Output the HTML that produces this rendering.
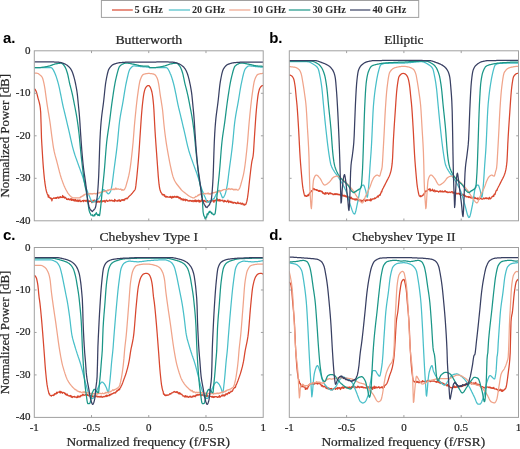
<!DOCTYPE html><html><head><meta charset="utf-8"><style>
*{margin:0;padding:0}
html,body{width:520px;height:449px;overflow:hidden;background:#fff}
svg{display:block}
text{font-family:"Liberation Serif","DejaVu Serif",serif;fill:#262626}
.t,.tk,.al{stroke:#262626;stroke-width:0.22px}
.t{font-size:12.6px}
.tk{font-size:11px}
.al{font-size:12.2px}
.lg{font-size:10.3px;font-weight:bold;fill:#2a2a2a}
.lab{font-family:"Liberation Sans",Arial,sans-serif;font-weight:bold;font-size:15px;fill:#000}
</style></head><body><svg width="520" height="449" viewBox="0 0 520 449">
<rect width="520" height="449" fill="#fff"/>
<filter id="sb" x="-5%" y="-5%" width="110%" height="110%"><feGaussianBlur stdDeviation="0.35"/></filter>
<clipPath id="cla"><rect x="34.3" y="50.3" width="228.9" height="171.0"/></clipPath>
<g clip-path="url(#cla)"><g filter="url(#sb)" fill="none" stroke-width="1.25" stroke-linejoin="round">
<path d="M34.3,88.7 34.7,89.0 35.1,89.4 35.5,90.1 35.9,90.8 36.3,91.7 36.7,92.9 37.1,94.4 37.5,96.0 37.9,97.6 38.3,99.1 38.7,100.4 39.1,101.9 39.5,103.5 39.9,105.4 40.3,108.0 40.7,112.5 41.1,124.2 41.5,138.3 41.9,145.3 42.3,151.7 42.7,158.2 43.1,164.1 43.5,169.1 43.9,173.6 44.3,177.6 44.7,181.2 45.1,184.1 45.5,186.6 45.9,188.9 46.3,190.8 46.7,192.3 47.1,193.4 47.5,194.4 47.9,195.2 48.3,197.0 48.7,195.1 49.1,197.3 49.5,197.3 49.9,197.9 50.3,198.5 50.7,197.8 51.1,198.9 51.5,198.5 51.9,200.8 52.3,199.0 52.7,198.6 53.1,198.5 53.5,198.1 53.9,197.8 54.3,198.0 54.7,198.3 55.1,197.8 55.5,198.3 55.9,197.6 56.3,197.6 56.7,198.4 57.1,197.7 57.5,197.1 57.9,197.2 58.3,197.6 58.7,198.3 59.1,197.0 59.5,197.0 59.9,197.7 60.3,196.6 60.7,196.9 61.1,197.5 61.5,197.3 61.9,197.1 62.3,197.4 62.7,195.5 63.1,197.6 63.5,196.7 63.9,196.4 64.3,197.6 64.7,198.0 65.1,197.6 65.5,197.4 65.9,198.2 66.3,198.4 66.7,199.4 67.1,199.2 67.5,199.0 67.9,199.6 68.3,199.0 68.7,198.7 69.1,199.7 69.5,199.8 69.9,199.4 70.3,199.2 70.7,199.9 71.1,198.5 71.5,200.3 71.9,200.3 72.3,199.2 72.7,200.2 73.1,199.7 73.5,200.7 73.9,199.3 74.3,199.9 74.7,200.9 75.1,201.1 75.5,199.4 75.9,200.3 76.3,200.8 76.7,200.3 77.1,201.5 77.5,200.0 77.9,200.9 78.3,200.1 78.7,201.5 79.1,200.8 79.5,200.6 79.9,199.9 80.3,201.7 80.7,201.3 81.1,201.3 81.5,201.5 81.9,201.1 82.3,200.5 82.7,200.5 83.1,200.5 83.5,201.7 83.9,200.2 84.3,200.6 84.7,200.8 85.1,201.1 85.5,201.3 85.9,200.3 86.3,200.1 86.7,201.1 87.1,201.8 87.5,201.5 87.9,201.2 88.3,201.0 88.7,201.3 89.1,201.0 89.5,201.6 89.9,200.8 90.3,201.3 90.7,201.2 91.1,201.5 91.5,201.4 91.9,202.7 92.3,202.1 92.7,202.1 93.1,200.2 93.5,201.1 93.9,201.0 94.3,201.6 94.7,200.0 95.1,201.9 95.5,201.9 95.9,200.6 96.3,200.8 96.7,200.8 97.1,201.3 97.5,201.6 97.9,202.4 98.3,201.1 98.7,201.7 99.1,201.3 99.5,202.2 99.9,201.6 100.3,201.9 100.7,200.6 101.1,201.0 101.5,200.7 101.9,202.0 102.3,201.5 102.7,200.9 103.1,200.8 103.5,201.3 103.9,200.7 104.3,200.5 104.7,201.3 105.1,202.4 105.5,200.8 105.9,200.7 106.3,200.3 106.7,200.2 107.1,201.2 107.5,201.4 107.9,200.9 108.3,201.0 108.7,200.9 109.1,200.9 109.5,200.0 109.9,200.5 110.3,200.8 110.7,200.3 111.1,200.5 111.5,200.2 111.9,200.5 112.3,201.1 112.7,200.4 113.1,200.5 113.5,201.0 113.9,200.9 114.3,201.5 114.7,199.4 115.1,201.0 115.5,200.2 115.9,200.5 116.3,200.9 116.7,201.0 117.1,201.0 117.5,200.4 117.9,201.2 118.3,200.2 118.7,200.2 119.1,200.7 119.5,199.9 119.9,201.4 120.3,200.7 120.7,201.3 121.1,200.1 121.5,199.8 121.9,200.1 122.3,200.4 122.7,199.6 123.1,200.0 123.5,199.7 123.9,200.6 124.3,199.2 124.7,200.0 125.1,199.0 125.5,198.7 125.9,198.6 126.3,198.2 126.7,198.7 127.1,198.9 127.5,198.1 127.9,197.9 128.3,197.2 128.7,196.8 129.1,196.4 129.5,196.0 129.9,195.6 130.3,195.2 130.7,194.9 131.1,194.5 131.5,194.0 131.9,193.6 132.3,193.2 132.7,192.7 133.1,192.2 133.5,191.7 133.9,191.1 134.3,190.6 134.7,190.1 135.1,189.5 135.5,188.2 135.9,185.4 136.3,181.8 136.7,178.2 137.1,174.2 137.5,170.0 137.9,165.7 138.3,161.2 138.7,156.3 139.1,150.8 139.5,144.6 139.9,138.5 140.3,132.5 140.7,126.5 141.1,120.5 141.5,115.0 141.9,110.2 142.3,105.9 142.7,102.2 143.1,98.9 143.5,95.9 143.9,93.5 144.3,91.7 144.7,90.1 145.1,88.9 145.5,88.0 145.9,87.4 146.3,86.9 146.7,86.4 147.1,86.1 147.5,85.8 147.9,85.6 148.3,85.5 148.7,85.5 149.1,85.6 149.5,86.1 149.9,86.7 150.3,87.3 150.7,88.2 151.1,89.2 151.5,90.5 151.9,92.0 152.3,94.0 152.7,96.6 153.1,100.1 153.5,104.2 153.9,109.5 154.3,117.0 154.7,125.0 155.1,131.8 155.5,138.0 155.9,143.8 156.3,149.3 156.7,154.8 157.1,160.3 157.5,165.7 157.9,171.1 158.3,176.6 158.7,181.0 159.1,184.7 159.5,187.5 159.9,189.3 160.3,190.8 160.7,191.9 161.1,192.7 161.5,193.2 161.9,193.7 162.3,194.9 162.7,194.5 163.1,194.8 163.5,194.8 163.9,194.4 164.3,196.1 164.7,195.0 165.1,196.6 165.5,196.4 165.9,197.2 166.3,196.6 166.7,196.3 167.1,197.1 167.5,196.7 167.9,197.0 168.3,197.2 168.7,197.2 169.1,197.2 169.5,196.9 169.9,197.3 170.3,196.3 170.7,197.4 171.1,196.8 171.5,198.1 171.9,198.2 172.3,196.4 172.7,197.5 173.1,197.3 173.5,196.7 173.9,197.5 174.3,196.9 174.7,196.2 175.1,197.0 175.5,197.0 175.9,197.1 176.3,196.3 176.7,197.3 177.1,197.4 177.5,196.4 177.9,196.8 178.3,197.3 178.7,197.1 179.1,198.6 179.5,197.9 179.9,197.5 180.3,197.8 180.7,198.4 181.1,199.8 181.5,198.7 181.9,199.0 182.3,199.3 182.7,199.1 183.1,200.5 183.5,199.0 183.9,199.8 184.3,199.6 184.7,200.0 185.1,199.1 185.5,200.8 185.9,199.9 186.3,200.0 186.7,199.6 187.1,199.8 187.5,200.6 187.9,200.9 188.3,200.8 188.7,201.1 189.1,200.9 189.5,200.5 189.9,201.0 190.3,200.9 190.7,200.5 191.1,201.0 191.5,201.4 191.9,200.8 192.3,200.5 192.7,201.1 193.1,201.8 193.5,200.6 193.9,200.7 194.3,200.7 194.7,201.5 195.1,199.8 195.5,201.1 195.9,201.5 196.3,200.4 196.7,201.7 197.1,201.2 197.5,200.6 197.9,201.1 198.3,200.1 198.7,200.7 199.1,202.0 199.5,200.5 199.9,202.0 200.3,201.0 200.7,201.6 201.1,201.1 201.5,199.8 201.9,200.8 202.3,201.2 202.7,200.5 203.1,200.4 203.5,201.4 203.9,200.8 204.3,200.3 204.7,200.8 205.1,201.7 205.5,201.0 205.9,201.8 206.3,202.1 206.7,201.3 207.1,200.7 207.5,200.6 207.9,201.3 208.3,201.8 208.7,201.4 209.1,201.6 209.5,201.1 209.9,201.5 210.3,201.0 210.7,201.1 211.1,200.5 211.5,200.3 211.9,200.8 212.3,200.4 212.7,200.4 213.1,201.2 213.5,200.7 213.9,202.3 214.3,201.1 214.7,200.2 215.1,200.9 215.5,200.6 215.9,199.9 216.3,200.9 216.7,199.8 217.1,198.5 217.5,200.6 217.9,199.8 218.3,200.9 218.7,199.7 219.1,199.5 219.5,201.0 219.9,199.6 220.3,200.3 220.7,201.0 221.1,200.4 221.5,200.3 221.9,200.5 222.3,200.9 222.7,200.1 223.1,200.9 223.5,201.0 223.9,202.0 224.3,200.7 224.7,200.4 225.1,201.4 225.5,200.9 225.9,201.3 226.3,201.3 226.7,202.0 227.1,201.1 227.5,201.4 227.9,200.2 228.3,201.2 228.7,202.6 229.1,201.4 229.5,201.5 229.9,201.2 230.3,202.3 230.7,202.1 231.1,201.4 231.5,202.5 231.9,202.4 232.3,202.7 232.7,202.0 233.1,203.3 233.5,202.7 233.9,202.4 234.3,202.3 234.7,202.5 235.1,203.1 235.5,202.6 235.9,203.4 236.3,203.2 236.7,203.6 237.1,203.4 237.5,203.0 237.9,202.0 238.3,203.3 238.7,203.6 239.1,203.3 239.5,203.6 239.9,203.1 240.3,203.2 240.7,203.0 241.1,204.3 241.5,203.7 241.9,203.5 242.3,203.1 242.7,203.8 243.1,204.8 243.5,204.4 243.9,203.8 244.3,205.1 244.7,205.1 245.1,204.8 245.5,204.4 245.9,204.2 246.3,203.0 246.7,201.9 247.1,200.0 247.5,197.9 247.9,195.1 248.3,192.0 248.7,188.4 249.1,184.5 249.5,180.7 249.9,177.1 250.3,173.7 250.7,170.3 251.1,167.0 251.5,164.0 251.9,161.4 252.3,159.7 252.7,158.1 253.1,156.0 253.5,152.3 253.9,145.8 254.3,139.2 254.7,133.2 255.1,127.3 255.5,121.3 255.9,115.6 256.3,110.8 256.7,106.4 257.1,102.7 257.5,99.3 257.9,96.2 258.3,93.7 258.7,91.9 259.1,90.3 259.5,89.0 259.9,88.1 260.3,87.5 260.7,86.9 261.1,86.5 261.5,86.1 261.9,85.8 262.3,85.6 262.7,85.6 263.1,85.5" stroke="#d8462e"/>
<path d="M34.3,67.5 34.7,67.5 35.1,67.5 35.5,67.5 35.9,67.5 36.3,67.5 36.7,67.5 37.1,67.5 37.5,67.5 37.9,67.5 38.3,67.5 38.7,67.5 39.1,67.5 39.5,67.5 39.9,67.5 40.3,67.5 40.7,67.5 41.1,67.5 41.5,67.5 41.9,67.5 42.3,67.5 42.7,67.5 43.1,67.5 43.5,67.5 43.9,67.5 44.3,67.5 44.7,67.5 45.1,67.5 45.5,67.5 45.9,67.5 46.3,67.5 46.7,67.5 47.1,67.5 47.5,67.5 47.9,67.5 48.3,67.5 48.7,67.5 49.1,67.5 49.5,67.5 49.9,67.6 50.3,67.6 50.7,67.6 51.1,67.6 51.5,67.8 51.9,68.1 52.3,68.5 52.7,69.0 53.1,69.6 53.5,70.3 53.9,71.1 54.3,71.9 54.7,72.8 55.1,73.8 55.5,74.8 55.9,75.8 56.3,76.9 56.7,78.1 57.1,79.4 57.5,80.7 57.9,82.1 58.3,83.6 58.7,85.2 59.1,86.9 59.5,88.7 59.9,90.6 60.3,92.6 60.7,94.5 61.1,96.5 61.5,98.5 61.9,100.6 62.3,102.6 62.7,104.5 63.1,106.3 63.5,108.1 63.9,109.7 64.3,111.4 64.7,113.0 65.1,114.6 65.5,116.3 65.9,118.0 66.3,119.7 66.7,121.4 67.1,123.1 67.5,124.8 67.9,126.5 68.3,128.2 68.7,129.9 69.1,131.6 69.5,133.4 69.9,135.2 70.3,137.0 70.7,138.8 71.1,140.6 71.5,142.3 71.9,144.1 72.3,145.8 72.7,147.4 73.1,148.9 73.5,150.3 73.9,151.7 74.3,153.0 74.7,154.3 75.1,155.5 75.5,156.6 75.9,157.8 76.3,158.9 76.7,160.0 77.1,161.1 77.5,162.3 77.9,163.4 78.3,164.5 78.7,165.6 79.1,166.7 79.5,167.8 79.9,168.9 80.3,170.0 80.7,171.1 81.1,172.2 81.5,173.3 81.9,174.4 82.3,175.6 82.7,176.8 83.1,178.1 83.5,179.4 83.9,180.7 84.3,182.1 84.7,183.4 85.1,184.7 85.5,186.0 85.9,187.2 86.3,188.4 86.7,189.6 87.1,190.6 87.5,191.7 87.9,192.8 88.3,193.8 88.7,194.7 89.1,195.6 89.5,196.5 89.9,197.4 90.3,198.4 90.7,199.3 91.1,200.2 91.5,201.1 91.9,201.7 92.3,202.1 92.7,202.3 93.1,202.2 93.5,202.0 93.9,201.8 94.3,201.7 94.7,201.4 95.1,200.7 95.5,201.1 95.9,200.5 96.3,200.8 96.7,199.3 97.1,199.8 97.5,199.6 97.9,198.9 98.3,198.8 98.7,198.6 99.1,198.0 99.5,197.1 99.9,196.3 100.3,195.8 100.7,195.0 101.1,193.8 101.5,193.0 101.9,192.2 102.3,191.6 102.7,190.2 103.1,189.7 103.5,190.0 103.9,189.7 104.3,190.1 104.7,190.5 105.1,190.8 105.5,190.6 105.9,191.5 106.3,191.2 106.7,192.4 107.1,192.8 107.5,193.3 107.9,193.7 108.3,193.8 108.7,193.7 109.1,193.4 109.5,193.0 109.9,192.5 110.3,191.8 110.7,191.0 111.1,189.6 111.5,187.7 111.9,185.6 112.3,183.1 112.7,180.2 113.1,176.9 113.5,173.6 113.9,170.5 114.3,167.5 114.7,164.6 115.1,161.6 115.5,158.7 115.9,155.7 116.3,152.6 116.7,149.4 117.1,146.0 117.5,142.4 117.9,138.3 118.3,133.9 118.7,129.5 119.1,125.4 119.5,122.0 119.9,119.1 120.3,116.5 120.7,114.1 121.1,111.9 121.5,109.8 121.9,107.7 122.3,105.6 122.7,103.4 123.1,101.1 123.5,98.7 123.9,96.2 124.3,93.7 124.7,91.2 125.1,88.8 125.5,86.5 125.9,84.4 126.3,82.5 126.7,80.7 127.1,78.8 127.5,77.0 127.9,75.3 128.3,73.7 128.7,72.2 129.1,70.9 129.5,69.9 129.9,69.1 130.3,68.6 130.7,68.1 131.1,67.7 131.5,67.3 131.9,66.9 132.3,66.6 132.7,66.3 133.1,66.1 133.5,66.0 133.9,65.9 134.3,65.9 134.7,65.9 135.1,65.9 135.5,66.0 135.9,66.0 136.3,66.0 136.7,66.1 137.1,66.1 137.5,66.2 137.9,66.2 138.3,66.3 138.7,66.3 139.1,66.4 139.5,66.4 139.9,66.5 140.3,66.6 140.7,66.6 141.1,66.6 141.5,66.7 141.9,66.7 142.3,66.7 142.7,66.8 143.1,66.8 143.5,66.8 143.9,66.8 144.3,66.9 144.7,66.9 145.1,66.9 145.5,66.9 145.9,66.9 146.3,67.0 146.7,67.0 147.1,67.0 147.5,67.1 147.9,67.1 148.3,67.1 148.7,67.2 149.1,67.3 149.5,67.5 149.9,67.5 150.3,67.5 150.7,67.5 151.1,67.5 151.5,67.5 151.9,67.5 152.3,67.5 152.7,67.5 153.1,67.5 153.5,67.5 153.9,67.5 154.3,67.5 154.7,67.5 155.1,67.5 155.5,67.5 155.9,67.5 156.3,67.5 156.7,67.5 157.1,67.5 157.5,67.5 157.9,67.5 158.3,67.5 158.7,67.5 159.1,67.5 159.5,67.5 159.9,67.5 160.3,67.5 160.7,67.5 161.1,67.5 161.5,67.5 161.9,67.5 162.3,67.5 162.7,67.5 163.1,67.5 163.5,67.5 163.9,67.5 164.3,67.5 164.7,67.5 165.1,67.6 165.5,67.6 165.9,67.6 166.3,67.6 166.7,67.8 167.1,68.1 167.5,68.4 167.9,68.9 168.3,69.5 168.7,70.2 169.1,71.0 169.5,71.8 169.9,72.7 170.3,73.7 170.7,74.6 171.1,75.6 171.5,76.7 171.9,77.9 172.3,79.2 172.7,80.5 173.1,82.0 173.5,83.4 173.9,85.0 174.3,86.7 174.7,88.5 175.1,90.4 175.5,92.3 175.9,94.2 176.3,96.2 176.7,98.3 177.1,100.3 177.5,102.4 177.9,104.3 178.3,106.1 178.7,107.9 179.1,109.5 179.5,111.2 179.9,112.8 180.3,114.4 180.7,116.1 181.1,117.8 181.5,119.5 181.9,121.2 182.3,122.9 182.7,124.6 183.1,126.3 183.5,128.0 183.9,129.7 184.3,131.4 184.7,133.2 185.1,134.9 185.5,136.7 185.9,138.5 186.3,140.3 186.7,142.1 187.1,143.9 187.5,145.6 187.9,147.2 188.3,148.7 188.7,150.2 189.1,151.5 189.5,152.8 189.9,154.1 190.3,155.3 190.7,156.5 191.1,157.6 191.5,158.8 191.9,159.9 192.3,161.0 192.7,162.1 193.1,163.3 193.5,164.4 193.9,165.5 194.3,166.6 194.7,167.7 195.1,168.8 195.5,169.9 195.9,170.9 196.3,172.0 196.7,173.1 197.1,174.3 197.5,175.5 197.9,176.7 198.3,177.9 198.7,179.2 199.1,180.6 199.5,181.9 199.9,183.2 200.3,184.6 200.7,185.8 201.1,187.1 201.5,188.3 201.9,189.4 202.3,190.5 202.7,191.6 203.1,192.6 203.5,193.6 203.9,194.6 204.3,195.5 204.7,196.4 205.1,197.3 205.5,198.2 205.9,199.2 206.3,200.1 206.7,201.0 207.1,201.6 207.5,202.1 207.9,202.3 208.3,201.8 208.7,201.7 209.1,202.0 209.5,201.4 209.9,201.0 210.3,200.8 210.7,200.9 211.1,200.4 211.5,200.2 211.9,200.2 212.3,199.4 212.7,199.2 213.1,198.9 213.5,199.1 213.9,198.7 214.3,198.3 214.7,197.3 215.1,196.4 215.5,195.8 215.9,194.6 216.3,194.2 216.7,193.3 217.1,192.0 217.5,191.3 217.9,190.6 218.3,190.7 218.7,190.8 219.1,190.3 219.5,190.9 219.9,191.1 220.3,192.7 220.7,193.4 221.1,194.4 221.5,195.5 221.9,196.6 222.3,197.4 222.7,197.8 223.1,197.7 223.5,197.3 223.9,196.8 224.3,196.0 224.7,195.2 225.1,194.3 225.5,193.1 225.9,191.6 226.3,189.9 226.7,187.9 227.1,185.8 227.5,183.5 227.9,180.6 228.3,177.3 228.7,174.0 229.1,170.9 229.5,167.9 229.9,164.9 230.3,162.0 230.7,159.1 231.1,156.1 231.5,153.0 231.9,149.8 232.3,146.5 232.7,142.9 233.1,138.9 233.5,134.5 233.9,130.0 234.3,125.9 234.7,122.4 235.1,119.5 235.5,116.8 235.9,114.4 236.3,112.2 236.7,110.0 237.1,107.9 237.5,105.8 237.9,103.7 238.3,101.4 238.7,99.0 239.1,96.5 239.5,94.0 239.9,91.5 240.3,89.1 240.7,86.8 241.1,84.7 241.5,82.8 241.9,80.9 242.3,79.1 242.7,77.2 243.1,75.5 243.5,73.9 243.9,72.4 244.3,71.1 244.7,70.0 245.1,69.2 245.5,68.7 245.9,68.2 246.3,67.7 246.7,67.3 247.1,66.9 247.5,66.6 247.9,66.3 248.3,66.1 248.7,66.0 249.1,65.9 249.5,65.9 249.9,65.9 250.3,65.9 250.7,66.0 251.1,66.0 251.5,66.0 251.9,66.1 252.3,66.1 252.7,66.2 253.1,66.2 253.5,66.3 253.9,66.3 254.3,66.4 254.7,66.4 255.1,66.5 255.5,66.5 255.9,66.6 256.3,66.6 256.7,66.7 257.1,66.7 257.5,66.7 257.9,66.8 258.3,66.8 258.7,66.8 259.1,66.9 259.5,66.9 259.9,66.9 260.3,67.0 260.7,67.0 261.1,67.0 261.5,67.0 261.9,67.1 262.3,67.1 262.7,67.1 263.1,67.1 263.5,67.2 263.9,67.2" stroke="#48bfc9"/>
<path d="M34.3,73.0 34.7,73.0 35.1,73.0 35.5,73.1 35.9,73.1 36.3,73.2 36.7,73.2 37.1,73.3 37.5,73.4 37.9,73.5 38.3,73.6 38.7,73.9 39.1,74.2 39.5,74.5 39.9,74.9 40.3,75.3 40.7,75.6 41.1,75.9 41.5,76.3 41.9,76.8 42.3,77.5 42.7,78.5 43.1,79.8 43.5,81.4 43.9,83.2 44.3,85.2 44.7,87.3 45.1,89.9 45.5,92.9 45.9,95.9 46.3,98.7 46.7,101.6 47.1,104.3 47.5,106.9 47.9,109.4 48.3,111.8 48.7,114.2 49.1,116.6 49.5,119.0 49.9,121.6 50.3,124.4 50.7,127.5 51.1,130.6 51.5,133.8 51.9,136.8 52.3,139.7 52.7,142.5 53.1,145.3 53.5,147.8 53.9,150.0 54.3,151.9 54.7,153.6 55.1,155.2 55.5,156.6 55.9,158.1 56.3,159.5 56.7,161.0 57.1,162.6 57.5,164.1 57.9,165.7 58.3,167.3 58.7,168.9 59.1,170.4 59.5,172.0 59.9,173.4 60.3,174.9 60.7,176.2 61.1,177.5 61.5,178.7 61.9,179.9 62.3,181.0 62.7,182.1 63.1,183.2 63.5,184.3 63.9,185.3 64.3,186.2 64.7,187.1 65.1,188.0 65.5,188.8 65.9,189.6 66.3,190.3 66.7,191.0 67.1,191.7 67.5,192.4 67.9,193.1 68.3,193.7 68.7,194.2 69.1,194.7 69.5,195.2 69.9,195.6 70.3,196.0 70.7,196.3 71.1,196.7 71.5,197.0 71.9,197.3 72.3,197.6 72.7,197.8 73.1,197.9 73.5,197.9 73.9,197.9 74.3,197.9 74.7,197.9 75.1,197.9 75.5,197.9 75.9,197.9 76.3,197.9 76.7,197.9 77.1,197.9 77.5,197.9 77.9,197.9 78.3,197.9 78.7,197.9 79.1,197.9 79.5,197.8 79.9,197.7 80.3,197.2 80.7,197.6 81.1,196.6 81.5,196.7 81.9,196.5 82.3,195.8 82.7,196.2 83.1,196.0 83.5,195.0 83.9,194.8 84.3,195.1 84.7,194.7 85.1,194.1 85.5,194.1 85.9,194.0 86.3,193.8 86.7,194.0 87.1,193.9 87.5,194.3 87.9,194.1 88.3,193.9 88.7,194.0 89.1,194.1 89.5,193.9 89.9,193.3 90.3,193.9 90.7,193.7 91.1,194.1 91.5,193.6 91.9,193.8 92.3,193.7 92.7,194.1 93.1,193.6 93.5,193.5 93.9,193.7 94.3,193.4 94.7,193.6 95.1,193.5 95.5,193.6 95.9,194.1 96.3,193.4 96.7,193.5 97.1,193.4 97.5,193.6 97.9,192.9 98.3,192.9 98.7,193.0 99.1,193.0 99.5,192.6 99.9,192.4 100.3,192.2 100.7,192.5 101.1,192.6 101.5,192.2 101.9,192.1 102.3,192.0 102.7,191.5 103.1,191.6 103.5,191.5 103.9,191.6 104.3,191.4 104.7,190.9 105.1,191.5 105.5,191.6 105.9,190.9 106.3,190.9 106.7,190.8 107.1,190.8 107.5,190.0 107.9,190.8 108.3,190.0 108.7,190.4 109.1,189.9 109.5,189.7 109.9,189.7 110.3,189.9 110.7,189.3 111.1,189.4 111.5,189.3 111.9,188.9 112.3,189.7 112.7,189.5 113.1,189.2 113.5,189.6 113.9,188.9 114.3,189.1 114.7,189.6 115.1,189.4 115.5,188.4 115.9,188.0 116.3,188.7 116.7,189.3 117.1,188.9 117.5,188.9 117.9,189.2 118.3,188.8 118.7,189.1 119.1,189.3 119.5,189.3 119.9,189.3 120.3,189.0 120.7,189.4 121.1,189.2 121.5,189.8 121.9,190.3 122.3,189.6 122.7,189.9 123.1,190.1 123.5,190.2 123.9,190.0 124.3,189.5 124.7,189.0 125.1,188.3 125.5,187.4 125.9,186.2 126.3,184.8 126.7,183.3 127.1,182.0 127.5,180.6 127.9,179.1 128.3,177.5 128.7,175.9 129.1,174.0 129.5,172.0 129.9,169.7 130.3,167.1 130.7,164.1 131.1,161.0 131.5,157.5 131.9,154.0 132.3,150.2 132.7,146.3 133.1,142.2 133.5,137.3 133.9,132.1 134.3,126.9 134.7,122.4 135.1,118.2 135.5,114.1 135.9,110.2 136.3,106.4 136.7,102.8 137.1,99.4 137.5,96.2 137.9,93.3 138.3,90.4 138.7,87.7 139.1,85.1 139.5,82.8 139.9,81.0 140.3,79.7 140.7,78.7 141.1,77.7 141.5,76.8 141.9,76.1 142.3,75.4 142.7,74.9 143.1,74.6 143.5,74.4 143.9,74.3 144.3,74.1 144.7,74.0 145.1,73.9 145.5,73.8 145.9,73.7 146.3,73.7 146.7,73.6 147.1,73.5 147.5,73.5 147.9,73.4 148.3,73.3 148.7,73.3 149.1,73.3 149.5,73.4 149.9,73.5 150.3,73.5 150.7,73.6 151.1,73.6 151.5,73.7 151.9,73.7 152.3,73.8 152.7,73.8 153.1,73.9 153.5,74.1 153.9,74.2 154.3,74.4 154.7,74.6 155.1,74.9 155.5,75.3 155.9,75.9 156.3,76.5 156.7,77.2 157.1,78.1 157.5,79.1 157.9,80.3 158.3,82.1 158.7,84.2 159.1,86.6 159.5,89.5 159.9,92.6 160.3,95.3 160.7,97.8 161.1,100.2 161.5,102.8 161.9,105.3 162.3,108.0 162.7,111.2 163.1,115.4 163.5,119.8 163.9,124.0 164.3,127.7 164.7,131.2 165.1,134.5 165.5,137.5 165.9,140.4 166.3,143.1 166.7,145.6 167.1,148.0 167.5,150.3 167.9,152.6 168.3,154.8 168.7,157.0 169.1,159.2 169.5,161.3 169.9,163.4 170.3,165.3 170.7,167.2 171.1,169.0 171.5,170.8 171.9,172.5 172.3,174.1 172.7,175.6 173.1,176.9 173.5,178.1 173.9,179.0 174.3,179.9 174.7,180.8 175.1,181.5 175.5,182.2 175.9,182.8 176.3,183.5 176.7,184.0 177.1,184.5 177.5,185.0 177.9,185.5 178.3,186.0 178.7,186.5 179.1,187.0 179.5,187.5 179.9,188.0 180.3,188.5 180.7,189.0 181.1,189.5 181.5,190.0 181.9,190.4 182.3,190.8 182.7,191.1 183.1,191.5 183.5,191.8 183.9,192.1 184.3,192.4 184.7,192.7 185.1,193.0 185.5,193.3 185.9,193.6 186.3,194.0 186.7,194.3 187.1,194.6 187.5,194.9 187.9,195.2 188.3,195.5 188.7,195.8 189.1,196.1 189.5,196.3 189.9,196.5 190.3,196.7 190.7,196.9 191.1,197.1 191.5,197.3 191.9,197.5 192.3,197.6 192.7,197.8 193.1,197.9 193.5,197.9 193.9,197.9 194.3,197.7 194.7,197.6 195.1,197.1 195.5,196.4 195.9,196.7 196.3,196.6 196.7,196.6 197.1,196.3 197.5,195.5 197.9,195.2 198.3,195.6 198.7,194.7 199.1,195.0 199.5,194.4 199.9,194.5 200.3,194.2 200.7,194.1 201.1,194.1 201.5,193.5 201.9,193.8 202.3,193.7 202.7,193.8 203.1,194.1 203.5,193.6 203.9,193.5 204.3,193.4 204.7,193.5 205.1,193.9 205.5,193.4 205.9,194.0 206.3,193.7 206.7,193.5 207.1,193.2 207.5,193.7 207.9,193.8 208.3,193.0 208.7,193.9 209.1,194.0 209.5,193.6 209.9,193.7 210.3,194.3 210.7,193.9 211.1,193.2 211.5,193.5 211.9,193.3 212.3,193.2 212.7,192.4 213.1,193.2 213.5,192.6 213.9,192.7 214.3,192.5 214.7,192.7 215.1,192.2 215.5,192.0 215.9,192.3 216.3,192.4 216.7,191.8 217.1,192.2 217.5,191.8 217.9,191.4 218.3,192.0 218.7,191.2 219.1,191.6 219.5,191.0 219.9,191.2 220.3,190.6 220.7,190.6 221.1,191.0 221.5,190.6 221.9,190.4 222.3,190.2 222.7,190.3 223.1,189.6 223.5,189.6 223.9,189.8 224.3,189.5 224.7,189.4 225.1,189.5 225.5,189.5 225.9,189.4 226.3,189.9 226.7,189.6 227.1,189.7 227.5,189.2 227.9,189.1 228.3,188.7 228.7,189.0 229.1,188.5 229.5,188.9 229.9,189.3 230.3,189.5 230.7,189.3 231.1,188.7 231.5,189.1 231.9,188.8 232.3,189.3 232.7,189.0 233.1,189.3 233.5,189.9 233.9,189.4 234.3,189.9 234.7,189.3 235.1,189.2 235.5,189.7 235.9,189.9 236.3,189.3 236.7,189.6 237.1,189.8 237.5,190.1 237.9,190.2 238.3,190.0 238.7,189.6 239.1,189.0 239.5,188.4 239.9,187.5 240.3,186.3 240.7,185.0 241.1,183.5 241.5,182.1 241.9,180.7 242.3,179.3 242.7,177.7 243.1,176.1 243.5,174.3 243.9,172.3 244.3,170.0 244.7,167.4 245.1,164.5 245.5,161.4 245.9,158.0 246.3,154.4 246.7,150.7 247.1,146.8 247.5,142.7 247.9,137.9 248.3,132.7 248.7,127.6 249.1,123.0 249.5,118.8 249.9,114.6 250.3,110.7 250.7,106.8 251.1,103.2 251.5,99.8 251.9,96.6 252.3,93.6 252.7,90.8 253.1,88.0 253.5,85.4 253.9,83.1 254.3,81.2 254.7,79.9 255.1,78.8 255.5,77.8 255.9,76.9 256.3,76.2 256.7,75.5 257.1,75.0 257.5,74.6 257.9,74.4 258.3,74.3 258.7,74.1 259.1,74.0 259.5,73.9 259.9,73.8 260.3,73.7 260.7,73.7 261.1,73.6 261.5,73.5 261.9,73.5 262.3,73.4 262.7,73.4 263.1,73.3" stroke="#f0a48a"/>
<path d="M34.3,67.7 34.7,67.7 35.1,67.7 35.5,67.7 35.9,67.7 36.3,67.7 36.7,67.7 37.1,67.6 37.5,67.6 37.9,67.6 38.3,67.6 38.7,67.6 39.1,67.5 39.5,67.5 39.9,67.5 40.3,67.5 40.7,67.5 41.1,67.4 41.5,67.4 41.9,67.3 42.3,67.3 42.7,67.2 43.1,67.2 43.5,67.1 43.9,67.1 44.3,67.0 44.7,66.9 45.1,66.9 45.5,66.8 45.9,66.7 46.3,66.6 46.7,66.6 47.1,66.5 47.5,66.4 47.9,66.3 48.3,66.2 48.7,66.1 49.1,66.1 49.5,66.0 49.9,65.8 50.3,65.7 50.7,65.6 51.1,65.4 51.5,65.3 51.9,65.1 52.3,64.9 52.7,64.8 53.1,64.6 53.5,64.5 53.9,64.4 54.3,64.2 54.7,64.1 55.1,64.0 55.5,63.9 55.9,63.8 56.3,63.8 56.7,63.7 57.1,63.6 57.5,63.6 57.9,63.5 58.3,63.4 58.7,63.4 59.1,63.3 59.5,63.3 59.9,63.3 60.3,63.2 60.7,63.2 61.1,63.2 61.5,63.2 61.9,63.4 62.3,63.6 62.7,64.0 63.1,64.4 63.5,64.8 63.9,65.3 64.3,65.8 64.7,66.4 65.1,67.1 65.5,67.9 65.9,68.8 66.3,69.8 66.7,71.0 67.1,72.2 67.5,73.5 67.9,75.1 68.3,77.0 68.7,79.0 69.1,81.0 69.5,82.8 69.9,84.5 70.3,86.0 70.7,87.6 71.1,89.1 71.5,90.7 71.9,92.3 72.3,94.0 72.7,95.8 73.1,97.8 73.5,99.8 73.9,101.9 74.3,104.0 74.7,106.0 75.1,108.0 75.5,110.1 75.9,112.2 76.3,114.3 76.7,116.7 77.1,119.2 77.5,121.9 77.9,124.7 78.3,127.7 78.7,130.9 79.1,134.3 79.5,138.2 79.9,142.6 80.3,146.9 80.7,151.0 81.1,154.9 81.5,158.7 81.9,162.3 82.3,165.8 82.7,169.2 83.1,172.6 83.5,175.9 83.9,178.9 84.3,181.7 84.7,184.2 85.1,186.3 85.5,188.1 85.9,189.9 86.3,191.8 86.7,193.8 87.1,196.3 87.5,199.3 87.9,202.3 88.3,205.2 88.7,208.1 89.1,210.3 89.5,211.7 89.9,212.9 90.3,213.2 90.7,214.4 91.1,215.3 91.5,215.0 91.9,214.9 92.3,214.7 92.7,215.7 93.1,216.0 93.5,215.9 93.9,215.7 94.3,214.6 94.7,215.8 95.1,214.5 95.5,214.0 95.9,214.2 96.3,212.7 96.7,213.9 97.1,214.1 97.5,214.6 97.9,215.5 98.3,215.3 98.7,214.5 99.1,215.4 99.5,215.6 99.9,213.7 100.3,210.3 100.7,206.7 101.1,203.0 101.5,198.7 101.9,194.4 102.3,190.5 102.7,186.7 103.1,182.9 103.5,179.0 103.9,175.1 104.3,170.9 104.7,166.2 105.1,161.0 105.5,155.8 105.9,150.7 106.3,146.0 106.7,142.0 107.1,138.6 107.5,135.6 107.9,132.8 108.3,130.2 108.7,127.5 109.1,124.9 109.5,122.0 109.9,118.9 110.3,115.7 110.7,112.5 111.1,109.2 111.5,106.1 111.9,103.1 112.3,100.3 112.7,97.6 113.1,94.9 113.5,92.2 113.9,89.7 114.3,87.2 114.7,84.8 115.1,82.6 115.5,80.6 115.9,78.8 116.3,77.2 116.7,75.5 117.1,73.9 117.5,72.3 117.9,70.9 118.3,69.5 118.7,68.3 119.1,67.3 119.5,66.5 119.9,66.0 120.3,65.7 120.7,65.3 121.1,65.0 121.5,64.8 121.9,64.5 122.3,64.3 122.7,64.1 123.1,63.9 123.5,63.7 123.9,63.5 124.3,63.4 124.7,63.3 125.1,63.2 125.5,63.1 125.9,63.1 126.3,63.1 126.7,63.1 127.1,63.1 127.5,63.2 127.9,63.2 128.3,63.2 128.7,63.3 129.1,63.4 129.5,63.4 129.9,63.5 130.3,63.6 130.7,63.6 131.1,63.7 131.5,63.8 131.9,63.9 132.3,64.0 132.7,64.1 133.1,64.1 133.5,64.2 133.9,64.3 134.3,64.4 134.7,64.4 135.1,64.5 135.5,64.6 135.9,64.7 136.3,64.8 136.7,64.9 137.1,65.0 137.5,65.1 137.9,65.2 138.3,65.3 138.7,65.4 139.1,65.5 139.5,65.6 139.9,65.6 140.3,65.7 140.7,65.8 141.1,65.8 141.5,65.9 141.9,65.9 142.3,65.9 142.7,66.0 143.1,66.0 143.5,66.0 143.9,66.0 144.3,66.0 144.7,66.0 145.1,66.0 145.5,66.1 145.9,66.1 146.3,66.1 146.7,66.1 147.1,66.1 147.5,66.2 147.9,66.2 148.3,66.2 148.7,66.3 149.1,66.9 149.5,67.7 149.9,67.7 150.3,67.7 150.7,67.7 151.1,67.7 151.5,67.7 151.9,67.7 152.3,67.6 152.7,67.6 153.1,67.6 153.5,67.6 153.9,67.6 154.3,67.6 154.7,67.5 155.1,67.5 155.5,67.5 155.9,67.5 156.3,67.4 156.7,67.4 157.1,67.3 157.5,67.3 157.9,67.2 158.3,67.2 158.7,67.1 159.1,67.1 159.5,67.0 159.9,66.9 160.3,66.9 160.7,66.8 161.1,66.7 161.5,66.7 161.9,66.6 162.3,66.5 162.7,66.4 163.1,66.3 163.5,66.2 163.9,66.2 164.3,66.1 164.7,66.0 165.1,65.8 165.5,65.7 165.9,65.6 166.3,65.4 166.7,65.3 167.1,65.1 167.5,65.0 167.9,64.8 168.3,64.7 168.7,64.5 169.1,64.4 169.5,64.2 169.9,64.1 170.3,64.0 170.7,63.9 171.1,63.9 171.5,63.8 171.9,63.7 172.3,63.6 172.7,63.6 173.1,63.5 173.5,63.4 173.9,63.4 174.3,63.3 174.7,63.3 175.1,63.3 175.5,63.2 175.9,63.2 176.3,63.2 176.7,63.2 177.1,63.4 177.5,63.6 177.9,63.9 178.3,64.3 178.7,64.8 179.1,65.3 179.5,65.8 179.9,66.3 180.3,67.0 180.7,67.8 181.1,68.7 181.5,69.7 181.9,70.8 182.3,72.0 182.7,73.3 183.1,74.9 183.5,76.8 183.9,78.7 184.3,80.7 184.7,82.6 185.1,84.3 185.5,85.8 185.9,87.4 186.3,88.9 186.7,90.5 187.1,92.1 187.5,93.8 187.9,95.6 188.3,97.5 188.7,99.6 189.1,101.6 189.5,103.7 189.9,105.8 190.3,107.8 190.7,109.8 191.1,111.9 191.5,114.1 191.9,116.4 192.3,118.9 192.7,121.5 193.1,124.3 193.5,127.3 193.9,130.5 194.3,133.8 194.7,137.7 195.1,142.0 195.5,146.4 195.9,150.5 196.3,154.4 196.7,158.2 197.1,161.9 197.5,165.4 197.9,168.8 198.3,172.2 198.7,175.5 199.1,178.6 199.5,181.4 199.9,183.9 200.3,185.8 200.7,187.3 201.1,188.9 201.5,190.7 201.9,193.1 202.3,196.9 202.7,205.6 203.1,212.0 203.5,214.1 203.9,215.8 204.3,216.5 204.7,217.2 205.1,218.9 205.5,218.9 205.9,218.2 206.3,216.5 206.7,217.2 207.1,213.8 207.5,214.1 207.9,214.8 208.3,213.1 208.7,212.8 209.1,211.6 209.5,212.5 209.9,211.1 210.3,211.9 210.7,212.2 211.1,212.1 211.5,213.6 211.9,212.9 212.3,213.6 212.7,214.1 213.1,214.0 213.5,214.6 213.9,214.9 214.3,214.3 214.7,214.2 215.1,213.6 215.5,211.1 215.9,207.6 216.3,203.3 216.7,198.9 217.1,194.8 217.5,191.1 217.9,187.3 218.3,183.4 218.7,179.5 219.1,175.6 219.5,171.5 219.9,166.8 220.3,161.7 220.7,156.5 221.1,151.3 221.5,146.6 221.9,142.5 222.3,139.0 222.7,135.9 223.1,133.1 223.5,130.5 223.9,127.9 224.3,125.2 224.7,122.4 225.1,119.3 225.5,116.1 225.9,112.9 226.3,109.6 226.7,106.5 227.1,103.5 227.5,100.7 227.9,97.9 228.3,95.2 228.7,92.6 229.1,90.0 229.5,87.5 229.9,85.1 230.3,82.9 230.7,80.9 231.1,79.0 231.5,77.4 231.9,75.7 232.3,74.1 232.7,72.5 233.1,71.0 233.5,69.7 233.9,68.5 234.3,67.4 234.7,66.6 235.1,66.0 235.5,65.7 235.9,65.4 236.3,65.1 236.7,64.8 237.1,64.5 237.5,64.3 237.9,64.1 238.3,63.9 238.7,63.7 239.1,63.5 239.5,63.4 239.9,63.3 240.3,63.2 240.7,63.1 241.1,63.1 241.5,63.1 241.9,63.1 242.3,63.1 242.7,63.2 243.1,63.2 243.5,63.2 243.9,63.3 244.3,63.3 244.7,63.4 245.1,63.5 245.5,63.6 245.9,63.6 246.3,63.7 246.7,63.8 247.1,63.9 247.5,64.0 247.9,64.0 248.3,64.1 248.7,64.2 249.1,64.3 249.5,64.3 249.9,64.4 250.3,64.5 250.7,64.6 251.1,64.7 251.5,64.8 251.9,64.9 252.3,65.0 252.7,65.1 253.1,65.2 253.5,65.3 253.9,65.4 254.3,65.5 254.7,65.6 255.1,65.6 255.5,65.7 255.9,65.8 256.3,65.8 256.7,65.9 257.1,65.9 257.5,65.9 257.9,66.0 258.3,66.0 258.7,66.0 259.1,66.1 259.5,66.1 259.9,66.1 260.3,66.2 260.7,66.2 261.1,66.2 261.5,66.2 261.9,66.3 262.3,66.3 262.7,66.3 263.1,66.3 263.5,66.3 263.9,66.3" stroke="#1a9687"/>
<path d="M34.3,61.9 34.7,61.9 35.1,61.9 35.5,61.9 35.9,61.9 36.3,61.9 36.7,61.9 37.1,61.9 37.5,61.9 37.9,61.9 38.3,61.9 38.7,61.9 39.1,61.9 39.5,61.9 39.9,61.9 40.3,61.9 40.7,61.9 41.1,61.9 41.5,61.9 41.9,61.9 42.3,61.9 42.7,61.9 43.1,61.9 43.5,61.9 43.9,61.9 44.3,61.9 44.7,61.9 45.1,61.9 45.5,61.9 45.9,61.9 46.3,61.9 46.7,61.9 47.1,61.9 47.5,61.9 47.9,61.9 48.3,61.9 48.7,61.9 49.1,61.9 49.5,61.9 49.9,61.9 50.3,61.9 50.7,61.9 51.1,61.9 51.5,61.9 51.9,61.9 52.3,61.9 52.7,61.9 53.1,61.9 53.5,61.9 53.9,61.9 54.3,62.0 54.7,62.0 55.1,62.0 55.5,62.0 55.9,62.0 56.3,62.0 56.7,62.0 57.1,62.1 57.5,62.1 57.9,62.1 58.3,62.2 58.7,62.2 59.1,62.3 59.5,62.3 59.9,62.4 60.3,62.4 60.7,62.5 61.1,62.6 61.5,62.7 61.9,62.8 62.3,63.0 62.7,63.1 63.1,63.2 63.5,63.4 63.9,63.5 64.3,63.7 64.7,63.9 65.1,64.1 65.5,64.3 65.9,64.5 66.3,64.8 66.7,65.0 67.1,65.3 67.5,65.6 67.9,65.9 68.3,66.2 68.7,66.6 69.1,67.0 69.5,67.4 69.9,67.9 70.3,68.4 70.7,68.9 71.1,69.6 71.5,70.3 71.9,71.1 72.3,72.0 72.7,73.0 73.1,74.2 73.5,75.5 73.9,76.9 74.3,78.4 74.7,79.9 75.1,81.7 75.5,83.5 75.9,85.5 76.3,87.6 76.7,89.9 77.1,92.5 77.5,95.7 77.9,99.7 78.3,104.0 78.7,108.0 79.1,112.1 79.5,116.7 79.9,122.4 80.3,128.8 80.7,134.9 81.1,140.6 81.5,146.2 81.9,151.2 82.3,155.9 82.7,160.3 83.1,164.3 83.5,167.8 83.9,171.0 84.3,173.8 84.7,176.4 85.1,179.1 85.5,181.9 85.9,185.0 86.3,188.6 86.7,192.2 87.1,195.6 87.5,198.3 87.9,200.9 88.3,203.1 88.7,205.1 89.1,206.9 89.5,207.8 89.9,208.8 90.3,209.4 90.7,209.7 91.1,210.7 91.5,210.6 91.9,211.1 92.3,211.6 92.7,210.8 93.1,210.8 93.5,210.1 93.9,210.0 94.3,209.3 94.7,209.0 95.1,208.2 95.5,207.3 95.9,205.6 96.3,202.6 96.7,200.4 97.1,197.8 97.5,194.1 97.9,189.2 98.3,183.3 98.7,175.8 99.1,164.5 99.5,151.8 99.9,140.8 100.3,133.2 100.7,127.0 101.1,122.0 101.5,118.0 101.9,114.5 102.3,111.4 102.7,108.5 103.1,105.6 103.5,102.5 103.9,99.0 104.3,95.2 104.7,91.3 105.1,87.5 105.5,84.2 105.9,81.5 106.3,79.3 106.7,77.2 107.1,75.3 107.5,73.5 107.9,72.0 108.3,70.6 108.7,69.6 109.1,68.8 109.5,68.2 109.9,67.6 110.3,67.1 110.7,66.6 111.1,66.2 111.5,65.8 111.9,65.4 112.3,65.1 112.7,64.8 113.1,64.6 113.5,64.4 113.9,64.2 114.3,64.1 114.7,63.9 115.1,63.8 115.5,63.7 115.9,63.5 116.3,63.4 116.7,63.3 117.1,63.2 117.5,63.1 117.9,63.0 118.3,62.9 118.7,62.9 119.1,62.8 119.5,62.7 119.9,62.7 120.3,62.6 120.7,62.6 121.1,62.5 121.5,62.5 121.9,62.5 122.3,62.4 122.7,62.4 123.1,62.4 123.5,62.4 123.9,62.3 124.3,62.3 124.7,62.3 125.1,62.3 125.5,62.2 125.9,62.2 126.3,62.2 126.7,62.2 127.1,62.2 127.5,62.1 127.9,62.1 128.3,62.1 128.7,62.1 129.1,62.1 129.5,62.1 129.9,62.1 130.3,62.0 130.7,62.0 131.1,62.0 131.5,62.0 131.9,62.0 132.3,62.0 132.7,62.0 133.1,62.0 133.5,62.0 133.9,62.0 134.3,62.0 134.7,62.0 135.1,62.0 135.5,62.0 135.9,62.0 136.3,62.0 136.7,62.0 137.1,62.0 137.5,62.0 137.9,62.0 138.3,62.0 138.7,62.0 139.1,62.0 139.5,62.0 139.9,62.0 140.3,62.0 140.7,62.0 141.1,62.0 141.5,62.0 141.9,62.0 142.3,62.0 142.7,62.0 143.1,62.0 143.5,62.0 143.9,62.0 144.3,62.0 144.7,62.0 145.1,62.0 145.5,62.0 145.9,62.0 146.3,62.0 146.7,62.0 147.1,62.0 147.5,62.0 147.9,62.0 148.3,62.0 148.7,62.0 149.1,62.0 149.5,62.0 149.9,62.0 150.3,62.0 150.7,62.0 151.1,62.0 151.5,62.0 151.9,62.0 152.3,62.0 152.7,62.0 153.1,62.0 153.5,62.0 153.9,62.0 154.3,62.0 154.7,62.0 155.1,62.0 155.5,62.0 155.9,62.0 156.3,62.0 156.7,61.9 157.1,61.9 157.5,61.9 157.9,61.9 158.3,61.9 158.7,61.9 159.1,61.9 159.5,61.9 159.9,61.9 160.3,61.9 160.7,61.9 161.1,61.9 161.5,61.9 161.9,61.9 162.3,61.9 162.7,61.9 163.1,61.9 163.5,61.9 163.9,61.9 164.3,61.9 164.7,61.9 165.1,61.9 165.5,61.9 165.9,61.9 166.3,61.9 166.7,61.9 167.1,61.9 167.5,61.9 167.9,61.9 168.3,61.9 168.7,62.0 169.1,62.0 169.5,62.0 169.9,62.0 170.3,62.0 170.7,62.0 171.1,62.0 171.5,62.1 171.9,62.1 172.3,62.1 172.7,62.2 173.1,62.2 173.5,62.3 173.9,62.3 174.3,62.4 174.7,62.4 175.1,62.5 175.5,62.6 175.9,62.7 176.3,62.8 176.7,63.0 177.1,63.1 177.5,63.2 177.9,63.4 178.3,63.5 178.7,63.7 179.1,63.9 179.5,64.1 179.9,64.3 180.3,64.5 180.7,64.7 181.1,65.0 181.5,65.3 181.9,65.5 182.3,65.9 182.7,66.2 183.1,66.5 183.5,66.9 183.9,67.3 184.3,67.8 184.7,68.3 185.1,68.9 185.5,69.5 185.9,70.2 186.3,71.0 186.7,71.9 187.1,72.9 187.5,74.0 187.9,75.3 188.3,76.7 188.7,78.2 189.1,79.7 189.5,81.4 189.9,83.3 190.3,85.2 190.7,87.3 191.1,89.6 191.5,92.2 191.9,95.2 192.3,99.1 192.7,103.4 193.1,107.5 193.5,111.6 193.9,116.1 194.3,121.6 194.7,128.0 195.1,134.1 195.5,139.9 195.9,145.5 196.3,150.6 196.7,155.3 197.1,159.7 197.5,163.8 197.9,167.4 198.3,170.6 198.7,173.4 199.1,176.1 199.5,178.7 199.9,181.5 200.3,184.6 200.7,188.4 201.1,192.2 201.5,195.5 201.9,197.7 202.3,199.2 202.7,200.5 203.1,201.6 203.5,202.7 203.9,203.6 204.3,204.5 204.7,205.1 205.1,205.4 205.5,206.4 205.9,207.2 206.3,207.2 206.7,207.1 207.1,207.5 207.5,206.7 207.9,206.4 208.3,205.8 208.7,205.5 209.1,205.0 209.5,204.7 209.9,203.5 210.3,202.7 210.7,202.2 211.1,201.0 211.5,198.2 211.9,194.6 212.3,189.9 212.7,184.1 213.1,177.0 213.5,166.1 213.9,153.3 214.3,142.0 214.7,134.1 215.1,127.7 215.5,122.6 215.9,118.4 216.3,114.9 216.7,111.8 217.1,108.9 217.5,106.0 217.9,102.9 218.3,99.5 218.7,95.7 219.1,91.8 219.5,88.0 219.9,84.6 220.3,81.8 220.7,79.6 221.1,77.5 221.5,75.5 221.9,73.7 222.3,72.1 222.7,70.8 223.1,69.7 223.5,68.9 223.9,68.3 224.3,67.7 224.7,67.2 225.1,66.7 225.5,66.2 225.9,65.8 226.3,65.4 226.7,65.1 227.1,64.8 227.5,64.6 227.9,64.4 228.3,64.2 228.7,64.1 229.1,63.9 229.5,63.8 229.9,63.7 230.3,63.5 230.7,63.4 231.1,63.3 231.5,63.2 231.9,63.1 232.3,63.0 232.7,62.9 233.1,62.9 233.5,62.8 233.9,62.7 234.3,62.7 234.7,62.6 235.1,62.6 235.5,62.5 235.9,62.5 236.3,62.5 236.7,62.4 237.1,62.4 237.5,62.4 237.9,62.4 238.3,62.3 238.7,62.3 239.1,62.3 239.5,62.3 239.9,62.2 240.3,62.2 240.7,62.2 241.1,62.2 241.5,62.2 241.9,62.2 242.3,62.1 242.7,62.1 243.1,62.1 243.5,62.1 243.9,62.1 244.3,62.1 244.7,62.1 245.1,62.0 245.5,62.0 245.9,62.0 246.3,62.0 246.7,62.0 247.1,62.0 247.5,62.0 247.9,62.0 248.3,62.0 248.7,62.0 249.1,62.0 249.5,62.0 249.9,62.0 250.3,62.0 250.7,62.0 251.1,62.0 251.5,62.0 251.9,62.0 252.3,62.0 252.7,62.0 253.1,62.0 253.5,62.0 253.9,62.0 254.3,62.0 254.7,62.0 255.1,62.0 255.5,62.0 255.9,62.0 256.3,62.0 256.7,62.0 257.1,62.0 257.5,62.0 257.9,62.0 258.3,62.0 258.7,62.0 259.1,62.0 259.5,62.0 259.9,62.0 260.3,62.0 260.7,62.0 261.1,62.0 261.5,62.0 261.9,62.0 262.3,62.0 262.7,62.0 263.1,62.0" stroke="#383f62"/>
</g></g>
<rect x="34.3" y="50.8" width="228.9" height="170.0" fill="none" stroke="#a0a0a0" stroke-width="1"/>
<path d="M91.52,220.8 v-2.3 M91.52,50.8 v2.3" stroke="#a0a0a0" stroke-width="1"/>
<path d="M148.75,220.8 v-2.3 M148.75,50.8 v2.3" stroke="#a0a0a0" stroke-width="1"/>
<path d="M205.97,220.8 v-2.3 M205.97,50.8 v2.3" stroke="#a0a0a0" stroke-width="1"/>
<path d="M34.3,93.30 h2.3 M263.2,93.30 h-2.3" stroke="#a0a0a0" stroke-width="1"/>
<path d="M34.3,135.80 h2.3 M263.2,135.80 h-2.3" stroke="#a0a0a0" stroke-width="1"/>
<path d="M34.3,178.30 h2.3 M263.2,178.30 h-2.3" stroke="#a0a0a0" stroke-width="1"/>
<text x="148.8" y="44.2" text-anchor="middle" class="t" textLength="66.8" lengthAdjust="spacingAndGlyphs">Butterworth</text>
<text x="3" y="43.30" class="lab">a.</text>
<text x="30.5" y="53.8" text-anchor="end" class="tk">0</text>
<text x="30.5" y="96.3" text-anchor="end" class="tk">-10</text>
<text x="30.5" y="138.8" text-anchor="end" class="tk">-20</text>
<text x="30.5" y="181.3" text-anchor="end" class="tk">-30</text>
<text x="30.5" y="223.8" text-anchor="end" class="tk">-40</text>
<text transform="translate(9.0,135.8) rotate(-90)" text-anchor="middle" class="al" textLength="123.5" lengthAdjust="spacingAndGlyphs">Normalized Power [dB]</text>
<clipPath id="clb"><rect x="289.3" y="50.3" width="229.2" height="171.0"/></clipPath>
<g clip-path="url(#clb)"><g filter="url(#sb)" fill="none" stroke-width="1.25" stroke-linejoin="round">
<path d="M289.0,75.0 289.4,75.0 289.8,75.1 290.2,75.2 290.6,75.3 291.0,75.5 291.4,75.7 291.8,76.0 292.2,76.4 292.6,76.9 293.0,77.5 293.4,78.2 293.8,79.2 294.2,80.9 294.6,83.0 295.0,85.5 295.4,88.7 295.8,93.0 296.2,97.3 296.6,101.0 297.0,105.0 297.4,110.1 297.8,116.0 298.2,122.4 298.6,129.0 299.0,136.5 299.4,144.4 299.8,152.0 300.2,158.5 300.6,163.9 301.0,168.8 301.4,173.4 301.8,177.9 302.2,182.2 302.6,185.8 303.0,188.4 303.4,190.6 303.8,192.6 304.2,194.4 304.6,195.6 305.0,196.2 305.4,196.1 305.8,195.3 306.2,196.2 306.6,196.4 307.0,196.1 307.4,196.1 307.8,195.0 308.2,194.6 308.6,195.7 309.0,195.1 309.4,193.1 309.8,193.3 310.2,192.6 310.6,192.2 311.0,191.6 311.4,190.9 311.8,190.9 312.2,190.6 312.6,190.2 313.0,189.1 313.4,188.3 313.8,189.2 314.2,188.7 314.6,189.6 315.0,189.9 315.4,189.7 315.8,189.4 316.2,189.8 316.6,190.4 317.0,189.6 317.4,190.6 317.8,190.6 318.2,190.5 318.6,191.3 319.0,190.4 319.4,191.4 319.8,190.6 320.2,190.8 320.6,190.8 321.0,191.7 321.4,191.2 321.8,191.9 322.2,191.5 322.6,192.8 323.0,193.4 323.4,192.8 323.8,193.7 324.2,193.3 324.6,194.2 325.0,193.3 325.4,192.6 325.8,194.2 326.2,193.4 326.6,193.0 327.0,193.2 327.4,192.8 327.8,193.5 328.2,193.1 328.6,194.4 329.0,194.0 329.4,192.9 329.8,193.0 330.2,193.5 330.6,192.8 331.0,193.8 331.4,193.8 331.8,193.5 332.2,193.6 332.6,194.2 333.0,194.7 333.4,194.7 333.8,194.0 334.2,194.5 334.6,193.7 335.0,194.4 335.4,193.7 335.8,194.6 336.2,193.7 336.6,193.9 337.0,194.4 337.4,194.7 337.8,193.8 338.2,194.3 338.6,194.7 339.0,194.8 339.4,194.3 339.8,194.8 340.2,194.7 340.6,195.6 341.0,195.3 341.4,194.4 341.8,194.0 342.2,195.3 342.6,195.9 343.0,195.5 343.4,196.0 343.8,195.4 344.2,195.1 344.6,196.3 345.0,196.1 345.4,196.5 345.8,195.6 346.2,196.5 346.6,196.3 347.0,197.1 347.4,196.6 347.8,196.7 348.2,196.8 348.6,197.9 349.0,197.4 349.4,197.2 349.8,197.2 350.2,197.3 350.6,198.7 351.0,197.1 351.4,197.7 351.8,198.6 352.2,199.0 352.6,198.4 353.0,199.0 353.4,199.1 353.8,199.3 354.2,198.9 354.6,199.8 355.0,199.2 355.4,200.0 355.8,198.8 356.2,199.9 356.6,198.9 357.0,198.9 357.4,200.0 357.8,199.4 358.2,200.2 358.6,199.5 359.0,200.9 359.4,200.2 359.8,199.7 360.2,200.4 360.6,200.8 361.0,200.1 361.4,200.8 361.8,201.6 362.2,201.0 362.6,200.6 363.0,200.3 363.4,200.9 363.8,199.9 364.2,199.1 364.6,200.3 365.0,200.0 365.4,201.4 365.8,200.6 366.2,200.0 366.6,199.8 367.0,200.6 367.4,199.9 367.8,199.9 368.2,200.1 368.6,200.1 369.0,200.0 369.4,199.9 369.8,200.4 370.2,200.6 370.6,198.8 371.0,200.8 371.4,199.5 371.8,199.9 372.2,198.8 372.6,199.2 373.0,199.0 373.4,198.8 373.8,199.1 374.2,198.9 374.6,197.9 375.0,198.2 375.4,198.5 375.8,198.2 376.2,197.5 376.6,197.3 377.0,197.1 377.4,196.4 377.8,196.0 378.2,197.1 378.6,195.8 379.0,195.6 379.4,194.8 379.8,195.4 380.2,195.2 380.6,193.5 381.0,193.0 381.4,191.5 381.8,191.8 382.2,190.0 382.6,189.2 383.0,188.4 383.4,187.7 383.8,186.9 384.2,186.1 384.6,185.4 385.0,184.6 385.4,183.8 385.8,183.0 386.2,182.2 386.6,181.4 387.0,180.6 387.4,179.8 387.8,179.1 388.2,178.3 388.6,177.5 389.0,176.7 389.4,175.8 389.8,174.8 390.2,173.6 390.6,172.3 391.0,170.8 391.4,168.8 391.8,166.4 392.2,163.2 392.6,157.8 393.0,148.7 393.4,140.0 393.8,133.2 394.2,126.8 394.6,120.8 395.0,115.0 395.4,109.1 395.8,103.0 396.2,97.3 396.6,92.3 397.0,88.4 397.4,85.2 397.8,82.3 398.2,79.8 398.6,77.8 399.0,76.6 399.4,76.0 399.8,75.5 400.2,75.0 400.6,74.6 401.0,74.3 401.4,74.0 401.8,73.7 402.2,73.6 402.6,73.5 403.0,73.4 403.4,73.4 403.8,73.5 404.2,73.6 404.6,73.7 405.0,73.9 405.4,74.1 405.8,74.5 406.2,74.9 406.6,75.3 407.0,75.9 407.4,76.6 407.8,77.5 408.2,78.6 408.6,80.1 409.0,82.1 409.4,84.4 409.8,87.3 410.2,91.1 410.6,95.3 411.0,99.1 411.4,102.9 411.8,107.4 412.2,112.9 412.6,119.1 413.0,125.7 413.4,132.6 413.8,140.4 414.2,148.3 414.6,155.4 415.0,161.3 415.4,166.4 415.8,171.1 416.2,175.7 416.6,180.1 417.0,184.1 417.4,187.2 417.8,189.5 418.2,191.6 418.6,193.5 419.0,195.0 419.4,196.0 419.8,196.2 420.2,196.7 420.6,195.7 421.0,196.7 421.4,196.2 421.8,196.1 422.2,195.9 422.6,195.3 423.0,195.0 423.4,195.1 423.8,194.2 424.2,193.1 424.6,193.9 425.0,192.2 425.4,191.5 425.8,191.0 426.2,191.4 426.6,191.2 427.0,190.6 427.4,190.6 427.8,189.2 428.2,189.6 428.6,189.4 429.0,189.5 429.4,189.8 429.8,188.6 430.2,191.2 430.6,189.3 431.0,190.1 431.4,190.5 431.8,190.7 432.2,190.5 432.6,189.1 433.0,190.2 433.4,191.3 433.8,190.6 434.2,190.6 434.6,190.0 435.0,191.8 435.4,191.5 435.8,190.8 436.2,191.2 436.6,191.3 437.0,190.8 437.4,191.2 437.8,191.5 438.2,191.6 438.6,192.0 439.0,191.4 439.4,191.1 439.8,191.6 440.2,191.1 440.6,190.8 441.0,192.0 441.4,191.3 441.8,191.6 442.2,191.8 442.6,191.0 443.0,191.9 443.4,191.8 443.8,191.6 444.2,191.9 444.6,191.3 445.0,190.6 445.4,191.6 445.8,191.3 446.2,192.3 446.6,192.0 447.0,191.6 447.4,192.0 447.8,192.7 448.2,192.6 448.6,192.2 449.0,192.3 449.4,192.0 449.8,192.1 450.2,192.5 450.6,192.2 451.0,192.5 451.4,191.8 451.8,191.6 452.2,191.6 452.6,192.3 453.0,193.2 453.4,193.2 453.8,192.2 454.2,192.0 454.6,193.2 455.0,193.1 455.4,192.3 455.8,193.6 456.2,193.2 456.6,193.9 457.0,193.5 457.4,193.8 457.8,193.7 458.2,193.1 458.6,193.6 459.0,193.5 459.4,194.4 459.8,193.6 460.2,193.5 460.6,194.7 461.0,195.1 461.4,195.4 461.8,195.3 462.2,194.2 462.6,194.7 463.0,194.9 463.4,195.3 463.8,194.4 464.2,195.6 464.6,195.9 465.0,195.4 465.4,196.1 465.8,196.7 466.2,196.3 466.6,196.9 467.0,196.9 467.4,196.7 467.8,196.8 468.2,196.5 468.6,197.5 469.0,196.7 469.4,196.7 469.8,197.5 470.2,196.9 470.6,197.6 471.0,198.0 471.4,197.6 471.8,197.7 472.2,198.2 472.6,198.3 473.0,197.2 473.4,197.4 473.8,198.8 474.2,198.4 474.6,197.2 475.0,197.7 475.4,198.4 475.8,198.0 476.2,198.7 476.6,198.6 477.0,198.8 477.4,198.0 477.8,198.9 478.2,199.6 478.6,198.2 479.0,199.3 479.4,199.1 479.8,198.9 480.2,198.6 480.6,198.0 481.0,198.2 481.4,199.0 481.8,199.1 482.2,199.2 482.6,199.1 483.0,199.0 483.4,198.4 483.8,198.0 484.2,198.7 484.6,198.8 485.0,198.6 485.4,197.8 485.8,198.3 486.2,197.8 486.6,198.6 487.0,198.0 487.4,198.4 487.8,198.6 488.2,198.5 488.6,199.1 489.0,197.9 489.4,197.3 489.8,198.8 490.2,198.9 490.6,198.7 491.0,197.9 491.4,197.8 491.8,197.3 492.2,196.3 492.6,196.3 493.0,196.5 493.4,195.5 493.8,196.3 494.2,194.2 494.6,194.3 495.0,194.5 495.4,192.9 495.8,191.7 496.2,190.7 496.6,190.1 497.0,190.4 497.4,188.8 497.8,188.0 498.2,187.3 498.6,186.5 499.0,185.8 499.4,185.0 499.8,184.2 500.2,183.4 500.6,182.6 501.0,181.8 501.4,181.0 501.8,180.2 502.2,179.4 502.6,178.7 503.0,177.9 503.4,177.1 503.8,176.2 504.2,175.3 504.6,174.2 505.0,173.0 505.4,171.6 505.8,169.9 506.2,167.7 506.6,164.9 507.0,161.1 507.4,153.5 507.8,144.0 508.2,136.5 508.6,129.9 509.0,123.8 509.4,117.9 509.8,112.1 510.2,106.0 510.6,100.1 511.0,94.7 511.4,90.2 511.8,86.8 512.2,83.7 512.6,81.0 513.0,78.7 513.4,77.1 513.8,76.3 514.2,75.7 514.6,75.2 515.0,74.8 515.4,74.4 515.8,74.1 516.2,73.8 516.6,73.6 517.0,73.5 517.4,73.4 517.8,73.4 518.2,73.4" stroke="#d8462e"/>
<path d="M289.0,61.7 289.4,61.7 289.8,61.7 290.2,61.7 290.6,61.7 291.0,61.7 291.4,61.7 291.8,61.7 292.2,61.7 292.6,61.7 293.0,61.7 293.4,61.7 293.8,61.7 294.2,61.7 294.6,61.7 295.0,61.7 295.4,61.7 295.8,61.7 296.2,61.7 296.6,61.7 297.0,61.7 297.4,61.7 297.8,61.7 298.2,61.7 298.6,61.7 299.0,61.7 299.4,61.7 299.8,61.7 300.2,61.7 300.6,61.7 301.0,61.7 301.4,61.7 301.8,61.7 302.2,61.7 302.6,61.7 303.0,61.7 303.4,61.7 303.8,61.7 304.2,61.7 304.6,61.7 305.0,61.7 305.4,61.7 305.8,61.7 306.2,61.7 306.6,61.7 307.0,61.7 307.4,61.7 307.8,61.8 308.2,61.8 308.6,61.9 309.0,62.0 309.4,62.1 309.8,62.3 310.2,62.5 310.6,62.6 311.0,62.8 311.4,63.1 311.8,63.3 312.2,63.5 312.6,63.7 313.0,64.0 313.4,64.2 313.8,64.5 314.2,64.7 314.6,65.0 315.0,65.3 315.4,65.5 315.8,65.8 316.2,66.2 316.6,66.5 317.0,67.0 317.4,67.5 317.8,68.1 318.2,68.8 318.6,70.0 319.0,71.5 319.4,73.3 319.8,75.3 320.2,77.3 320.6,79.5 321.0,81.9 321.4,84.6 321.8,87.6 322.2,91.1 322.6,95.2 323.0,99.6 323.4,104.0 323.8,108.1 324.2,112.3 324.6,116.5 325.0,120.6 325.4,124.5 325.8,128.2 326.2,131.8 326.6,135.4 327.0,138.9 327.4,142.4 327.8,145.6 328.2,148.7 328.6,151.7 329.0,154.4 329.4,156.9 329.8,159.3 330.2,161.6 330.6,163.5 331.0,165.0 331.4,166.1 331.8,167.1 332.2,167.9 332.6,168.7 333.0,169.4 333.4,170.0 333.8,170.7 334.2,171.3 334.6,172.0 335.0,172.6 335.4,173.1 335.8,173.7 336.2,174.2 336.6,174.7 337.0,175.3 337.4,175.8 337.8,176.4 338.2,177.0 338.6,177.6 339.0,178.2 339.4,178.8 339.8,179.4 340.2,180.0 340.6,180.6 341.0,181.3 341.4,182.0 341.8,182.6 342.2,183.4 342.6,184.1 343.0,184.8 343.4,185.6 343.8,186.3 344.2,187.1 344.6,187.9 345.0,188.8 345.4,189.6 345.8,190.6 346.2,191.5 346.6,192.5 347.0,193.6 347.4,194.9 347.8,196.3 348.2,197.8 348.6,199.3 349.0,200.8 349.4,202.2 349.8,203.4 350.2,204.6 350.6,205.7 351.0,206.9 351.4,208.1 351.8,209.3 352.2,210.4 352.6,211.4 353.0,212.3 353.4,213.1 353.8,213.6 354.2,213.9 354.6,214.0 355.0,213.5 355.4,212.5 355.8,211.0 356.2,209.3 356.6,207.4 357.0,205.4 357.4,203.5 357.8,201.7 358.2,199.9 358.6,197.7 359.0,195.5 359.4,193.2 359.8,191.0 360.2,189.0 360.6,187.5 361.0,186.5 361.4,186.0 361.8,185.7 362.2,185.4 362.6,185.2 363.0,185.0 363.4,185.0 363.8,185.3 364.2,186.1 364.6,187.1 365.0,188.4 365.4,189.7 365.8,191.2 366.2,193.2 366.6,195.3 367.0,196.9 367.4,197.2 367.8,194.8 368.2,190.9 368.6,186.8 369.0,181.7 369.4,175.9 369.8,169.6 370.2,163.6 370.6,158.3 371.0,153.0 371.4,146.8 371.8,139.1 372.2,130.2 372.6,121.1 373.0,112.8 373.4,106.3 373.8,101.6 374.2,97.6 374.6,94.0 375.0,90.9 375.4,88.0 375.8,85.3 376.2,82.8 376.6,80.4 377.0,78.1 377.4,76.1 377.8,74.2 378.2,72.5 378.6,71.0 379.0,69.4 379.4,68.0 379.8,66.7 380.2,65.7 380.6,65.1 381.0,64.8 381.4,64.5 381.8,64.3 382.2,64.1 382.6,63.9 383.0,63.8 383.4,63.7 383.8,63.6 384.2,63.5 384.6,63.4 385.0,63.4 385.4,63.4 385.8,63.4 386.2,63.3 386.6,63.3 387.0,63.3 387.4,63.3 387.8,63.3 388.2,63.3 388.6,63.3 389.0,63.3 389.4,63.2 389.8,63.2 390.2,63.2 390.6,63.2 391.0,63.2 391.4,63.2 391.8,63.2 392.2,63.2 392.6,63.2 393.0,63.2 393.4,63.2 393.8,63.2 394.2,63.2 394.6,63.2 395.0,63.2 395.4,63.2 395.8,63.1 396.2,63.1 396.6,63.1 397.0,63.1 397.4,63.1 397.8,63.1 398.2,63.1 398.6,63.1 399.0,63.1 399.4,63.1 399.8,63.1 400.2,63.1 400.6,63.1 401.0,63.1 401.4,63.1 401.8,63.1 402.2,63.0 402.6,63.0 403.0,63.0 403.4,63.0 403.8,63.0 404.2,63.0 404.6,63.0 405.0,63.0 405.4,62.9 405.8,62.9 406.2,62.9 406.6,62.9 407.0,62.8 407.4,62.8 407.8,62.8 408.2,62.7 408.6,62.7 409.0,62.7 409.4,62.6 409.8,62.6 410.2,62.5 410.6,62.5 411.0,62.5 411.4,62.4 411.8,62.4 412.2,62.3 412.6,62.3 413.0,62.3 413.4,62.2 413.8,62.2 414.2,62.1 414.6,62.1 415.0,62.1 415.4,62.0 415.8,62.0 416.2,62.0 416.6,61.9 417.0,61.9 417.4,61.9 417.8,61.8 418.2,61.8 418.6,61.8 419.0,61.8 419.4,61.7 419.8,61.7 420.2,61.7 420.6,61.7 421.0,61.7 421.4,61.7 421.8,61.7 422.2,61.7 422.6,61.8 423.0,61.9 423.4,62.0 423.8,62.1 424.2,62.2 424.6,62.4 425.0,62.6 425.4,62.7 425.8,62.9 426.2,63.2 426.6,63.4 427.0,63.6 427.4,63.9 427.8,64.1 428.2,64.4 428.6,64.6 429.0,64.9 429.4,65.1 429.8,65.4 430.2,65.7 430.6,66.0 431.0,66.4 431.4,66.8 431.8,67.2 432.2,67.8 432.6,68.4 433.0,69.3 433.4,70.7 433.8,72.4 434.2,74.3 434.6,76.3 435.0,78.3 435.4,80.6 435.8,83.2 436.2,86.1 436.6,89.2 437.0,93.0 437.4,97.4 437.8,101.8 438.2,106.0 438.6,110.2 439.0,114.4 439.4,118.5 439.8,122.6 440.2,126.4 440.6,130.0 441.0,133.6 441.4,137.2 441.8,140.7 442.2,144.0 442.6,147.2 443.0,150.2 443.4,153.0 443.8,155.6 444.2,158.1 444.6,160.5 445.0,162.6 445.4,164.3 445.8,165.6 446.2,166.6 446.6,167.5 447.0,168.3 447.4,169.0 447.8,169.7 448.2,170.3 448.6,171.0 449.0,171.6 449.4,172.3 449.8,172.8 450.2,173.4 450.6,173.9 451.0,174.5 451.4,175.0 451.8,175.6 452.2,176.1 452.6,176.7 453.0,177.3 453.4,177.9 453.8,178.5 454.2,179.1 454.6,179.7 455.0,180.3 455.4,181.0 455.8,181.6 456.2,182.3 456.6,183.0 457.0,183.7 457.4,184.4 457.8,185.2 458.2,185.9 458.6,186.7 459.0,187.5 459.4,188.3 459.8,189.2 460.2,190.1 460.6,191.0 461.0,192.0 461.4,193.1 461.8,194.2 462.2,195.5 462.6,196.9 463.0,198.3 463.4,199.8 463.8,201.3 464.2,202.7 464.6,204.0 465.0,205.4 465.4,206.9 465.8,208.4 466.2,210.0 466.6,211.6 467.0,213.1 467.4,214.5 467.8,215.6 468.2,216.6 468.6,217.2 469.0,217.5 469.4,217.3 469.8,216.6 470.2,215.4 470.6,213.8 471.0,212.0 471.4,210.1 471.8,208.1 472.2,206.1 472.6,204.2 473.0,201.9 473.4,199.2 473.8,196.3 474.2,193.5 474.6,190.9 475.0,188.7 475.4,187.0 475.8,186.2 476.2,185.8 476.6,185.5 477.0,185.3 477.4,185.1 477.8,185.0 478.2,185.1 478.6,185.6 479.0,186.6 479.4,187.8 479.8,189.1 480.2,190.3 480.6,192.2 481.0,194.3 481.4,196.2 481.8,197.3 482.2,196.3 482.6,192.9 483.0,189.0 483.4,184.3 483.8,178.9 484.2,172.7 484.6,166.5 485.0,160.9 485.4,155.7 485.8,150.1 486.2,143.1 486.6,134.7 487.0,125.6 487.4,116.8 487.8,109.3 488.2,103.8 488.6,99.6 489.0,95.8 489.4,92.4 489.8,89.4 490.2,86.6 490.6,84.0 491.0,81.6 491.4,79.2 491.8,77.1 492.2,75.1 492.6,73.3 493.0,71.7 493.4,70.2 493.8,68.7 494.2,67.3 494.6,66.2 495.0,65.3 495.4,64.9 495.8,64.7 496.2,64.4 496.6,64.2 497.0,64.0 497.4,63.9 497.8,63.7 498.2,63.6 498.6,63.5 499.0,63.5 499.4,63.4 499.8,63.4 500.2,63.4 500.6,63.4 501.0,63.3 501.4,63.3 501.8,63.3 502.2,63.3 502.6,63.3 503.0,63.3 503.4,63.2 503.8,63.2 504.2,63.2 504.6,63.2 505.0,63.2 505.4,63.2 505.8,63.2 506.2,63.1 506.6,63.1 507.0,63.1 507.4,63.1 507.8,63.1 508.2,63.1 508.6,63.1 509.0,63.1 509.4,63.1 509.8,63.1 510.2,63.1 510.6,63.1 511.0,63.1 511.4,63.0 511.8,63.0 512.2,63.0 512.6,63.0 513.0,63.0 513.4,63.0 513.8,63.0 514.2,63.0 514.6,63.0 515.0,63.0 515.4,63.0 515.8,63.0 516.2,63.0 516.6,63.0 517.0,63.0 517.4,63.0 517.8,63.0 518.2,63.0" stroke="#48bfc9"/>
<path d="M289.0,66.7 289.4,66.7 289.8,66.7 290.2,66.7 290.6,66.7 291.0,66.8 291.4,66.8 291.8,66.8 292.2,66.9 292.6,66.9 293.0,67.0 293.4,67.0 293.8,67.1 294.2,67.1 294.6,67.2 295.0,67.3 295.4,67.4 295.8,67.5 296.2,67.7 296.6,67.8 297.0,68.1 297.4,68.3 297.8,68.6 298.2,68.8 298.6,69.2 299.0,69.5 299.4,69.9 299.8,70.6 300.2,71.3 300.6,72.3 301.0,73.3 301.4,74.6 301.8,76.4 302.2,78.6 302.6,81.0 303.0,83.4 303.4,85.8 303.8,88.4 304.2,91.2 304.6,94.0 305.0,96.8 305.4,99.7 305.8,103.0 306.2,107.4 306.6,113.3 307.0,120.2 307.4,127.3 307.8,133.7 308.2,140.1 308.6,147.5 309.0,157.0 309.4,174.6 309.8,187.2 310.2,194.9 310.6,200.9 311.0,206.7 311.4,208.7 311.8,203.9 312.2,196.5 312.6,190.6 313.0,184.7 313.4,180.5 313.8,179.0 314.2,177.8 314.6,176.9 315.0,176.1 315.4,175.5 315.8,175.2 316.2,175.0 316.6,175.0 317.0,175.2 317.4,175.5 317.8,175.8 318.2,176.2 318.6,176.7 319.0,177.1 319.4,177.6 319.8,178.0 320.2,178.6 320.6,179.2 321.0,179.9 321.4,180.7 321.8,181.5 322.2,182.2 322.6,183.0 323.0,183.6 323.4,184.2 323.8,184.6 324.2,184.9 324.6,185.0 325.0,185.0 325.4,184.9 325.8,184.7 326.2,184.5 326.6,184.3 327.0,184.0 327.4,183.7 327.8,183.4 328.2,183.0 328.6,182.7 329.0,182.4 329.4,182.0 329.8,181.6 330.2,181.1 330.6,180.6 331.0,180.1 331.4,179.5 331.8,179.0 332.2,178.5 332.6,178.0 333.0,177.6 333.4,177.4 333.8,177.1 334.2,176.9 334.6,176.7 335.0,176.6 335.4,176.4 335.8,176.3 336.2,176.2 336.6,176.1 337.0,176.1 337.4,176.2 337.8,176.3 338.2,176.4 338.6,176.6 339.0,176.9 339.4,177.2 339.8,177.5 340.2,177.8 340.6,178.0 341.0,178.3 341.4,178.6 341.8,178.9 342.2,179.2 342.6,179.5 343.0,179.8 343.4,180.1 343.8,180.5 344.2,180.8 344.6,181.2 345.0,181.5 345.4,181.9 345.8,182.3 346.2,182.7 346.6,183.1 347.0,183.5 347.4,183.9 347.8,184.3 348.2,184.8 348.6,185.2 349.0,185.7 349.4,186.1 349.8,186.6 350.2,187.0 350.6,187.5 351.0,187.9 351.4,188.4 351.8,188.9 352.2,189.4 352.6,189.9 353.0,190.4 353.4,191.0 353.8,191.6 354.2,192.2 354.6,192.8 355.0,193.5 355.4,194.1 355.8,194.8 356.2,195.4 356.6,196.1 357.0,196.7 357.4,197.3 357.8,197.9 358.2,198.5 358.6,199.0 359.0,199.5 359.4,200.0 359.8,200.6 360.2,201.1 360.6,201.6 361.0,202.1 361.4,202.5 361.8,202.8 362.2,202.9 362.6,202.8 363.0,202.4 363.4,201.7 363.8,200.8 364.2,199.8 364.6,198.7 365.0,197.6 365.4,196.6 365.8,195.8 366.2,195.0 366.6,194.1 367.0,193.3 367.4,192.5 367.8,191.7 368.2,190.8 368.6,190.0 369.0,189.1 369.4,188.2 369.8,187.3 370.2,186.3 370.6,185.2 371.0,184.1 371.4,182.9 371.8,181.8 372.2,180.8 372.6,180.0 373.0,179.1 373.4,178.3 373.8,177.6 374.2,177.0 374.6,176.6 375.0,176.3 375.4,175.9 375.8,175.6 376.2,175.4 376.6,175.2 377.0,175.1 377.4,175.1 377.8,175.3 378.2,175.5 378.6,175.8 379.0,176.1 379.4,176.2 379.8,175.9 380.2,174.7 380.6,173.2 381.0,171.6 381.4,170.3 381.8,169.0 382.2,166.3 382.6,160.6 383.0,153.5 383.4,146.6 383.8,139.4 384.2,131.9 384.6,123.9 385.0,115.6 385.4,108.8 385.8,102.7 386.2,97.1 386.6,92.3 387.0,88.4 387.4,85.1 387.8,82.0 388.2,79.1 388.6,76.6 389.0,74.6 389.4,73.1 389.8,72.2 390.2,71.6 390.6,71.0 391.0,70.5 391.4,70.0 391.8,69.6 392.2,69.3 392.6,68.9 393.0,68.6 393.4,68.4 393.8,68.2 394.2,68.0 394.6,67.8 395.0,67.7 395.4,67.6 395.8,67.5 396.2,67.4 396.6,67.3 397.0,67.2 397.4,67.1 397.8,67.0 398.2,66.9 398.6,66.8 399.0,66.8 399.4,66.7 399.8,66.6 400.2,66.6 400.6,66.5 401.0,66.5 401.4,66.4 401.8,66.4 402.2,66.4 402.6,66.3 403.0,66.3 403.4,66.3 403.8,66.3 404.2,66.3 404.6,66.3 405.0,66.4 405.4,66.4 405.8,66.5 406.2,66.5 406.6,66.6 407.0,66.7 407.4,66.8 407.8,66.8 408.2,66.9 408.6,67.0 409.0,67.1 409.4,67.3 409.8,67.4 410.2,67.5 410.6,67.7 411.0,67.8 411.4,68.0 411.8,68.2 412.2,68.5 412.6,68.7 413.0,69.0 413.4,69.3 413.8,69.7 414.2,70.2 414.6,70.9 415.0,71.8 415.4,72.8 415.8,73.9 416.2,75.4 416.6,77.5 417.0,79.8 417.4,82.2 417.8,84.6 418.2,87.1 418.6,89.8 419.0,92.6 419.4,95.4 419.8,98.2 420.2,101.3 420.6,105.0 421.0,110.2 421.4,116.7 421.8,123.8 422.2,130.6 422.6,136.9 423.0,143.6 423.4,151.9 423.8,164.8 424.2,182.3 424.6,191.3 425.0,198.1 425.4,203.7 425.8,208.7 426.2,206.9 426.6,200.2 427.0,193.4 427.4,187.6 427.8,182.2 428.2,179.7 428.6,178.4 429.0,177.3 429.4,176.5 429.8,175.8 430.2,175.3 430.6,175.1 431.0,175.0 431.4,175.1 431.8,175.3 432.2,175.6 432.6,176.0 433.0,176.4 433.4,176.9 433.8,177.4 434.2,177.8 434.6,178.3 435.0,178.9 435.4,179.6 435.8,180.3 436.2,181.1 436.6,181.9 437.0,182.6 437.4,183.3 437.8,183.9 438.2,184.4 438.6,184.8 439.0,185.0 439.4,185.0 439.8,184.9 440.2,184.8 440.6,184.6 441.0,184.4 441.4,184.1 441.8,183.8 442.2,183.5 442.6,183.2 443.0,182.9 443.4,182.5 443.8,182.2 444.2,181.8 444.6,181.4 445.0,180.9 445.4,180.3 445.8,179.8 446.2,179.2 446.6,178.7 447.0,178.2 447.4,177.8 447.8,177.5 448.2,177.2 448.6,177.0 449.0,176.8 449.4,176.6 449.8,176.5 450.2,176.3 450.6,176.2 451.0,176.1 451.4,176.1 451.8,176.1 452.2,176.2 452.6,176.3 453.0,176.5 453.4,176.8 453.8,177.0 454.2,177.3 454.6,177.6 455.0,177.9 455.4,178.2 455.8,178.5 456.2,178.7 456.6,179.0 457.0,179.3 457.4,179.7 457.8,180.0 458.2,180.3 458.6,180.6 459.0,181.0 459.4,181.4 459.8,181.7 460.2,182.1 460.6,182.5 461.0,182.9 461.4,183.3 461.8,183.7 462.2,184.1 462.6,184.6 463.0,185.0 463.4,185.4 463.8,185.9 464.2,186.3 464.6,186.8 465.0,187.2 465.4,187.7 465.8,188.2 466.2,188.7 466.6,189.1 467.0,189.6 467.4,190.1 467.8,190.7 468.2,191.3 468.6,191.9 469.0,192.5 469.4,193.1 469.8,193.8 470.2,194.4 470.6,195.1 471.0,195.7 471.4,196.4 471.8,197.0 472.2,197.6 472.6,198.2 473.0,198.7 473.4,199.3 473.8,199.7 474.2,200.3 474.6,200.8 475.0,201.4 475.4,201.9 475.8,202.3 476.2,202.6 476.6,202.9 477.0,202.9 477.4,202.6 477.8,202.0 478.2,201.2 478.6,200.3 479.0,199.2 479.4,198.1 479.8,197.1 480.2,196.2 480.6,195.4 481.0,194.6 481.4,193.7 481.8,192.9 482.2,192.1 482.6,191.3 483.0,190.4 483.4,189.6 483.8,188.7 484.2,187.7 484.6,186.8 485.0,185.8 485.4,184.6 485.8,183.5 486.2,182.3 486.6,181.3 487.0,180.4 487.4,179.5 487.8,178.7 488.2,177.9 488.6,177.3 489.0,176.8 489.4,176.4 489.8,176.1 490.2,175.8 490.6,175.5 491.0,175.3 491.4,175.1 491.8,175.1 492.2,175.2 492.6,175.4 493.0,175.7 493.4,176.0 493.8,176.1 494.2,176.2 494.6,175.4 495.0,174.0 495.4,172.3 495.8,170.9 496.2,169.7 496.6,168.0 497.0,163.8 497.4,157.1 497.8,150.0 498.2,143.1 498.6,135.7 499.0,128.0 499.4,119.6 499.8,112.0 500.2,105.7 500.6,99.8 501.0,94.6 501.4,90.2 501.8,86.7 502.2,83.5 502.6,80.5 503.0,77.8 503.4,75.5 503.8,73.8 504.2,72.6 504.6,71.9 505.0,71.3 505.4,70.8 505.8,70.3 506.2,69.8 506.6,69.4 507.0,69.1 507.4,68.8 507.8,68.5 508.2,68.3 508.6,68.1 509.0,67.9 509.4,67.8 509.8,67.6 510.2,67.5 510.6,67.4 511.0,67.3 511.4,67.2 511.8,67.1 512.2,67.0 512.6,67.0 513.0,66.9 513.4,66.8 513.8,66.7 514.2,66.7 514.6,66.6 515.0,66.5 515.4,66.5 515.8,66.4 516.2,66.4 516.6,66.4 517.0,66.3 517.4,66.3 517.8,66.3 518.2,66.3" stroke="#f0a48a"/>
<path d="M289.0,61.1 289.4,61.1 289.8,61.1 290.2,61.1 290.6,61.1 291.0,61.1 291.4,61.1 291.8,61.1 292.2,61.1 292.6,61.1 293.0,61.1 293.4,61.1 293.8,61.1 294.2,61.1 294.6,61.1 295.0,61.1 295.4,61.1 295.8,61.1 296.2,61.1 296.6,61.1 297.0,61.1 297.4,61.1 297.8,61.1 298.2,61.1 298.6,61.1 299.0,61.1 299.4,61.1 299.8,61.1 300.2,61.1 300.6,61.1 301.0,61.1 301.4,61.1 301.8,61.1 302.2,61.1 302.6,61.1 303.0,61.1 303.4,61.1 303.8,61.1 304.2,61.1 304.6,61.1 305.0,61.1 305.4,61.1 305.8,61.1 306.2,61.1 306.6,61.1 307.0,61.1 307.4,61.1 307.8,61.1 308.2,61.1 308.6,61.1 309.0,61.1 309.4,61.1 309.8,61.1 310.2,61.1 310.6,61.1 311.0,61.1 311.4,61.1 311.8,61.2 312.2,61.2 312.6,61.3 313.0,61.4 313.4,61.5 313.8,61.7 314.2,61.8 314.6,62.0 315.0,62.2 315.4,62.4 315.8,62.6 316.2,62.8 316.6,63.1 317.0,63.3 317.4,63.5 317.8,63.8 318.2,64.0 318.6,64.3 319.0,64.6 319.4,65.0 319.8,65.4 320.2,65.8 320.6,66.3 321.0,66.8 321.4,67.3 321.8,68.0 322.2,68.7 322.6,69.5 323.0,70.4 323.4,71.4 323.8,72.5 324.2,73.7 324.6,75.0 325.0,76.6 325.4,78.5 325.8,80.8 326.2,83.4 326.6,86.2 327.0,89.2 327.4,93.0 327.8,97.3 328.2,101.8 328.6,106.0 329.0,109.8 329.4,113.6 329.8,117.3 330.2,121.1 330.6,125.2 331.0,129.6 331.4,134.8 331.8,140.4 332.2,145.9 332.6,150.9 333.0,155.0 333.4,158.3 333.8,161.2 334.2,163.6 334.6,165.4 335.0,166.9 335.4,168.2 335.8,169.3 336.2,170.3 336.6,171.2 337.0,172.0 337.4,172.8 337.8,173.6 338.2,174.3 338.6,174.9 339.0,175.5 339.4,176.1 339.8,176.7 340.2,177.2 340.6,177.8 341.0,178.3 341.4,178.8 341.8,179.2 342.2,179.7 342.6,180.1 343.0,180.5 343.4,180.8 343.8,181.2 344.2,181.6 344.6,181.9 345.0,182.3 345.4,182.6 345.8,183.0 346.2,183.4 346.6,183.7 347.0,184.1 347.4,184.6 347.8,185.0 348.2,185.5 348.6,186.1 349.0,186.7 349.4,187.4 349.8,188.1 350.2,188.9 350.6,189.6 351.0,189.9 351.4,191.0 351.8,191.3 352.2,191.4 352.6,191.9 353.0,192.3 353.4,192.7 353.8,192.3 354.2,192.3 354.6,192.6 355.0,191.6 355.4,191.3 355.8,191.7 356.2,191.2 356.6,190.8 357.0,190.6 357.4,190.2 357.8,190.2 358.2,189.7 358.6,189.8 359.0,189.1 359.4,189.0 359.8,189.0 360.2,188.6 360.6,188.2 361.0,187.6 361.4,186.3 361.8,181.3 362.2,175.0 362.6,168.0 363.0,157.4 363.4,145.6 363.8,133.2 364.2,120.6 364.6,109.5 365.0,101.0 365.4,93.4 365.8,87.2 366.2,82.8 366.6,79.9 367.0,77.4 367.4,75.3 367.8,73.6 368.2,72.3 368.6,71.2 369.0,70.2 369.4,69.3 369.8,68.5 370.2,67.8 370.6,67.2 371.0,66.7 371.4,66.3 371.8,66.0 372.2,65.8 372.6,65.6 373.0,65.4 373.4,65.3 373.8,65.1 374.2,65.0 374.6,64.9 375.0,64.8 375.4,64.7 375.8,64.6 376.2,64.5 376.6,64.4 377.0,64.3 377.4,64.2 377.8,64.1 378.2,64.0 378.6,64.0 379.0,63.9 379.4,63.8 379.8,63.7 380.2,63.7 380.6,63.6 381.0,63.5 381.4,63.4 381.8,63.4 382.2,63.3 382.6,63.3 383.0,63.2 383.4,63.2 383.8,63.1 384.2,63.1 384.6,63.0 385.0,63.0 385.4,63.0 385.8,62.9 386.2,62.9 386.6,62.9 387.0,62.8 387.4,62.8 387.8,62.8 388.2,62.8 388.6,62.7 389.0,62.7 389.4,62.7 389.8,62.7 390.2,62.6 390.6,62.6 391.0,62.6 391.4,62.6 391.8,62.5 392.2,62.5 392.6,62.5 393.0,62.5 393.4,62.5 393.8,62.4 394.2,62.4 394.6,62.4 395.0,62.4 395.4,62.4 395.8,62.3 396.2,62.3 396.6,62.3 397.0,62.3 397.4,62.3 397.8,62.3 398.2,62.2 398.6,62.2 399.0,62.2 399.4,62.2 399.8,62.2 400.2,62.2 400.6,62.1 401.0,62.1 401.4,62.1 401.8,62.1 402.2,62.1 402.6,62.1 403.0,62.0 403.4,62.0 403.8,62.0 404.2,62.0 404.6,62.0 405.0,61.9 405.4,61.9 405.8,61.9 406.2,61.9 406.6,61.9 407.0,61.8 407.4,61.8 407.8,61.8 408.2,61.8 408.6,61.8 409.0,61.7 409.4,61.7 409.8,61.7 410.2,61.7 410.6,61.6 411.0,61.6 411.4,61.6 411.8,61.6 412.2,61.6 412.6,61.5 413.0,61.5 413.4,61.5 413.8,61.5 414.2,61.5 414.6,61.4 415.0,61.4 415.4,61.4 415.8,61.4 416.2,61.4 416.6,61.3 417.0,61.3 417.4,61.3 417.8,61.3 418.2,61.3 418.6,61.2 419.0,61.2 419.4,61.2 419.8,61.2 420.2,61.2 420.6,61.2 421.0,61.2 421.4,61.2 421.8,61.1 422.2,61.1 422.6,61.1 423.0,61.1 423.4,61.1 423.8,61.1 424.2,61.1 424.6,61.1 425.0,61.1 425.4,61.1 425.8,61.1 426.2,61.1 426.6,61.2 427.0,61.3 427.4,61.4 427.8,61.5 428.2,61.6 428.6,61.8 429.0,61.9 429.4,62.1 429.8,62.3 430.2,62.5 430.6,62.7 431.0,63.0 431.4,63.2 431.8,63.4 432.2,63.7 432.6,63.9 433.0,64.2 433.4,64.5 433.8,64.8 434.2,65.2 434.6,65.6 435.0,66.0 435.4,66.5 435.8,67.1 436.2,67.6 436.6,68.3 437.0,69.1 437.4,69.9 437.8,70.9 438.2,71.9 438.6,73.1 439.0,74.3 439.4,75.7 439.8,77.5 440.2,79.6 440.6,82.1 441.0,84.7 441.4,87.6 441.8,91.0 442.2,95.1 442.6,99.6 443.0,104.0 443.4,107.9 443.8,111.7 444.2,115.4 444.6,119.2 445.0,123.1 445.4,127.3 445.8,132.1 446.2,137.6 446.6,143.2 447.0,148.5 447.4,153.1 447.8,156.7 448.2,159.8 448.6,162.4 449.0,164.6 449.4,166.2 449.8,167.6 450.2,168.8 450.6,169.8 451.0,170.8 451.4,171.6 451.8,172.4 452.2,173.2 452.6,173.9 453.0,174.6 453.4,175.2 453.8,175.8 454.2,176.4 454.6,177.0 455.0,177.5 455.4,178.0 455.8,178.5 456.2,179.0 456.6,179.4 457.0,179.9 457.4,180.3 457.8,180.7 458.2,181.0 458.6,181.4 459.0,181.8 459.4,182.1 459.8,182.5 460.2,182.8 460.6,183.2 461.0,183.6 461.4,183.9 461.8,184.4 462.2,184.8 462.6,185.2 463.0,185.8 463.4,186.4 463.8,187.0 464.2,187.6 464.6,188.6 465.0,189.1 465.4,189.6 465.8,190.5 466.2,190.8 466.6,191.0 467.0,191.5 467.4,191.9 467.8,192.2 468.2,192.3 468.6,192.5 469.0,192.3 469.4,192.5 469.8,192.1 470.2,191.5 470.6,191.7 471.0,191.3 471.4,190.6 471.8,190.5 472.2,190.5 472.6,190.0 473.0,190.0 473.4,189.6 473.8,189.5 474.2,189.0 474.6,188.9 475.0,188.3 475.4,187.9 475.8,187.3 476.2,184.1 476.6,178.1 477.0,171.8 477.4,163.1 477.8,151.4 478.2,139.5 478.6,126.8 479.0,114.8 479.4,105.0 479.8,97.1 480.2,90.1 480.6,84.7 481.0,81.3 481.4,78.6 481.8,76.3 482.2,74.4 482.6,72.9 483.0,71.7 483.4,70.7 483.8,69.8 484.2,68.9 484.6,68.2 485.0,67.5 485.4,66.9 485.8,66.5 486.2,66.2 486.6,65.9 487.0,65.7 487.4,65.5 487.8,65.4 488.2,65.2 488.6,65.1 489.0,65.0 489.4,64.8 489.8,64.7 490.2,64.6 490.6,64.5 491.0,64.5 491.4,64.4 491.8,64.3 492.2,64.2 492.6,64.1 493.0,64.0 493.4,63.9 493.8,63.8 494.2,63.8 494.6,63.7 495.0,63.6 495.4,63.5 495.8,63.5 496.2,63.4 496.6,63.4 497.0,63.3 497.4,63.2 497.8,63.2 498.2,63.1 498.6,63.1 499.0,63.1 499.4,63.0 499.8,63.0 500.2,62.9 500.6,62.9 501.0,62.9 501.4,62.8 501.8,62.8 502.2,62.8 502.6,62.7 503.0,62.7 503.4,62.7 503.8,62.7 504.2,62.6 504.6,62.6 505.0,62.6 505.4,62.5 505.8,62.5 506.2,62.5 506.6,62.5 507.0,62.4 507.4,62.4 507.8,62.4 508.2,62.3 508.6,62.3 509.0,62.3 509.4,62.3 509.8,62.3 510.2,62.2 510.6,62.2 511.0,62.2 511.4,62.2 511.8,62.2 512.2,62.1 512.6,62.1 513.0,62.1 513.4,62.1 513.8,62.1 514.2,62.1 514.6,62.1 515.0,62.0 515.4,62.0 515.8,62.0 516.2,62.0 516.6,62.0 517.0,62.0 517.4,62.0 517.8,62.0 518.2,62.0" stroke="#1a9687"/>
<path d="M289.0,60.6 289.4,60.6 289.8,60.6 290.2,60.6 290.6,60.6 291.0,60.6 291.4,60.6 291.8,60.6 292.2,60.6 292.6,60.6 293.0,60.6 293.4,60.6 293.8,60.6 294.2,60.6 294.6,60.6 295.0,60.6 295.4,60.6 295.8,60.6 296.2,60.6 296.6,60.6 297.0,60.6 297.4,60.6 297.8,60.6 298.2,60.6 298.6,60.6 299.0,60.6 299.4,60.6 299.8,60.6 300.2,60.6 300.6,60.6 301.0,60.6 301.4,60.6 301.8,60.6 302.2,60.6 302.6,60.6 303.0,60.6 303.4,60.6 303.8,60.6 304.2,60.6 304.6,60.6 305.0,60.6 305.4,60.6 305.8,60.6 306.2,60.6 306.6,60.6 307.0,60.6 307.4,60.6 307.8,60.6 308.2,60.6 308.6,60.6 309.0,60.6 309.4,60.6 309.8,60.6 310.2,60.6 310.6,60.6 311.0,60.6 311.4,60.6 311.8,60.6 312.2,60.6 312.6,60.6 313.0,60.6 313.4,60.6 313.8,60.6 314.2,60.6 314.6,60.6 315.0,60.6 315.4,60.6 315.8,60.7 316.2,60.7 316.6,60.8 317.0,60.9 317.4,61.0 317.8,61.1 318.2,61.3 318.6,61.4 319.0,61.5 319.4,61.7 319.8,61.8 320.2,62.0 320.6,62.1 321.0,62.3 321.4,62.4 321.8,62.6 322.2,62.7 322.6,62.9 323.0,63.0 323.4,63.2 323.8,63.3 324.2,63.5 324.6,63.6 325.0,63.8 325.4,64.0 325.8,64.2 326.2,64.4 326.6,64.6 327.0,64.8 327.4,65.0 327.8,65.2 328.2,65.5 328.6,65.8 329.0,66.0 329.4,66.3 329.8,66.6 330.2,67.0 330.6,67.4 331.0,67.8 331.4,68.3 331.8,68.8 332.2,69.3 332.6,69.9 333.0,70.6 333.4,71.4 333.8,72.3 334.2,73.4 334.6,74.7 335.0,76.4 335.4,78.6 335.8,82.4 336.2,87.2 336.6,92.3 337.0,98.3 337.4,105.0 337.8,112.4 338.2,120.5 338.6,129.2 339.0,138.4 339.4,148.5 339.8,160.1 340.2,173.8 340.6,190.0 341.0,203.1 341.4,202.1 341.8,195.9 342.2,190.0 342.6,185.7 343.0,181.6 343.4,178.5 343.8,176.5 344.2,174.9 344.6,174.6 345.0,176.2 345.4,178.6 345.8,181.7 346.2,185.3 346.6,188.9 347.0,192.5 347.4,196.2 347.8,200.0 348.2,204.8 348.6,209.3 349.0,210.5 349.4,205.9 349.8,198.0 350.2,185.0 350.6,172.3 351.0,165.5 351.4,161.8 351.8,159.1 352.2,156.6 352.6,153.5 353.0,150.3 353.4,146.9 353.8,142.5 354.2,135.5 354.6,125.1 355.0,114.9 355.4,105.0 355.8,96.9 356.2,89.6 356.6,83.9 357.0,79.8 357.4,76.3 357.8,73.4 358.2,71.3 358.6,70.0 359.0,69.0 359.4,68.1 359.8,67.4 360.2,66.7 360.6,66.2 361.0,65.7 361.4,65.3 361.8,64.9 362.2,64.6 362.6,64.2 363.0,63.9 363.4,63.6 363.8,63.3 364.2,63.1 364.6,62.8 365.0,62.6 365.4,62.4 365.8,62.2 366.2,62.1 366.6,61.9 367.0,61.8 367.4,61.7 367.8,61.6 368.2,61.5 368.6,61.4 369.0,61.3 369.4,61.2 369.8,61.1 370.2,61.0 370.6,61.0 371.0,60.9 371.4,60.8 371.8,60.8 372.2,60.7 372.6,60.7 373.0,60.6 373.4,60.6 373.8,60.6 374.2,60.6 374.6,60.6 375.0,60.6 375.4,60.6 375.8,60.6 376.2,60.6 376.6,60.5 377.0,60.5 377.4,60.5 377.8,60.5 378.2,60.5 378.6,60.5 379.0,60.5 379.4,60.5 379.8,60.5 380.2,60.5 380.6,60.5 381.0,60.5 381.4,60.5 381.8,60.5 382.2,60.4 382.6,60.4 383.0,60.4 383.4,60.4 383.8,60.4 384.2,60.4 384.6,60.4 385.0,60.4 385.4,60.4 385.8,60.4 386.2,60.4 386.6,60.4 387.0,60.4 387.4,60.4 387.8,60.4 388.2,60.4 388.6,60.4 389.0,60.4 389.4,60.4 389.8,60.4 390.2,60.4 390.6,60.3 391.0,60.3 391.4,60.3 391.8,60.3 392.2,60.3 392.6,60.3 393.0,60.3 393.4,60.3 393.8,60.3 394.2,60.3 394.6,60.3 395.0,60.3 395.4,60.3 395.8,60.3 396.2,60.3 396.6,60.3 397.0,60.3 397.4,60.3 397.8,60.3 398.2,60.3 398.6,60.3 399.0,60.3 399.4,60.3 399.8,60.3 400.2,60.3 400.6,60.3 401.0,60.3 401.4,60.3 401.8,60.3 402.2,60.3 402.6,60.3 403.0,60.3 403.4,60.3 403.8,60.3 404.2,60.3 404.6,60.3 405.0,60.3 405.4,60.3 405.8,60.3 406.2,60.3 406.6,60.3 407.0,60.3 407.4,60.3 407.8,60.3 408.2,60.3 408.6,60.3 409.0,60.3 409.4,60.3 409.8,60.3 410.2,60.3 410.6,60.3 411.0,60.3 411.4,60.3 411.8,60.3 412.2,60.3 412.6,60.3 413.0,60.3 413.4,60.3 413.8,60.3 414.2,60.3 414.6,60.3 415.0,60.3 415.4,60.4 415.8,60.4 416.2,60.4 416.6,60.4 417.0,60.4 417.4,60.4 417.8,60.4 418.2,60.4 418.6,60.4 419.0,60.4 419.4,60.4 419.8,60.4 420.2,60.4 420.6,60.4 421.0,60.4 421.4,60.4 421.8,60.4 422.2,60.4 422.6,60.5 423.0,60.5 423.4,60.5 423.8,60.5 424.2,60.5 424.6,60.5 425.0,60.5 425.4,60.5 425.8,60.5 426.2,60.5 426.6,60.5 427.0,60.5 427.4,60.6 427.8,60.6 428.2,60.6 428.6,60.6 429.0,60.6 429.4,60.6 429.8,60.6 430.2,60.7 430.6,60.7 431.0,60.8 431.4,60.9 431.8,61.0 432.2,61.1 432.6,61.2 433.0,61.3 433.4,61.5 433.8,61.6 434.2,61.8 434.6,61.9 435.0,62.1 435.4,62.2 435.8,62.4 436.2,62.5 436.6,62.7 437.0,62.8 437.4,62.9 437.8,63.1 438.2,63.2 438.6,63.4 439.0,63.6 439.4,63.7 439.8,63.9 440.2,64.1 440.6,64.3 441.0,64.5 441.4,64.7 441.8,64.9 442.2,65.1 442.6,65.4 443.0,65.6 443.4,65.9 443.8,66.2 444.2,66.5 444.6,66.8 445.0,67.2 445.4,67.6 445.8,68.0 446.2,68.5 446.6,69.0 447.0,69.6 447.4,70.3 447.8,71.0 448.2,71.8 448.6,72.8 449.0,74.0 449.4,75.5 449.8,77.3 450.2,80.3 450.6,84.8 451.0,89.6 451.4,94.6 451.8,100.9 452.2,111.2 452.6,130.9 453.0,154.4 453.4,174.4 453.8,186.4 454.2,196.0 454.6,207.5 455.0,204.4 455.4,195.0 455.8,187.5 456.2,181.1 456.6,177.3 457.0,174.3 457.4,173.1 457.8,174.5 458.2,177.6 458.6,180.7 459.0,183.8 459.4,187.1 459.8,190.4 460.2,193.6 460.6,196.8 461.0,199.9 461.4,203.2 461.8,206.9 462.2,211.4 462.6,215.1 463.0,216.7 463.4,212.8 463.8,205.0 464.2,193.8 464.6,182.8 465.0,173.3 465.4,167.6 465.8,163.8 466.2,160.8 466.6,158.1 467.0,155.2 467.4,151.8 467.8,148.6 468.2,144.9 468.6,139.6 469.0,130.5 469.4,120.0 469.8,109.7 470.2,100.9 470.6,93.1 471.0,86.5 471.4,81.8 471.8,78.0 472.2,74.8 472.6,72.3 473.0,70.6 473.4,69.5 473.8,68.6 474.2,67.7 474.6,67.0 475.0,66.4 475.4,65.9 475.8,65.5 476.2,65.1 476.6,64.7 477.0,64.4 477.4,64.1 477.8,63.8 478.2,63.5 478.6,63.2 479.0,63.0 479.4,62.7 479.8,62.5 480.2,62.3 480.6,62.1 481.0,62.0 481.4,61.8 481.8,61.7 482.2,61.6 482.6,61.5 483.0,61.4 483.4,61.3 483.8,61.2 484.2,61.2 484.6,61.1 485.0,61.0 485.4,60.9 485.8,60.9 486.2,60.8 486.6,60.7 487.0,60.7 487.4,60.7 487.8,60.6 488.2,60.6 488.6,60.6 489.0,60.6 489.4,60.6 489.8,60.6 490.2,60.6 490.6,60.6 491.0,60.5 491.4,60.5 491.8,60.5 492.2,60.5 492.6,60.5 493.0,60.5 493.4,60.5 493.8,60.5 494.2,60.5 494.6,60.5 495.0,60.5 495.4,60.5 495.8,60.5 496.2,60.5 496.6,60.4 497.0,60.4 497.4,60.4 497.8,60.4 498.2,60.4 498.6,60.4 499.0,60.4 499.4,60.4 499.8,60.4 500.2,60.4 500.6,60.4 501.0,60.4 501.4,60.4 501.8,60.4 502.2,60.4 502.6,60.4 503.0,60.4 503.4,60.4 503.8,60.4 504.2,60.4 504.6,60.4 505.0,60.4 505.4,60.3 505.8,60.3 506.2,60.3 506.6,60.3 507.0,60.3 507.4,60.3 507.8,60.3 508.2,60.3 508.6,60.3 509.0,60.3 509.4,60.3 509.8,60.3 510.2,60.3 510.6,60.3 511.0,60.3 511.4,60.3 511.8,60.3 512.2,60.3 512.6,60.3 513.0,60.3 513.4,60.3 513.8,60.3 514.2,60.3 514.6,60.3 515.0,60.3 515.4,60.3 515.8,60.3 516.2,60.3 516.6,60.3 517.0,60.3 517.4,60.3 517.8,60.3 518.2,60.3" stroke="#383f62"/>
</g></g>
<rect x="289.3" y="50.8" width="229.2" height="170.0" fill="none" stroke="#a0a0a0" stroke-width="1"/>
<path d="M346.60,220.8 v-2.3 M346.60,50.8 v2.3" stroke="#a0a0a0" stroke-width="1"/>
<path d="M403.90,220.8 v-2.3 M403.90,50.8 v2.3" stroke="#a0a0a0" stroke-width="1"/>
<path d="M461.20,220.8 v-2.3 M461.20,50.8 v2.3" stroke="#a0a0a0" stroke-width="1"/>
<path d="M289.3,93.30 h2.3 M518.5,93.30 h-2.3" stroke="#a0a0a0" stroke-width="1"/>
<path d="M289.3,135.80 h2.3 M518.5,135.80 h-2.3" stroke="#a0a0a0" stroke-width="1"/>
<path d="M289.3,178.30 h2.3 M518.5,178.30 h-2.3" stroke="#a0a0a0" stroke-width="1"/>
<text x="403.9" y="44.2" text-anchor="middle" class="t" textLength="39.3" lengthAdjust="spacingAndGlyphs">Elliptic</text>
<text x="269.2" y="43.30" class="lab">b.</text>
<clipPath id="clc"><rect x="34.3" y="247.0" width="228.9" height="170.9"/></clipPath>
<g clip-path="url(#clc)"><g filter="url(#sb)" fill="none" stroke-width="1.25" stroke-linejoin="round">
<path d="M34.3,275.4 34.7,275.5 35.1,275.9 35.5,276.4 35.9,277.1 36.3,277.8 36.7,279.0 37.1,280.8 37.5,282.9 37.9,285.4 38.3,289.0 38.7,293.6 39.1,297.3 39.5,299.9 39.9,302.8 40.3,306.4 40.7,310.3 41.1,314.5 41.5,318.9 41.9,323.4 42.3,328.2 42.7,333.1 43.1,338.3 43.5,343.5 43.9,348.7 44.3,354.0 44.7,359.6 45.1,365.1 45.5,370.1 45.9,374.3 46.3,378.3 46.7,381.9 47.1,384.9 47.5,387.2 47.9,389.2 48.3,390.9 48.7,392.5 49.1,394.0 49.5,393.6 49.9,395.0 50.3,395.7 50.7,395.7 51.1,395.6 51.5,396.0 51.9,395.3 52.3,395.2 52.7,395.4 53.1,395.3 53.5,395.6 53.9,394.5 54.3,395.1 54.7,393.6 55.1,393.7 55.5,393.8 55.9,394.2 56.3,393.1 56.7,392.2 57.1,393.3 57.5,392.8 57.9,392.1 58.3,392.0 58.7,392.0 59.1,392.2 59.5,392.3 59.9,391.2 60.3,393.0 60.7,391.8 61.1,391.7 61.5,392.3 61.9,392.1 62.3,393.3 62.7,392.9 63.1,392.3 63.5,392.5 63.9,392.6 64.3,392.8 64.7,393.6 65.1,393.2 65.5,394.6 65.9,394.1 66.3,394.4 66.7,395.2 67.1,394.0 67.5,394.7 67.9,395.6 68.3,395.5 68.7,395.7 69.1,396.1 69.5,395.7 69.9,396.1 70.3,395.6 70.7,395.5 71.1,397.2 71.5,396.2 71.9,396.4 72.3,397.5 72.7,397.3 73.1,396.6 73.5,396.6 73.9,396.8 74.3,396.3 74.7,397.1 75.1,396.9 75.5,396.9 75.9,397.2 76.3,397.2 76.7,397.7 77.1,397.6 77.5,396.0 77.9,397.3 78.3,396.3 78.7,396.1 79.1,397.1 79.5,396.3 79.9,396.3 80.3,396.8 80.7,395.7 81.1,395.3 81.5,395.7 81.9,395.9 82.3,395.3 82.7,394.1 83.1,394.4 83.5,394.5 83.9,395.5 84.3,395.0 84.7,395.0 85.1,395.2 85.5,394.5 85.9,394.9 86.3,395.0 86.7,394.3 87.1,394.9 87.5,395.3 87.9,394.5 88.3,395.6 88.7,395.6 89.1,395.9 89.5,395.1 89.9,395.6 90.3,396.3 90.7,396.1 91.1,395.3 91.5,395.9 91.9,396.5 92.3,395.8 92.7,396.1 93.1,397.3 93.5,396.0 93.9,396.0 94.3,395.6 94.7,395.9 95.1,397.0 95.5,396.2 95.9,395.8 96.3,395.9 96.7,396.4 97.1,396.9 97.5,396.2 97.9,396.9 98.3,396.4 98.7,396.8 99.1,396.9 99.5,397.0 99.9,396.5 100.3,396.7 100.7,397.0 101.1,396.1 101.5,396.9 101.9,397.1 102.3,397.3 102.7,396.8 103.1,396.7 103.5,396.8 103.9,396.3 104.3,396.5 104.7,396.8 105.1,396.6 105.5,395.9 105.9,396.2 106.3,395.2 106.7,396.5 107.1,395.7 107.5,396.0 107.9,395.2 108.3,395.5 108.7,395.7 109.1,395.8 109.5,394.4 109.9,395.4 110.3,394.7 110.7,394.2 111.1,394.7 111.5,394.1 111.9,393.9 112.3,393.5 112.7,393.8 113.1,393.5 113.5,393.3 113.9,392.7 114.3,392.7 114.7,392.9 115.1,393.1 115.5,392.2 115.9,392.6 116.3,391.6 116.7,390.8 117.1,391.3 117.5,390.2 117.9,390.5 118.3,390.4 118.7,389.3 119.1,389.0 119.5,389.8 119.9,388.3 120.3,387.8 120.7,387.4 121.1,386.2 121.5,385.4 121.9,384.8 122.3,383.7 122.7,382.7 123.1,381.6 123.5,380.5 123.9,379.4 124.3,378.3 124.7,377.3 125.1,376.1 125.5,375.0 125.9,373.7 126.3,372.5 126.7,371.1 127.1,369.7 127.5,368.3 127.9,366.7 128.3,365.0 128.7,363.1 129.1,361.1 129.5,358.8 129.9,356.1 130.3,353.3 130.7,350.8 131.1,348.7 131.5,346.8 131.9,345.0 132.3,343.1 132.7,341.1 133.1,338.9 133.5,336.3 133.9,333.1 134.3,329.0 134.7,324.3 135.1,319.3 135.5,314.2 135.9,309.3 136.3,305.0 136.7,300.9 137.1,296.8 137.5,292.9 137.9,289.5 138.3,286.8 138.7,284.9 139.1,283.1 139.5,281.5 139.9,280.0 140.3,278.8 140.7,277.8 141.1,276.9 141.5,276.3 141.9,275.7 142.3,275.2 142.7,274.7 143.1,274.3 143.5,274.0 143.9,273.8 144.3,273.7 144.7,273.6 145.1,273.5 145.5,273.4 145.9,273.3 146.3,273.3 146.7,273.3 147.1,273.4 147.5,273.5 147.9,273.7 148.3,273.9 148.7,274.2 149.1,274.5 149.5,275.1 149.9,275.8 150.3,276.7 150.7,277.7 151.1,279.0 151.5,280.7 151.9,282.7 152.3,285.1 152.7,288.5 153.1,293.0 153.5,296.9 153.9,299.6 154.3,302.4 154.7,305.9 155.1,309.8 155.5,314.0 155.9,318.4 156.3,322.9 156.7,327.6 157.1,332.5 157.5,337.6 157.9,342.9 158.3,348.1 158.7,353.3 159.1,358.9 159.5,364.4 159.9,369.5 160.3,373.8 160.7,377.8 161.1,381.5 161.5,384.6 161.9,387.0 162.3,388.9 162.7,390.7 163.1,391.1 163.5,394.2 163.9,393.8 164.3,394.2 164.7,395.3 165.1,395.3 165.5,394.9 165.9,395.8 166.3,395.1 166.7,395.3 167.1,394.8 167.5,395.0 167.9,395.4 168.3,395.0 168.7,394.8 169.1,394.8 169.5,394.1 169.9,393.5 170.3,393.5 170.7,394.2 171.1,393.3 171.5,393.2 171.9,392.8 172.3,392.8 172.7,392.7 173.1,392.3 173.5,392.1 173.9,391.6 174.3,391.5 174.7,392.0 175.1,392.2 175.5,392.3 175.9,391.9 176.3,391.6 176.7,392.4 177.1,392.6 177.5,391.7 177.9,393.0 178.3,393.1 178.7,393.8 179.1,392.6 179.5,392.8 179.9,394.2 180.3,393.2 180.7,394.0 181.1,394.1 181.5,394.4 181.9,394.2 182.3,395.2 182.7,395.9 183.1,395.9 183.5,396.0 183.9,395.8 184.3,396.8 184.7,396.5 185.1,396.9 185.5,395.7 185.9,396.8 186.3,396.1 186.7,396.9 187.1,396.9 187.5,396.2 187.9,396.9 188.3,397.4 188.7,397.0 189.1,397.1 189.5,396.4 189.9,396.5 190.3,396.2 190.7,396.9 191.1,397.4 191.5,397.0 191.9,396.8 192.3,396.2 192.7,397.0 193.1,396.7 193.5,395.8 193.9,395.8 194.3,396.3 194.7,395.8 195.1,396.8 195.5,395.8 195.9,395.0 196.3,395.0 196.7,395.8 197.1,394.4 197.5,395.1 197.9,394.8 198.3,395.2 198.7,394.8 199.1,394.3 199.5,394.8 199.9,394.6 200.3,395.1 200.7,394.7 201.1,395.8 201.5,394.8 201.9,395.2 202.3,394.7 202.7,395.2 203.1,395.3 203.5,395.4 203.9,395.9 204.3,395.2 204.7,395.2 205.1,396.2 205.5,395.6 205.9,395.4 206.3,396.4 206.7,396.2 207.1,394.6 207.5,395.8 207.9,396.4 208.3,396.5 208.7,395.9 209.1,397.0 209.5,395.8 209.9,396.2 210.3,396.4 210.7,396.4 211.1,396.8 211.5,397.0 211.9,396.5 212.3,397.3 212.7,396.3 213.1,396.5 213.5,397.5 213.9,396.8 214.3,397.3 214.7,396.5 215.1,396.6 215.5,396.7 215.9,396.9 216.3,396.6 216.7,396.8 217.1,397.1 217.5,397.4 217.9,396.8 218.3,397.0 218.7,397.1 219.1,396.1 219.5,395.7 219.9,397.3 220.3,397.0 220.7,396.3 221.1,396.3 221.5,395.6 221.9,395.2 222.3,395.9 222.7,394.9 223.1,395.9 223.5,395.0 223.9,395.3 224.3,396.0 224.7,395.8 225.1,394.5 225.5,395.0 225.9,393.8 226.3,393.8 226.7,394.1 227.1,394.5 227.5,393.3 227.9,393.7 228.3,393.2 228.7,392.4 229.1,392.7 229.5,393.3 229.9,392.2 230.3,392.2 230.7,392.1 231.1,391.0 231.5,391.7 231.9,391.5 232.3,391.2 232.7,390.6 233.1,389.3 233.5,388.9 233.9,388.3 234.3,387.8 234.7,387.3 235.1,387.6 235.5,387.1 235.9,385.3 236.3,384.7 236.7,383.8 237.1,382.8 237.5,381.7 237.9,380.7 238.3,379.6 238.7,378.5 239.1,377.4 239.5,376.3 239.9,375.1 240.3,373.9 240.7,372.6 241.1,371.3 241.5,369.9 241.9,368.4 242.3,366.9 242.7,365.2 243.1,363.4 243.5,361.4 243.9,359.1 244.3,356.4 244.7,353.6 245.1,351.1 245.5,349.0 245.9,347.1 246.3,345.2 246.7,343.4 247.1,341.4 247.5,339.2 247.9,336.7 248.3,333.6 248.7,329.6 249.1,324.9 249.5,319.9 249.9,314.8 250.3,309.9 250.7,305.5 251.1,301.4 251.5,297.3 251.9,293.4 252.3,289.9 252.7,287.1 253.1,285.1 253.5,283.3 253.9,281.7 254.3,280.2 254.7,279.0 255.1,277.9 255.5,277.0 255.9,276.4 256.3,275.8 256.7,275.2 257.1,274.8 257.5,274.4 257.9,274.1 258.3,273.9 258.7,273.7 259.1,273.6 259.5,273.5 259.9,273.4 260.3,273.3 260.7,273.3 261.1,273.3 261.5,273.4 261.9,273.5 262.3,273.7 262.7,273.9 263.1,274.1" stroke="#d8462e"/>
<path d="M34.3,259.8 34.7,259.8 35.1,259.8 35.5,259.8 35.9,259.8 36.3,259.8 36.7,259.8 37.1,259.8 37.5,259.8 37.9,259.8 38.3,259.8 38.7,259.8 39.1,259.8 39.5,259.8 39.9,259.8 40.3,259.8 40.7,259.8 41.1,259.8 41.5,259.8 41.9,259.8 42.3,259.8 42.7,259.8 43.1,259.8 43.5,259.8 43.9,259.8 44.3,259.8 44.7,259.8 45.1,259.8 45.5,259.8 45.9,259.8 46.3,259.8 46.7,259.8 47.1,259.8 47.5,259.8 47.9,259.8 48.3,259.8 48.7,259.8 49.1,259.8 49.5,259.8 49.9,259.8 50.3,259.8 50.7,259.9 51.1,259.9 51.5,260.0 51.9,260.1 52.3,260.2 52.7,260.3 53.1,260.5 53.5,260.6 53.9,260.8 54.3,261.0 54.7,261.2 55.1,261.4 55.5,261.6 55.9,261.8 56.3,262.0 56.7,262.3 57.1,262.6 57.5,263.1 57.9,263.6 58.3,264.2 58.7,264.8 59.1,265.5 59.5,266.3 59.9,267.2 60.3,268.4 60.7,269.8 61.1,271.4 61.5,273.1 61.9,274.7 62.3,276.5 62.7,278.4 63.1,280.4 63.5,282.4 63.9,284.4 64.3,286.4 64.7,288.4 65.1,290.4 65.5,292.5 65.9,294.5 66.3,296.5 66.7,298.4 67.1,300.4 67.5,302.6 67.9,305.0 68.3,307.6 68.7,310.3 69.1,313.1 69.5,316.0 69.9,319.0 70.3,322.4 70.7,326.0 71.1,329.4 71.5,332.5 71.9,335.0 72.3,337.0 72.7,338.7 73.1,340.2 73.5,341.6 73.9,343.0 74.3,344.3 74.7,345.7 75.1,347.0 75.5,348.4 75.9,349.6 76.3,350.9 76.7,352.1 77.1,353.4 77.5,354.6 77.9,355.8 78.3,357.0 78.7,358.1 79.1,359.3 79.5,360.5 79.9,361.7 80.3,363.0 80.7,364.4 81.1,365.9 81.5,367.3 81.9,368.9 82.3,370.4 82.7,371.9 83.1,373.5 83.5,375.0 83.9,376.5 84.3,378.1 84.7,379.7 85.1,381.3 85.5,382.8 85.9,384.3 86.3,385.8 86.7,387.1 87.1,388.5 87.5,389.8 87.9,391.0 88.3,392.2 88.7,393.4 89.1,394.4 89.5,395.2 89.9,396.0 90.3,396.8 90.7,397.5 91.1,398.0 91.5,398.3 91.9,398.4 92.3,398.5 92.7,398.5 93.1,398.4 93.5,397.9 93.9,397.3 94.3,396.4 94.7,395.6 95.1,394.8 95.5,394.0 95.9,393.1 96.3,392.1 96.7,391.1 97.1,390.1 97.5,389.1 97.9,388.2 98.3,387.3 98.7,386.4 99.1,385.6 99.5,384.8 99.9,384.1 100.3,383.6 100.7,383.1 101.1,382.6 101.5,382.3 101.9,382.1 102.3,382.1 102.7,382.3 103.1,382.6 103.5,383.0 103.9,383.4 104.3,383.8 104.7,384.4 105.1,385.1 105.5,385.9 105.9,386.7 106.3,387.6 106.7,388.5 107.1,389.8 107.5,391.2 107.9,392.3 108.3,392.8 108.7,391.5 109.1,388.4 109.5,384.7 109.9,381.2 110.3,377.1 110.7,372.8 111.1,368.0 111.5,363.3 111.9,359.2 112.3,355.6 112.7,352.0 113.1,347.7 113.5,342.3 113.9,336.9 114.3,331.8 114.7,326.9 115.1,322.0 115.5,317.2 115.9,312.5 116.3,308.1 116.7,303.8 117.1,299.5 117.5,295.3 117.9,291.3 118.3,287.6 118.7,284.2 119.1,281.1 119.5,278.1 119.9,275.1 120.3,272.5 120.7,270.2 121.1,268.5 121.5,267.4 121.9,266.5 122.3,265.7 122.7,264.9 123.1,264.3 123.5,263.8 123.9,263.4 124.3,263.1 124.7,262.8 125.1,262.6 125.5,262.4 125.9,262.1 126.3,262.0 126.7,261.8 127.1,261.6 127.5,261.5 127.9,261.4 128.3,261.3 128.7,261.2 129.1,261.2 129.5,261.2 129.9,261.2 130.3,261.2 130.7,261.2 131.1,261.3 131.5,261.3 131.9,261.3 132.3,261.4 132.7,261.4 133.1,261.4 133.5,261.5 133.9,261.5 134.3,261.6 134.7,261.6 135.1,261.7 135.5,261.7 135.9,261.7 136.3,261.7 136.7,261.8 137.1,261.8 137.5,261.8 137.9,261.8 138.3,261.8 138.7,261.8 139.1,261.8 139.5,261.7 139.9,261.7 140.3,261.7 140.7,261.6 141.1,261.6 141.5,261.5 141.9,261.5 142.3,261.4 142.7,261.4 143.1,261.3 143.5,261.3 143.9,261.2 144.3,261.2 144.7,261.1 145.1,261.0 145.5,261.0 145.9,260.9 146.3,260.9 146.7,260.8 147.1,260.8 147.5,260.7 147.9,260.7 148.3,260.6 148.7,260.6 149.1,260.6 149.5,260.5 149.9,260.5 150.3,260.5 150.7,260.5 151.1,260.4 151.5,260.4 151.9,260.4 152.3,260.3 152.7,260.3 153.1,260.3 153.5,260.3 153.9,260.2 154.3,260.2 154.7,260.2 155.1,260.1 155.5,260.1 155.9,260.1 156.3,260.1 156.7,260.0 157.1,260.0 157.5,260.0 157.9,260.0 158.3,260.0 158.7,259.9 159.1,259.9 159.5,259.9 159.9,259.9 160.3,259.9 160.7,259.9 161.1,259.8 161.5,259.8 161.9,259.8 162.3,259.8 162.7,259.8 163.1,259.8 163.5,259.8 163.9,259.8 164.3,259.8 164.7,259.8 165.1,259.9 165.5,259.9 165.9,260.0 166.3,260.1 166.7,260.2 167.1,260.3 167.5,260.5 167.9,260.6 168.3,260.8 168.7,260.9 169.1,261.1 169.5,261.3 169.9,261.5 170.3,261.7 170.7,262.0 171.1,262.2 171.5,262.6 171.9,263.0 172.3,263.5 172.7,264.1 173.1,264.7 173.5,265.4 173.9,266.2 174.3,267.1 174.7,268.2 175.1,269.6 175.5,271.2 175.9,272.9 176.3,274.5 176.7,276.2 177.1,278.1 177.5,280.1 177.9,282.1 178.3,284.2 178.7,286.1 179.1,288.1 179.5,290.2 179.9,292.2 180.3,294.2 180.7,296.2 181.1,298.2 181.5,300.1 181.9,302.3 182.3,304.7 182.7,307.2 183.1,309.9 183.5,312.7 183.9,315.6 184.3,318.6 184.7,322.0 185.1,325.6 185.5,329.0 185.9,332.2 186.3,334.7 186.7,336.7 187.1,338.5 187.5,340.0 187.9,341.4 188.3,342.8 188.7,344.1 189.1,345.5 189.5,346.9 189.9,348.2 190.3,349.5 190.7,350.7 191.1,352.0 191.5,353.2 191.9,354.5 192.3,355.7 192.7,356.8 193.1,358.0 193.5,359.1 193.9,360.3 194.3,361.6 194.7,362.9 195.1,364.2 195.5,365.7 195.9,367.1 196.3,368.7 196.7,370.2 197.1,371.7 197.5,373.3 197.9,374.8 198.3,376.3 198.7,377.9 199.1,379.5 199.5,381.1 199.9,382.6 200.3,384.2 200.7,385.6 201.1,387.0 201.5,388.3 201.9,389.6 202.3,390.9 202.7,392.1 203.1,393.2 203.5,394.2 203.9,395.1 204.3,395.9 204.7,396.7 205.1,397.4 205.5,398.0 205.9,398.3 206.3,398.4 206.7,398.5 207.1,398.5 207.5,398.4 207.9,398.0 208.3,397.4 208.7,396.6 209.1,395.7 209.5,394.9 209.9,394.1 210.3,393.2 210.7,392.2 211.1,391.2 211.5,390.2 211.9,389.3 212.3,388.3 212.7,387.5 213.1,386.6 213.5,385.7 213.9,384.9 214.3,384.2 214.7,383.7 215.1,383.1 215.5,382.7 215.9,382.3 216.3,382.1 216.7,382.1 217.1,382.3 217.5,382.6 217.9,383.0 218.3,383.4 218.7,383.8 219.1,384.3 219.5,385.0 219.9,385.8 220.3,386.6 220.7,387.5 221.1,388.4 221.5,389.6 221.9,391.1 222.3,392.2 222.7,392.8 223.1,391.8 223.5,388.8 223.9,385.2 224.3,381.7 224.7,377.7 225.1,373.4 225.5,368.6 225.9,363.8 226.3,359.6 226.7,356.1 227.1,352.5 227.5,348.3 227.9,343.0 228.3,337.5 228.7,332.5 229.1,327.5 229.5,322.6 229.9,317.8 230.3,313.1 230.7,308.6 231.1,304.3 231.5,300.0 231.9,295.8 232.3,291.8 232.7,288.0 233.1,284.6 233.5,281.5 233.9,278.4 234.3,275.5 234.7,272.8 235.1,270.5 235.5,268.7 235.9,267.5 236.3,266.6 236.7,265.8 237.1,265.0 237.5,264.4 237.9,263.9 238.3,263.4 238.7,263.1 239.1,262.8 239.5,262.6 239.9,262.4 240.3,262.2 240.7,262.0 241.1,261.8 241.5,261.6 241.9,261.5 242.3,261.4 242.7,261.3 243.1,261.2 243.5,261.2 243.9,261.2 244.3,261.2 244.7,261.2 245.1,261.2 245.5,261.3 245.9,261.3 246.3,261.3 246.7,261.4 247.1,261.4 247.5,261.4 247.9,261.5 248.3,261.5 248.7,261.6 249.1,261.6 249.5,261.6 249.9,261.7 250.3,261.7 250.7,261.7 251.1,261.8 251.5,261.8 251.9,261.8 252.3,261.8 252.7,261.8 253.1,261.8 253.5,261.8 253.9,261.8 254.3,261.8 254.7,261.7 255.1,261.7 255.5,261.7 255.9,261.7 256.3,261.6 256.7,261.6 257.1,261.6 257.5,261.5 257.9,261.5 258.3,261.4 258.7,261.4 259.1,261.3 259.5,261.3 259.9,261.2 260.3,261.1 260.7,261.1 261.1,261.0 261.5,260.9 261.9,260.9 262.3,260.8 262.7,260.7 263.1,260.6" stroke="#48bfc9"/>
<path d="M34.3,265.4 34.7,265.4 35.1,265.4 35.5,265.4 35.9,265.4 36.3,265.4 36.7,265.4 37.1,265.4 37.5,265.4 37.9,265.4 38.3,265.4 38.7,265.4 39.1,265.4 39.5,265.4 39.9,265.4 40.3,265.4 40.7,265.4 41.1,265.4 41.5,265.5 41.9,265.6 42.3,265.8 42.7,266.0 43.1,266.2 43.5,266.4 43.9,266.7 44.3,267.0 44.7,267.3 45.1,267.6 45.5,268.0 45.9,268.4 46.3,268.9 46.7,269.5 47.1,270.2 47.5,271.0 47.9,271.8 48.3,272.7 48.7,273.7 49.1,275.1 49.5,276.7 49.9,278.7 50.3,281.2 50.7,285.0 51.1,289.2 51.5,292.7 51.9,295.8 52.3,298.8 52.7,301.7 53.1,304.6 53.5,307.4 53.9,310.1 54.3,312.8 54.7,315.5 55.1,318.2 55.5,320.9 55.9,323.7 56.3,326.6 56.7,329.5 57.1,332.5 57.5,335.5 57.9,338.4 58.3,341.3 58.7,344.1 59.1,346.8 59.5,349.4 59.9,351.8 60.3,354.2 60.7,356.5 61.1,358.6 61.5,360.7 61.9,362.6 62.3,364.3 62.7,365.9 63.1,367.3 63.5,368.7 63.9,370.1 64.3,371.4 64.7,372.6 65.1,373.9 65.5,375.0 65.9,376.2 66.3,377.3 66.7,378.3 67.1,379.2 67.5,380.0 67.9,380.7 68.3,381.4 68.7,382.1 69.1,382.7 69.5,383.3 69.9,383.9 70.3,384.4 70.7,384.9 71.1,385.4 71.5,385.9 71.9,386.3 72.3,386.8 72.7,387.2 73.1,387.6 73.5,388.0 73.9,388.4 74.3,388.8 74.7,389.1 75.1,389.7 75.5,389.4 75.9,390.0 76.3,390.1 76.7,390.1 77.1,390.9 77.5,391.1 77.9,391.2 78.3,391.3 78.7,391.3 79.1,391.8 79.5,391.7 79.9,392.1 80.3,391.7 80.7,392.1 81.1,392.3 81.5,392.5 81.9,392.5 82.3,392.2 82.7,392.0 83.1,391.7 83.5,392.3 83.9,392.7 84.3,392.8 84.7,391.6 85.1,392.2 85.5,392.4 85.9,392.3 86.3,392.8 86.7,392.8 87.1,392.7 87.5,393.0 87.9,392.6 88.3,392.9 88.7,393.0 89.1,393.6 89.5,392.9 89.9,393.4 90.3,393.7 90.7,393.5 91.1,393.7 91.5,393.3 91.9,393.6 92.3,393.8 92.7,394.2 93.1,393.7 93.5,393.9 93.9,393.5 94.3,393.5 94.7,394.0 95.1,393.7 95.5,393.9 95.9,393.7 96.3,394.1 96.7,394.2 97.1,393.3 97.5,394.1 97.9,393.6 98.3,393.6 98.7,393.5 99.1,393.7 99.5,393.2 99.9,393.3 100.3,393.3 100.7,393.6 101.1,393.8 101.5,393.7 101.9,393.6 102.3,393.3 102.7,393.0 103.1,393.6 103.5,393.5 103.9,393.5 104.3,393.7 104.7,393.2 105.1,393.1 105.5,392.4 105.9,393.1 106.3,392.8 106.7,392.5 107.1,392.7 107.5,392.2 107.9,392.2 108.3,392.8 108.7,392.3 109.1,392.2 109.5,392.0 109.9,391.8 110.3,391.5 110.7,391.9 111.1,391.1 111.5,391.1 111.9,390.7 112.3,390.5 112.7,389.7 113.1,389.7 113.5,390.5 113.9,390.4 114.3,389.6 114.7,389.6 115.1,389.4 115.5,389.3 115.9,389.1 116.3,388.9 116.7,388.6 117.1,388.4 117.5,388.1 117.9,387.8 118.3,387.4 118.7,387.0 119.1,386.6 119.5,385.7 119.9,384.5 120.3,383.0 120.7,381.3 121.1,379.5 121.5,377.4 121.9,375.0 122.3,372.3 122.7,369.5 123.1,366.4 123.5,362.9 123.9,358.9 124.3,353.7 124.7,349.0 125.1,345.2 125.5,341.9 125.9,338.5 126.3,334.6 126.7,330.1 127.1,325.3 127.5,320.3 127.9,315.2 128.3,310.0 128.7,305.0 129.1,299.7 129.5,294.0 129.9,288.7 130.3,284.3 130.7,281.2 131.1,278.6 131.5,276.2 131.9,274.2 132.3,272.5 132.7,271.2 133.1,270.2 133.5,269.3 133.9,268.6 134.3,267.9 134.7,267.3 135.1,266.7 135.5,266.3 135.9,265.9 136.3,265.6 136.7,265.5 137.1,265.3 137.5,265.2 137.9,265.1 138.3,265.0 138.7,264.9 139.1,264.8 139.5,264.7 139.9,264.6 140.3,264.5 140.7,264.5 141.1,264.4 141.5,264.4 141.9,264.3 142.3,264.3 142.7,264.2 143.1,264.2 143.5,264.2 143.9,264.2 144.3,264.2 144.7,264.2 145.1,264.2 145.5,264.2 145.9,264.2 146.3,264.2 146.7,264.2 147.1,264.2 147.5,264.2 147.9,264.2 148.3,264.2 148.7,264.2 149.1,264.2 149.5,264.2 149.9,264.3 150.3,264.3 150.7,264.4 151.1,264.4 151.5,264.5 151.9,264.6 152.3,264.7 152.7,264.7 153.1,264.8 153.5,264.9 153.9,265.1 154.3,265.2 154.7,265.3 155.1,265.4 155.5,265.5 155.9,265.6 156.3,265.8 156.7,265.9 157.1,266.1 157.5,266.3 157.9,266.5 158.3,266.7 158.7,267.0 159.1,267.3 159.5,267.6 159.9,267.9 160.3,268.3 160.7,268.8 161.1,269.4 161.5,270.1 161.9,270.9 162.3,271.7 162.7,272.6 163.1,273.6 163.5,274.9 163.9,276.5 164.3,278.4 164.7,280.8 165.1,284.5 165.5,288.7 165.9,292.2 166.3,295.4 166.7,298.4 167.1,301.4 167.5,304.2 167.9,307.0 168.3,309.8 168.7,312.5 169.1,315.1 169.5,317.8 169.9,320.6 170.3,323.4 170.7,326.2 171.1,329.2 171.5,332.1 171.9,335.1 172.3,338.1 172.7,341.0 173.1,343.8 173.5,346.5 173.9,349.1 174.3,351.5 174.7,353.9 175.1,356.2 175.5,358.4 175.9,360.4 176.3,362.3 176.7,364.1 177.1,365.7 177.5,367.2 177.9,368.6 178.3,369.9 178.7,371.2 179.1,372.5 179.5,373.7 179.9,374.9 180.3,376.1 180.7,377.2 181.1,378.2 181.5,379.1 181.9,379.9 182.3,380.7 182.7,381.4 183.1,382.0 183.5,382.6 183.9,383.2 184.3,383.8 184.7,384.3 185.1,384.9 185.5,385.4 185.9,385.8 186.3,386.3 186.7,386.7 187.1,387.1 187.5,387.5 187.9,387.9 188.3,388.3 188.7,388.7 189.1,389.1 189.5,389.4 189.9,389.8 190.3,390.3 190.7,390.1 191.1,391.1 191.5,390.5 191.9,390.8 192.3,390.4 192.7,391.9 193.1,391.6 193.5,392.3 193.9,391.6 194.3,392.1 194.7,392.1 195.1,392.1 195.5,392.7 195.9,392.8 196.3,392.6 196.7,392.1 197.1,392.5 197.5,392.6 197.9,392.4 198.3,392.5 198.7,392.5 199.1,392.1 199.5,392.5 199.9,393.0 200.3,392.3 200.7,392.7 201.1,393.0 201.5,392.5 201.9,392.9 202.3,392.6 202.7,393.0 203.1,392.8 203.5,393.0 203.9,393.2 204.3,393.3 204.7,393.4 205.1,392.8 205.5,394.0 205.9,393.4 206.3,393.2 206.7,393.3 207.1,393.6 207.5,393.2 207.9,393.4 208.3,393.4 208.7,393.7 209.1,393.3 209.5,393.6 209.9,393.6 210.3,393.5 210.7,393.9 211.1,393.5 211.5,393.1 211.9,393.6 212.3,393.5 212.7,393.5 213.1,393.6 213.5,394.2 213.9,393.6 214.3,393.6 214.7,393.4 215.1,393.9 215.5,393.5 215.9,393.3 216.3,393.1 216.7,393.7 217.1,393.7 217.5,393.0 217.9,393.2 218.3,393.6 218.7,393.6 219.1,392.8 219.5,393.0 219.9,393.3 220.3,392.8 220.7,392.7 221.1,392.6 221.5,392.2 221.9,392.5 222.3,392.4 222.7,391.8 223.1,392.1 223.5,392.2 223.9,391.8 224.3,391.9 224.7,391.3 225.1,391.7 225.5,390.9 225.9,391.5 226.3,390.6 226.7,390.4 227.1,390.1 227.5,390.1 227.9,389.9 228.3,389.7 228.7,389.7 229.1,389.8 229.5,389.7 229.9,389.2 230.3,389.1 230.7,388.9 231.1,388.7 231.5,388.4 231.9,388.1 232.3,387.8 232.7,387.5 233.1,387.1 233.5,386.6 233.9,385.9 234.3,384.7 234.7,383.2 235.1,381.5 235.5,379.8 235.9,377.7 236.3,375.3 236.7,372.6 237.1,369.8 237.5,366.8 237.9,363.3 238.3,359.5 238.7,354.4 239.1,349.5 239.5,345.7 239.9,342.3 240.3,338.9 240.7,335.1 241.1,330.7 241.5,326.0 241.9,321.0 242.3,315.8 242.7,310.7 243.1,305.6 243.5,300.4 243.9,294.7 244.3,289.3 244.7,284.7 245.1,281.5 245.5,278.9 245.9,276.5 246.3,274.5 246.7,272.7 247.1,271.3 247.5,270.3 247.9,269.4 248.3,268.7 248.7,268.0 249.1,267.3 249.5,266.8 249.9,266.3 250.3,265.9 250.7,265.7 251.1,265.5 251.5,265.4 251.9,265.2 252.3,265.1 252.7,265.0 253.1,264.9 253.5,264.8 253.9,264.7 254.3,264.6 254.7,264.5 255.1,264.5 255.5,264.4 255.9,264.4 256.3,264.3 256.7,264.3 257.1,264.2 257.5,264.2 257.9,264.2 258.3,264.2 258.7,264.2 259.1,264.2 259.5,264.2 259.9,264.2 260.3,264.2 260.7,264.2 261.1,264.2 261.5,264.2 261.9,264.2 262.3,264.2 262.7,264.2 263.1,264.2" stroke="#f0a48a"/>
<path d="M34.3,258.1 34.7,258.1 35.1,258.1 35.5,258.1 35.9,258.1 36.3,258.1 36.7,258.1 37.1,258.1 37.5,258.1 37.9,258.1 38.3,258.1 38.7,258.1 39.1,258.1 39.5,258.1 39.9,258.1 40.3,258.1 40.7,258.1 41.1,258.1 41.5,258.1 41.9,258.1 42.3,258.1 42.7,258.1 43.1,258.1 43.5,258.1 43.9,258.1 44.3,258.1 44.7,258.1 45.1,258.1 45.5,258.1 45.9,258.1 46.3,258.1 46.7,258.1 47.1,258.1 47.5,258.1 47.9,258.1 48.3,258.1 48.7,258.1 49.1,258.1 49.5,258.1 49.9,258.1 50.3,258.1 50.7,258.1 51.1,258.1 51.5,258.1 51.9,258.1 52.3,258.2 52.7,258.2 53.1,258.3 53.5,258.3 53.9,258.4 54.3,258.4 54.7,258.5 55.1,258.6 55.5,258.7 55.9,258.8 56.3,258.9 56.7,259.0 57.1,259.1 57.5,259.2 57.9,259.3 58.3,259.4 58.7,259.5 59.1,259.6 59.5,259.7 59.9,259.9 60.3,260.0 60.7,260.1 61.1,260.2 61.5,260.3 61.9,260.4 62.3,260.5 62.7,260.7 63.1,260.8 63.5,260.9 63.9,261.0 64.3,261.2 64.7,261.3 65.1,261.5 65.5,261.6 65.9,261.8 66.3,261.9 66.7,262.1 67.1,262.3 67.5,262.5 67.9,262.7 68.3,263.0 68.7,263.2 69.1,263.5 69.5,263.8 69.9,264.2 70.3,264.5 70.7,264.9 71.1,265.4 71.5,265.9 71.9,266.4 72.3,267.0 72.7,267.7 73.1,268.4 73.5,269.3 73.9,270.4 74.3,271.6 74.7,273.0 75.1,274.5 75.5,276.1 75.9,277.9 76.3,280.0 76.7,282.4 77.1,284.8 77.5,287.2 77.9,289.6 78.3,292.2 78.7,295.0 79.1,298.2 79.5,302.0 79.9,305.9 80.3,309.9 80.7,314.2 81.1,319.3 81.5,326.0 81.9,335.6 82.3,345.7 82.7,353.7 83.1,360.5 83.5,366.7 83.9,372.3 84.3,377.4 84.7,382.0 85.1,385.9 85.5,389.2 85.9,392.1 86.3,395.0 86.7,398.2 87.1,401.0 87.5,403.0 87.9,403.5 88.3,403.5 88.7,403.5 89.1,403.5 89.5,403.5 89.9,403.2 90.3,402.0 90.7,400.2 91.1,398.1 91.5,395.9 91.9,394.1 92.3,392.8 92.7,391.9 93.1,391.0 93.5,390.3 93.9,389.7 94.3,389.3 94.7,389.3 95.1,389.6 95.5,390.1 95.9,390.6 96.3,391.0 96.7,391.4 97.1,391.8 97.5,392.2 97.9,392.6 98.3,392.8 98.7,392.0 99.1,387.5 99.5,382.9 99.9,379.1 100.3,375.0 100.7,370.3 101.1,365.1 101.5,360.0 101.9,355.5 102.3,350.0 102.7,338.2 103.1,327.6 103.5,321.1 103.9,315.8 104.3,311.0 104.7,306.3 105.1,301.0 105.5,295.4 105.9,290.1 106.3,285.4 106.7,281.8 107.1,278.7 107.5,275.8 107.9,273.2 108.3,271.0 108.7,269.2 109.1,267.9 109.5,266.9 109.9,266.0 110.3,265.3 110.7,264.6 111.1,264.0 111.5,263.6 111.9,263.2 112.3,262.8 112.7,262.6 113.1,262.3 113.5,262.1 113.9,261.8 114.3,261.6 114.7,261.4 115.1,261.3 115.5,261.1 115.9,261.0 116.3,260.8 116.7,260.7 117.1,260.6 117.5,260.4 117.9,260.3 118.3,260.2 118.7,260.1 119.1,260.0 119.5,259.8 119.9,259.7 120.3,259.6 120.7,259.5 121.1,259.4 121.5,259.3 121.9,259.2 122.3,259.1 122.7,259.1 123.1,259.0 123.5,258.9 123.9,258.9 124.3,258.8 124.7,258.8 125.1,258.7 125.5,258.7 125.9,258.7 126.3,258.7 126.7,258.6 127.1,258.6 127.5,258.6 127.9,258.6 128.3,258.6 128.7,258.5 129.1,258.5 129.5,258.5 129.9,258.5 130.3,258.5 130.7,258.5 131.1,258.4 131.5,258.4 131.9,258.4 132.3,258.4 132.7,258.4 133.1,258.4 133.5,258.4 133.9,258.3 134.3,258.3 134.7,258.3 135.1,258.3 135.5,258.3 135.9,258.3 136.3,258.3 136.7,258.3 137.1,258.2 137.5,258.2 137.9,258.2 138.3,258.2 138.7,258.2 139.1,258.2 139.5,258.2 139.9,258.2 140.3,258.2 140.7,258.2 141.1,258.2 141.5,258.2 141.9,258.2 142.3,258.1 142.7,258.1 143.1,258.1 143.5,258.1 143.9,258.1 144.3,258.1 144.7,258.1 145.1,258.1 145.5,258.1 145.9,258.1 146.3,258.1 146.7,258.1 147.1,258.1 147.5,258.1 147.9,258.1 148.3,258.1 148.7,258.1 149.1,258.1 149.5,258.1 149.9,258.1 150.3,258.1 150.7,258.1 151.1,258.1 151.5,258.1 151.9,258.1 152.3,258.1 152.7,258.1 153.1,258.1 153.5,258.1 153.9,258.1 154.3,258.1 154.7,258.1 155.1,258.1 155.5,258.1 155.9,258.1 156.3,258.1 156.7,258.1 157.1,258.1 157.5,258.1 157.9,258.1 158.3,258.1 158.7,258.1 159.1,258.1 159.5,258.1 159.9,258.1 160.3,258.1 160.7,258.1 161.1,258.1 161.5,258.1 161.9,258.1 162.3,258.1 162.7,258.1 163.1,258.1 163.5,258.1 163.9,258.1 164.3,258.1 164.7,258.1 165.1,258.1 165.5,258.1 165.9,258.1 166.3,258.1 166.7,258.2 167.1,258.2 167.5,258.3 167.9,258.3 168.3,258.4 168.7,258.4 169.1,258.5 169.5,258.6 169.9,258.7 170.3,258.8 170.7,258.9 171.1,259.0 171.5,259.1 171.9,259.2 172.3,259.3 172.7,259.4 173.1,259.5 173.5,259.6 173.9,259.7 174.3,259.8 174.7,260.0 175.1,260.1 175.5,260.2 175.9,260.3 176.3,260.4 176.7,260.5 177.1,260.6 177.5,260.8 177.9,260.9 178.3,261.0 178.7,261.1 179.1,261.3 179.5,261.4 179.9,261.6 180.3,261.8 180.7,261.9 181.1,262.1 181.5,262.3 181.9,262.5 182.3,262.7 182.7,262.9 183.1,263.2 183.5,263.5 183.9,263.8 184.3,264.1 184.7,264.5 185.1,264.9 185.5,265.3 185.9,265.8 186.3,266.4 186.7,267.0 187.1,267.6 187.5,268.3 187.9,269.1 188.3,270.2 188.7,271.4 189.1,272.8 189.5,274.3 189.9,275.9 190.3,277.6 190.7,279.7 191.1,282.1 191.5,284.5 191.9,286.9 192.3,289.3 192.7,291.9 193.1,294.6 193.5,297.7 193.9,301.5 194.3,305.4 194.7,309.3 195.1,313.6 195.5,318.7 195.9,325.0 196.3,334.3 196.7,344.6 197.1,352.8 197.5,359.7 197.9,366.0 198.3,371.6 198.7,376.8 199.1,381.5 199.5,385.5 199.9,388.8 200.3,391.8 200.7,394.6 201.1,397.8 201.5,400.7 201.9,402.8 202.3,403.5 202.7,403.5 203.1,403.5 203.5,403.5 203.9,403.5 204.3,403.3 204.7,402.2 205.1,400.5 205.5,398.4 205.9,396.2 206.3,394.3 206.7,392.9 207.1,392.0 207.5,391.1 207.9,390.3 208.3,389.7 208.7,389.4 209.1,389.3 209.5,389.6 209.9,390.0 210.3,390.5 210.7,391.0 211.1,391.3 211.5,391.8 211.9,392.2 212.3,392.5 212.7,392.8 213.1,392.3 213.5,388.2 213.9,383.4 214.3,379.6 214.7,375.5 215.1,370.9 215.5,365.8 215.9,360.6 216.3,356.1 216.7,350.9 217.1,339.9 217.5,328.5 217.9,321.8 218.3,316.4 218.7,311.6 219.1,306.9 219.5,301.7 219.9,296.1 220.3,290.7 220.7,285.9 221.1,282.2 221.5,279.1 221.9,276.1 222.3,273.5 222.7,271.3 223.1,269.4 223.5,268.0 223.9,267.0 224.3,266.1 224.7,265.4 225.1,264.7 225.5,264.1 225.9,263.6 226.3,263.2 226.7,262.9 227.1,262.6 227.5,262.3 227.9,262.1 228.3,261.9 228.7,261.7 229.1,261.5 229.5,261.3 229.9,261.1 230.3,261.0 230.7,260.8 231.1,260.7 231.5,260.6 231.9,260.5 232.3,260.3 232.7,260.2 233.1,260.1 233.5,260.0 233.9,259.9 234.3,259.7 234.7,259.6 235.1,259.5 235.5,259.4 235.9,259.3 236.3,259.2 236.7,259.2 237.1,259.1 237.5,259.0 237.9,258.9 238.3,258.9 238.7,258.8 239.1,258.8 239.5,258.7 239.9,258.7 240.3,258.7 240.7,258.7 241.1,258.6 241.5,258.6 241.9,258.6 242.3,258.6 242.7,258.6 243.1,258.6 243.5,258.5 243.9,258.5 244.3,258.5 244.7,258.5 245.1,258.5 245.5,258.4 245.9,258.4 246.3,258.4 246.7,258.4 247.1,258.4 247.5,258.4 247.9,258.4 248.3,258.3 248.7,258.3 249.1,258.3 249.5,258.3 249.9,258.3 250.3,258.3 250.7,258.3 251.1,258.3 251.5,258.3 251.9,258.2 252.3,258.2 252.7,258.2 253.1,258.2 253.5,258.2 253.9,258.2 254.3,258.2 254.7,258.2 255.1,258.2 255.5,258.2 255.9,258.2 256.3,258.2 256.7,258.1 257.1,258.1 257.5,258.1 257.9,258.1 258.3,258.1 258.7,258.1 259.1,258.1 259.5,258.1 259.9,258.1 260.3,258.1 260.7,258.1 261.1,258.1 261.5,258.1 261.9,258.1 262.3,258.1 262.7,258.1 263.1,258.1" stroke="#1a9687"/>
<path d="M34.3,257.6 34.7,257.6 35.1,257.6 35.5,257.6 35.9,257.6 36.3,257.6 36.7,257.6 37.1,257.6 37.5,257.6 37.9,257.6 38.3,257.6 38.7,257.6 39.1,257.6 39.5,257.6 39.9,257.6 40.3,257.6 40.7,257.6 41.1,257.6 41.5,257.6 41.9,257.6 42.3,257.6 42.7,257.6 43.1,257.6 43.5,257.6 43.9,257.6 44.3,257.6 44.7,257.6 45.1,257.6 45.5,257.6 45.9,257.6 46.3,257.6 46.7,257.6 47.1,257.6 47.5,257.6 47.9,257.6 48.3,257.6 48.7,257.6 49.1,257.6 49.5,257.6 49.9,257.6 50.3,257.6 50.7,257.6 51.1,257.6 51.5,257.6 51.9,257.6 52.3,257.6 52.7,257.6 53.1,257.6 53.5,257.6 53.9,257.6 54.3,257.6 54.7,257.6 55.1,257.6 55.5,257.6 55.9,257.6 56.3,257.6 56.7,257.6 57.1,257.6 57.5,257.6 57.9,257.7 58.3,257.7 58.7,257.8 59.1,257.8 59.5,257.9 59.9,258.0 60.3,258.0 60.7,258.1 61.1,258.2 61.5,258.3 61.9,258.4 62.3,258.5 62.7,258.6 63.1,258.7 63.5,258.8 63.9,258.9 64.3,259.0 64.7,259.1 65.1,259.2 65.5,259.3 65.9,259.4 66.3,259.5 66.7,259.6 67.1,259.8 67.5,259.9 67.9,260.0 68.3,260.2 68.7,260.4 69.1,260.5 69.5,260.7 69.9,260.9 70.3,261.1 70.7,261.3 71.1,261.5 71.5,261.8 71.9,262.0 72.3,262.3 72.7,262.5 73.1,262.9 73.5,263.2 73.9,263.6 74.3,264.0 74.7,264.4 75.1,264.9 75.5,265.4 75.9,265.9 76.3,266.5 76.7,267.1 77.1,267.9 77.5,268.7 77.9,269.6 78.3,270.7 78.7,271.9 79.1,273.2 79.5,274.9 79.9,277.0 80.3,279.6 80.7,282.4 81.1,285.7 81.5,289.8 81.9,294.3 82.3,298.8 82.7,308.4 83.1,322.6 83.5,332.1 83.9,340.1 84.3,346.9 84.7,352.7 85.1,357.4 85.5,362.0 85.9,367.5 86.3,372.9 86.7,376.7 87.1,379.5 87.5,382.0 87.9,384.2 88.3,386.2 88.7,388.4 89.1,390.7 89.5,393.1 89.9,395.4 90.3,397.5 90.7,399.3 91.1,400.7 91.5,402.0 91.9,403.2 92.3,404.1 92.7,404.4 93.1,404.1 93.5,403.3 93.9,402.2 94.3,400.8 94.7,398.9 95.1,395.6 95.5,391.4 95.9,387.5 96.3,384.5 96.7,381.4 97.1,376.6 97.5,363.5 97.9,347.1 98.3,337.6 98.7,329.5 99.1,321.4 99.5,313.8 99.9,307.0 100.3,300.8 100.7,294.8 101.1,289.4 101.5,284.7 101.9,280.6 102.3,276.7 102.7,273.2 103.1,270.3 103.5,268.2 103.9,267.0 104.3,266.0 104.7,265.1 105.1,264.3 105.5,263.7 105.9,263.1 106.3,262.6 106.7,262.2 107.1,261.9 107.5,261.6 107.9,261.3 108.3,261.1 108.7,260.9 109.1,260.7 109.5,260.5 109.9,260.3 110.3,260.1 110.7,260.0 111.1,259.9 111.5,259.7 111.9,259.6 112.3,259.5 112.7,259.4 113.1,259.4 113.5,259.3 113.9,259.2 114.3,259.2 114.7,259.1 115.1,259.0 115.5,259.0 115.9,258.9 116.3,258.9 116.7,258.8 117.1,258.8 117.5,258.7 117.9,258.7 118.3,258.6 118.7,258.6 119.1,258.5 119.5,258.5 119.9,258.5 120.3,258.4 120.7,258.4 121.1,258.4 121.5,258.3 121.9,258.3 122.3,258.3 122.7,258.3 123.1,258.2 123.5,258.2 123.9,258.2 124.3,258.2 124.7,258.1 125.1,258.1 125.5,258.1 125.9,258.1 126.3,258.1 126.7,258.1 127.1,258.0 127.5,258.0 127.9,258.0 128.3,258.0 128.7,258.0 129.1,258.0 129.5,257.9 129.9,257.9 130.3,257.9 130.7,257.9 131.1,257.9 131.5,257.9 131.9,257.8 132.3,257.8 132.7,257.8 133.1,257.8 133.5,257.8 133.9,257.8 134.3,257.8 134.7,257.7 135.1,257.7 135.5,257.7 135.9,257.7 136.3,257.7 136.7,257.7 137.1,257.7 137.5,257.7 137.9,257.7 138.3,257.6 138.7,257.6 139.1,257.6 139.5,257.6 139.9,257.6 140.3,257.6 140.7,257.6 141.1,257.6 141.5,257.6 141.9,257.6 142.3,257.6 142.7,257.6 143.1,257.5 143.5,257.5 143.9,257.5 144.3,257.5 144.7,257.5 145.1,257.5 145.5,257.5 145.9,257.5 146.3,257.5 146.7,257.5 147.1,257.5 147.5,257.5 147.9,257.5 148.3,257.5 148.7,257.5 149.1,257.5 149.5,257.5 149.9,257.5 150.3,257.5 150.7,257.5 151.1,257.5 151.5,257.5 151.9,257.5 152.3,257.5 152.7,257.5 153.1,257.5 153.5,257.5 153.9,257.5 154.3,257.5 154.7,257.5 155.1,257.5 155.5,257.5 155.9,257.5 156.3,257.5 156.7,257.5 157.1,257.5 157.5,257.5 157.9,257.5 158.3,257.5 158.7,257.5 159.1,257.5 159.5,257.5 159.9,257.5 160.3,257.5 160.7,257.5 161.1,257.5 161.5,257.5 161.9,257.5 162.3,257.5 162.7,257.5 163.1,257.5 163.5,257.5 163.9,257.5 164.3,257.5 164.7,257.5 165.1,257.6 165.5,257.6 165.9,257.6 166.3,257.6 166.7,257.6 167.1,257.6 167.5,257.6 167.9,257.6 168.3,257.6 168.7,257.6 169.1,257.6 169.5,257.6 169.9,257.6 170.3,257.6 170.7,257.6 171.1,257.6 171.5,257.6 171.9,257.6 172.3,257.7 172.7,257.7 173.1,257.8 173.5,257.8 173.9,257.9 174.3,258.0 174.7,258.0 175.1,258.1 175.5,258.2 175.9,258.3 176.3,258.4 176.7,258.5 177.1,258.6 177.5,258.7 177.9,258.8 178.3,258.9 178.7,259.0 179.1,259.1 179.5,259.2 179.9,259.3 180.3,259.4 180.7,259.5 181.1,259.6 181.5,259.7 181.9,259.9 182.3,260.0 182.7,260.2 183.1,260.3 183.5,260.5 183.9,260.7 184.3,260.9 184.7,261.1 185.1,261.3 185.5,261.5 185.9,261.7 186.3,262.0 186.7,262.2 187.1,262.5 187.5,262.8 187.9,263.2 188.3,263.5 188.7,263.9 189.1,264.4 189.5,264.8 189.9,265.3 190.3,265.9 190.7,266.4 191.1,267.0 191.5,267.8 191.9,268.6 192.3,269.5 192.7,270.5 193.1,271.7 193.5,273.0 193.9,274.6 194.3,276.7 194.7,279.3 195.1,282.1 195.5,285.3 195.9,289.3 196.3,293.7 196.7,298.2 197.1,306.4 197.5,321.3 197.9,331.0 198.3,339.2 198.7,346.2 199.1,352.1 199.5,356.8 199.9,361.4 200.3,366.8 200.7,372.3 201.1,376.3 201.5,379.2 201.9,381.7 202.3,383.9 202.7,386.0 203.1,388.1 203.5,390.4 203.9,392.8 204.3,395.1 204.7,397.3 205.1,399.1 205.5,400.5 205.9,401.9 206.3,403.1 206.7,404.0 207.1,404.4 207.5,404.2 207.9,403.5 208.3,402.4 208.7,401.0 209.1,399.2 209.5,396.0 209.9,391.9 210.3,387.9 210.7,384.9 211.1,381.8 211.5,377.3 211.9,366.0 212.3,348.5 212.7,338.7 213.1,330.5 213.5,322.4 213.9,314.7 214.3,307.8 214.7,301.5 215.1,295.6 215.5,290.1 215.9,285.2 216.3,281.1 216.7,277.2 217.1,273.6 217.5,270.6 217.9,268.4 218.3,267.2 218.7,266.1 219.1,265.2 219.5,264.4 219.9,263.7 220.3,263.2 220.7,262.7 221.1,262.2 221.5,261.9 221.9,261.6 222.3,261.4 222.7,261.1 223.1,260.9 223.5,260.7 223.9,260.5 224.3,260.3 224.7,260.2 225.1,260.0 225.5,259.9 225.9,259.8 226.3,259.6 226.7,259.5 227.1,259.4 227.5,259.4 227.9,259.3 228.3,259.2 228.7,259.2 229.1,259.1 229.5,259.0 229.9,259.0 230.3,258.9 230.7,258.9 231.1,258.8 231.5,258.8 231.9,258.7 232.3,258.7 232.7,258.6 233.1,258.6 233.5,258.6 233.9,258.5 234.3,258.5 234.7,258.4 235.1,258.4 235.5,258.4 235.9,258.3 236.3,258.3 236.7,258.3 237.1,258.3 237.5,258.2 237.9,258.2 238.3,258.2 238.7,258.2 239.1,258.1 239.5,258.1 239.9,258.1 240.3,258.1 240.7,258.1 241.1,258.1 241.5,258.0 241.9,258.0 242.3,258.0 242.7,258.0 243.1,258.0 243.5,258.0 243.9,257.9 244.3,257.9 244.7,257.9 245.1,257.9 245.5,257.9 245.9,257.9 246.3,257.8 246.7,257.8 247.1,257.8 247.5,257.8 247.9,257.8 248.3,257.8 248.7,257.8 249.1,257.8 249.5,257.7 249.9,257.7 250.3,257.7 250.7,257.7 251.1,257.7 251.5,257.7 251.9,257.7 252.3,257.7 252.7,257.6 253.1,257.6 253.5,257.6 253.9,257.6 254.3,257.6 254.7,257.6 255.1,257.6 255.5,257.6 255.9,257.6 256.3,257.6 256.7,257.6 257.1,257.6 257.5,257.5 257.9,257.5 258.3,257.5 258.7,257.5 259.1,257.5 259.5,257.5 259.9,257.5 260.3,257.5 260.7,257.5 261.1,257.5 261.5,257.5 261.9,257.5 262.3,257.5 262.7,257.5 263.1,257.5" stroke="#383f62"/>
</g></g>
<rect x="34.3" y="247.5" width="228.9" height="169.9" fill="none" stroke="#a0a0a0" stroke-width="1"/>
<path d="M91.52,417.4 v-2.3 M91.52,247.5 v2.3" stroke="#a0a0a0" stroke-width="1"/>
<path d="M148.75,417.4 v-2.3 M148.75,247.5 v2.3" stroke="#a0a0a0" stroke-width="1"/>
<path d="M205.97,417.4 v-2.3 M205.97,247.5 v2.3" stroke="#a0a0a0" stroke-width="1"/>
<path d="M34.3,289.98 h2.3 M263.2,289.98 h-2.3" stroke="#a0a0a0" stroke-width="1"/>
<path d="M34.3,332.45 h2.3 M263.2,332.45 h-2.3" stroke="#a0a0a0" stroke-width="1"/>
<path d="M34.3,374.92 h2.3 M263.2,374.92 h-2.3" stroke="#a0a0a0" stroke-width="1"/>
<text x="148.8" y="240.9" text-anchor="middle" class="t" textLength="98.6" lengthAdjust="spacingAndGlyphs">Chebyshev Type I</text>
<text x="3" y="240.00" class="lab">c.</text>
<text x="30.5" y="250.5" text-anchor="end" class="tk">0</text>
<text x="30.5" y="293.0" text-anchor="end" class="tk">-10</text>
<text x="30.5" y="335.4" text-anchor="end" class="tk">-20</text>
<text x="30.5" y="377.9" text-anchor="end" class="tk">-30</text>
<text x="30.5" y="420.4" text-anchor="end" class="tk">-40</text>
<text transform="translate(9.0,332.4) rotate(-90)" text-anchor="middle" class="al" textLength="123.5" lengthAdjust="spacingAndGlyphs">Normalized Power [dB]</text>
<text x="34.3" y="430.8" text-anchor="middle" class="tk">-1</text>
<text x="91.5" y="430.8" text-anchor="middle" class="tk">-0.5</text>
<text x="148.8" y="430.8" text-anchor="middle" class="tk">0</text>
<text x="206.0" y="430.8" text-anchor="middle" class="tk">0.5</text>
<text x="263.2" y="430.8" text-anchor="middle" class="tk">1</text>
<text x="148.2" y="445.8" text-anchor="middle" class="al" textLength="163.6" lengthAdjust="spacingAndGlyphs">Normalized frequency (f/FSR)</text>
<clipPath id="cld"><rect x="289.3" y="247.0" width="229.2" height="170.9"/></clipPath>
<g clip-path="url(#cld)"><g filter="url(#sb)" fill="none" stroke-width="1.25" stroke-linejoin="round">
<path d="M289.0,282.0 289.4,282.2 289.8,282.6 290.2,283.2 290.6,284.1 291.0,285.4 291.4,287.8 291.8,291.0 292.2,295.9 292.6,301.2 293.0,305.7 293.4,309.9 293.8,314.3 294.2,319.4 294.6,325.8 295.0,334.8 295.4,344.2 295.8,351.6 296.2,357.9 296.6,363.7 297.0,368.5 297.4,372.3 297.8,375.2 298.2,378.3 298.6,379.2 299.0,380.7 299.4,381.8 299.8,383.7 300.2,383.4 300.6,384.2 301.0,386.1 301.4,386.6 301.8,386.6 302.2,385.4 302.6,386.3 303.0,386.9 303.4,386.7 303.8,386.1 304.2,387.0 304.6,386.7 305.0,387.3 305.4,389.4 305.8,388.9 306.2,388.1 306.6,388.2 307.0,389.2 307.4,388.2 307.8,388.0 308.2,386.5 308.6,386.0 309.0,385.7 309.4,384.8 309.8,384.0 310.2,384.1 310.6,384.1 311.0,384.1 311.4,383.9 311.8,383.7 312.2,383.9 312.6,383.1 313.0,384.1 313.4,384.4 313.8,383.6 314.2,383.5 314.6,384.0 315.0,383.7 315.4,383.5 315.8,383.3 316.2,383.0 316.6,382.8 317.0,383.7 317.4,384.0 317.8,382.9 318.2,383.4 318.6,383.6 319.0,383.4 319.4,383.4 319.8,383.8 320.2,383.2 320.6,384.4 321.0,384.6 321.4,386.1 321.8,385.7 322.2,385.3 322.6,385.7 323.0,386.8 323.4,386.9 323.8,386.4 324.2,386.5 324.6,386.1 325.0,386.9 325.4,387.2 325.8,387.1 326.2,388.5 326.6,386.8 327.0,387.9 327.4,388.3 327.8,388.4 328.2,389.2 328.6,387.8 329.0,388.2 329.4,388.8 329.8,388.9 330.2,388.7 330.6,388.6 331.0,389.5 331.4,388.5 331.8,388.7 332.2,389.7 332.6,389.8 333.0,389.4 333.4,388.5 333.8,388.5 334.2,388.4 334.6,388.3 335.0,388.6 335.4,389.4 335.8,388.8 336.2,388.3 336.6,388.3 337.0,388.0 337.4,389.2 337.8,387.5 338.2,388.6 338.6,387.7 339.0,387.9 339.4,387.6 339.8,388.8 340.2,388.2 340.6,389.5 341.0,387.5 341.4,387.4 341.8,388.2 342.2,388.1 342.6,387.6 343.0,386.6 343.4,388.3 343.8,387.8 344.2,387.7 344.6,387.2 345.0,387.8 345.4,387.2 345.8,387.4 346.2,387.3 346.6,388.0 347.0,387.2 347.4,387.2 347.8,387.9 348.2,387.5 348.6,387.3 349.0,387.2 349.4,387.8 349.8,387.0 350.2,387.6 350.6,388.3 351.0,387.5 351.4,386.9 351.8,386.7 352.2,387.4 352.6,386.7 353.0,386.5 353.4,386.9 353.8,386.7 354.2,387.7 354.6,386.5 355.0,388.1 355.4,386.9 355.8,387.3 356.2,387.6 356.6,387.4 357.0,387.6 357.4,386.8 357.8,386.2 358.2,387.2 358.6,386.5 359.0,387.0 359.4,387.8 359.8,387.2 360.2,387.1 360.6,386.8 361.0,387.2 361.4,387.3 361.8,386.6 362.2,387.5 362.6,386.9 363.0,387.5 363.4,387.2 363.8,387.9 364.2,387.9 364.6,387.5 365.0,387.4 365.4,387.7 365.8,388.2 366.2,388.0 366.6,387.5 367.0,387.6 367.4,388.3 367.8,386.7 368.2,387.7 368.6,387.0 369.0,388.2 369.4,387.2 369.8,387.4 370.2,386.9 370.6,387.5 371.0,387.9 371.4,388.3 371.8,386.9 372.2,387.3 372.6,389.4 373.0,388.0 373.4,387.5 373.8,387.8 374.2,386.2 374.6,388.3 375.0,387.6 375.4,386.8 375.8,388.1 376.2,387.2 376.6,387.0 377.0,387.8 377.4,387.7 377.8,387.3 378.2,387.4 378.6,386.8 379.0,386.7 379.4,387.9 379.8,388.1 380.2,387.6 380.6,387.6 381.0,387.2 381.4,387.3 381.8,386.8 382.2,388.2 382.6,386.9 383.0,387.3 383.4,386.9 383.8,385.9 384.2,387.3 384.6,385.8 385.0,385.2 385.4,385.2 385.8,384.8 386.2,384.4 386.6,383.9 387.0,383.2 387.4,382.3 387.8,381.3 388.2,380.1 388.6,378.8 389.0,377.5 389.4,376.2 389.8,375.0 390.2,373.9 390.6,372.8 391.0,371.7 391.4,370.5 391.8,369.2 392.2,367.8 392.6,366.1 393.0,364.1 393.4,361.6 393.8,358.6 394.2,355.0 394.6,349.8 395.0,343.2 395.4,336.8 395.8,329.8 396.2,323.5 396.6,319.2 397.0,316.6 397.4,314.5 397.8,312.0 398.2,308.5 398.6,304.2 399.0,299.7 399.4,295.5 399.8,292.1 400.2,289.3 400.6,286.7 401.0,284.3 401.4,282.5 401.8,281.4 402.2,280.8 402.6,280.2 403.0,279.8 403.4,279.5 403.8,279.4 404.2,279.8 404.6,281.1 405.0,282.9 405.4,284.8 405.8,286.8 406.2,289.4 406.6,293.1 407.0,298.7 407.4,303.5 407.8,307.8 408.2,312.0 408.6,316.7 409.0,322.3 409.4,330.1 409.8,339.6 410.2,348.2 410.6,354.8 411.0,360.9 411.4,366.2 411.8,370.6 412.2,373.9 412.6,376.8 413.0,379.2 413.4,380.8 413.8,381.4 414.2,381.8 414.6,381.5 415.0,382.0 415.4,381.5 415.8,382.3 416.2,382.0 416.6,381.3 417.0,382.5 417.4,382.1 417.8,381.4 418.2,382.2 418.6,382.2 419.0,382.9 419.4,381.6 419.8,382.4 420.2,382.0 420.6,382.3 421.0,381.8 421.4,381.9 421.8,382.1 422.2,381.2 422.6,380.7 423.0,381.7 423.4,381.4 423.8,381.6 424.2,381.8 424.6,381.3 425.0,381.9 425.4,381.2 425.8,381.2 426.2,381.5 426.6,381.3 427.0,380.9 427.4,380.9 427.8,380.4 428.2,380.4 428.6,380.7 429.0,381.1 429.4,380.4 429.8,381.0 430.2,381.6 430.6,381.7 431.0,380.7 431.4,381.2 431.8,381.0 432.2,381.1 432.6,381.2 433.0,381.1 433.4,381.3 433.8,381.1 434.2,380.9 434.6,381.3 435.0,381.5 435.4,381.9 435.8,381.6 436.2,381.9 436.6,382.3 437.0,381.2 437.4,381.7 437.8,382.2 438.2,382.0 438.6,381.6 439.0,382.7 439.4,382.3 439.8,382.0 440.2,383.5 440.6,382.0 441.0,382.8 441.4,382.6 441.8,383.1 442.2,383.5 442.6,383.0 443.0,383.5 443.4,383.7 443.8,383.4 444.2,384.7 444.6,384.4 445.0,384.4 445.4,384.4 445.8,384.8 446.2,385.2 446.6,385.1 447.0,386.1 447.4,384.4 447.8,384.8 448.2,385.9 448.6,385.3 449.0,386.3 449.4,386.2 449.8,387.0 450.2,387.0 450.6,387.6 451.0,387.6 451.4,387.8 451.8,387.6 452.2,387.9 452.6,387.6 453.0,387.0 453.4,386.7 453.8,386.7 454.2,387.5 454.6,386.0 455.0,387.3 455.4,386.8 455.8,387.5 456.2,387.2 456.6,386.6 457.0,387.0 457.4,385.8 457.8,387.0 458.2,387.0 458.6,385.8 459.0,387.1 459.4,386.5 459.8,386.6 460.2,385.7 460.6,386.6 461.0,386.6 461.4,386.2 461.8,385.6 462.2,386.3 462.6,386.4 463.0,385.8 463.4,385.8 463.8,384.8 464.2,385.0 464.6,384.8 465.0,384.5 465.4,385.6 465.8,384.1 466.2,383.4 466.6,383.9 467.0,382.8 467.4,383.3 467.8,383.4 468.2,382.7 468.6,382.7 469.0,382.4 469.4,382.9 469.8,382.5 470.2,383.7 470.6,383.2 471.0,382.8 471.4,382.2 471.8,384.0 472.2,383.7 472.6,383.3 473.0,383.2 473.4,383.3 473.8,383.0 474.2,384.3 474.6,383.5 475.0,382.8 475.4,383.2 475.8,382.4 476.2,384.1 476.6,384.3 477.0,384.9 477.4,385.2 477.8,383.9 478.2,384.6 478.6,385.1 479.0,385.1 479.4,384.6 479.8,385.5 480.2,385.6 480.6,386.8 481.0,386.7 481.4,386.7 481.8,386.7 482.2,386.8 482.6,386.7 483.0,387.0 483.4,387.4 483.8,387.5 484.2,388.0 484.6,387.9 485.0,387.7 485.4,386.8 485.8,387.7 486.2,388.0 486.6,386.8 487.0,386.9 487.4,387.0 487.8,387.0 488.2,387.4 488.6,387.1 489.0,387.8 489.4,387.0 489.8,387.6 490.2,387.4 490.6,387.2 491.0,388.3 491.4,387.8 491.8,388.1 492.2,387.7 492.6,388.3 493.0,388.4 493.4,388.1 493.8,387.4 494.2,388.8 494.6,388.9 495.0,388.8 495.4,389.0 495.8,389.1 496.2,389.3 496.6,388.9 497.0,389.5 497.4,389.9 497.8,389.6 498.2,389.5 498.6,391.1 499.0,390.6 499.4,390.2 499.8,390.2 500.2,389.2 500.6,389.9 501.0,390.5 501.4,391.3 501.8,389.6 502.2,390.2 502.6,391.4 503.0,390.6 503.4,390.3 503.8,390.4 504.2,389.5 504.6,389.2 505.0,389.3 505.4,388.6 505.8,388.1 506.2,386.8 506.6,384.9 507.0,382.4 507.4,379.5 507.8,376.4 508.2,373.2 508.6,370.2 509.0,367.2 509.4,363.8 509.8,359.3 510.2,352.8 510.6,336.8 511.0,321.7 511.4,317.4 511.8,315.2 512.2,313.3 512.6,310.4 513.0,306.4 513.4,301.9 513.8,297.5 514.2,293.6 514.6,290.7 515.0,288.0 515.4,285.4 515.8,283.3 516.2,281.8 516.6,281.1 517.0,280.5 517.4,280.0 517.8,279.6 518.2,279.4" stroke="#d8462e"/>
<path d="M289.0,263.1 289.4,263.1 289.8,263.1 290.2,263.1 290.6,263.2 291.0,263.2 291.4,263.3 291.8,263.3 292.2,263.4 292.6,263.5 293.0,263.5 293.4,263.6 293.8,263.7 294.2,263.8 294.6,263.9 295.0,264.0 295.4,264.1 295.8,264.2 296.2,264.4 296.6,264.6 297.0,264.8 297.4,265.1 297.8,265.4 298.2,265.8 298.6,266.1 299.0,266.5 299.4,266.9 299.8,267.4 300.2,267.9 300.6,268.5 301.0,269.2 301.4,270.0 301.8,270.9 302.2,272.3 302.6,274.3 303.0,276.7 303.4,279.2 303.8,281.7 304.2,284.3 304.6,287.2 305.0,290.2 305.4,293.4 305.8,296.9 306.2,300.9 306.6,305.8 307.0,311.9 307.4,318.8 307.8,326.0 308.2,333.6 308.6,341.9 309.0,350.0 309.4,357.7 309.8,365.3 310.2,372.3 310.6,378.6 311.0,384.5 311.4,390.8 311.8,396.8 312.2,394.7 312.6,391.0 313.0,386.0 313.4,381.0 313.8,377.4 314.2,374.4 314.6,372.3 315.0,370.8 315.4,369.4 315.8,368.2 316.2,367.1 316.6,366.3 317.0,365.8 317.4,365.6 317.8,365.8 318.2,366.5 318.6,367.4 319.0,368.5 319.4,369.8 319.8,371.1 320.2,372.3 320.6,373.6 321.0,375.1 321.4,376.8 321.8,378.3 322.2,379.6 322.6,380.6 323.0,381.4 323.4,382.2 323.8,382.9 324.2,383.5 324.6,384.1 325.0,384.7 325.4,385.2 325.8,385.7 326.2,386.2 326.6,386.7 327.0,387.1 327.4,387.6 327.8,388.0 328.2,388.3 328.6,388.6 329.0,388.9 329.4,389.2 329.8,389.5 330.2,389.7 330.6,389.9 331.0,390.1 331.4,390.1 331.8,390.0 332.2,389.9 332.6,389.7 333.0,389.4 333.4,389.1 333.8,388.8 334.2,388.4 334.6,388.0 335.0,387.6 335.4,387.1 335.8,386.7 336.2,386.2 336.6,385.5 337.0,384.8 337.4,383.9 337.8,383.1 338.2,382.2 338.6,381.4 339.0,380.7 339.4,380.1 339.8,379.6 340.2,379.2 340.6,378.7 341.0,378.3 341.4,377.8 341.8,377.5 342.2,377.2 342.6,377.1 343.0,377.0 343.4,377.0 343.8,377.1 344.2,377.2 344.6,377.4 345.0,377.6 345.4,377.7 345.8,377.9 346.2,378.1 346.6,378.3 347.0,378.4 347.4,378.6 347.8,378.8 348.2,379.1 348.6,379.3 349.0,379.5 349.4,379.8 349.8,380.1 350.2,380.4 350.6,380.7 351.0,381.1 351.4,381.5 351.8,382.1 352.2,382.7 352.6,383.3 353.0,384.0 353.4,384.8 353.8,385.6 354.2,386.6 354.6,387.6 355.0,388.7 355.4,389.7 355.8,390.7 356.2,391.7 356.6,392.7 357.0,393.7 357.4,394.9 357.8,396.0 358.2,397.1 358.6,398.1 359.0,399.1 359.4,400.0 359.8,400.8 360.2,401.4 360.6,401.8 361.0,402.1 361.4,402.4 361.8,402.6 362.2,402.8 362.6,403.0 363.0,403.0 363.4,402.9 363.8,402.8 364.2,402.5 364.6,402.2 365.0,401.9 365.4,401.5 365.8,400.9 366.2,400.2 366.6,399.3 367.0,398.3 367.4,397.2 367.8,396.0 368.2,394.7 368.6,393.2 369.0,391.2 369.4,388.8 369.8,386.2 370.2,383.7 370.6,381.5 371.0,379.1 371.4,376.6 371.8,374.2 372.2,372.2 372.6,370.9 373.0,370.6 373.4,370.6 373.8,370.6 374.2,370.6 374.6,370.6 375.0,370.6 375.4,370.7 375.8,371.1 376.2,371.8 376.6,372.5 377.0,373.2 377.4,373.9 377.8,374.4 378.2,375.0 378.6,375.5 379.0,376.0 379.4,376.2 379.8,375.9 380.2,374.9 380.6,373.2 381.0,371.1 381.4,368.7 381.8,366.1 382.2,362.9 382.6,358.7 383.0,353.6 383.4,346.7 383.8,340.3 384.2,334.4 384.6,328.5 385.0,322.5 385.4,316.8 385.8,312.0 386.2,308.2 386.6,304.9 387.0,302.0 387.4,299.2 387.8,296.5 388.2,293.6 388.6,290.5 389.0,287.0 389.4,283.4 389.8,280.0 390.2,277.2 390.6,275.1 391.0,273.2 391.4,271.5 391.8,270.0 392.2,268.6 392.6,267.6 393.0,266.8 393.4,266.3 393.8,265.9 394.2,265.5 394.6,265.1 395.0,264.8 395.4,264.5 395.8,264.2 396.2,264.0 396.6,263.8 397.0,263.6 397.4,263.5 397.8,263.4 398.2,263.3 398.6,263.2 399.0,263.2 399.4,263.1 399.8,263.0 400.2,263.0 400.6,262.9 401.0,262.9 401.4,262.8 401.8,262.8 402.2,262.8 402.6,262.7 403.0,262.7 403.4,262.7 403.8,262.7 404.2,262.7 404.6,262.7 405.0,262.8 405.4,262.8 405.8,262.9 406.2,262.9 406.6,263.0 407.0,263.1 407.4,263.2 407.8,263.3 408.2,263.5 408.6,263.6 409.0,263.7 409.4,263.9 409.8,264.0 410.2,264.2 410.6,264.3 411.0,264.5 411.4,264.7 411.8,265.0 412.2,265.3 412.6,265.6 413.0,265.9 413.4,266.3 413.8,266.7 414.2,267.1 414.6,267.6 415.0,268.2 415.4,268.8 415.8,269.5 416.2,270.4 416.6,271.5 417.0,273.3 417.4,275.5 417.8,278.0 418.2,280.4 418.6,283.0 419.0,285.7 419.4,288.7 419.8,291.8 420.2,295.1 420.6,298.8 421.0,303.2 421.4,308.8 421.8,315.3 422.2,322.4 422.6,329.6 423.0,337.7 423.4,346.0 423.8,353.9 424.2,361.6 424.6,368.9 425.0,375.5 425.4,381.6 425.8,387.5 426.2,394.8 426.6,396.2 427.0,392.9 427.4,388.7 427.8,383.4 428.2,379.1 428.6,375.8 429.0,373.2 429.4,371.5 429.8,370.1 430.2,368.8 430.6,367.6 431.0,366.7 431.4,366.0 431.8,365.6 432.2,365.8 432.6,367.4 433.0,369.4 433.4,370.9 433.8,371.9 434.2,372.8 434.6,373.7 435.0,374.5 435.4,375.2 435.8,375.9 436.2,376.5 436.6,377.1 437.0,377.8 437.4,378.4 437.8,378.9 438.2,379.5 438.6,380.0 439.0,380.5 439.4,381.0 439.8,381.5 440.2,381.9 440.6,382.3 441.0,382.7 441.4,383.1 441.8,383.4 442.2,383.8 442.6,384.2 443.0,384.5 443.4,384.7 443.8,384.9 444.2,385.1 444.6,385.1 445.0,385.0 445.4,384.6 445.8,384.2 446.2,383.7 446.6,383.1 447.0,382.5 447.4,381.8 447.8,381.3 448.2,380.7 448.6,380.1 449.0,379.5 449.4,378.8 449.8,378.1 450.2,377.5 450.6,376.8 451.0,376.2 451.4,375.7 451.8,375.3 452.2,375.0 452.6,374.9 453.0,374.7 453.4,374.6 453.8,374.4 454.2,374.3 454.6,374.2 455.0,374.1 455.4,374.0 455.8,374.0 456.2,373.9 456.6,373.9 457.0,373.9 457.4,374.0 457.8,374.1 458.2,374.3 458.6,374.5 459.0,374.7 459.4,375.0 459.8,375.2 460.2,375.5 460.6,375.8 461.0,376.1 461.4,376.3 461.8,376.6 462.2,377.0 462.6,377.3 463.0,377.7 463.4,378.1 463.8,378.5 464.2,378.9 464.6,379.4 465.0,379.9 465.4,380.3 465.8,380.9 466.2,381.4 466.6,382.0 467.0,382.7 467.4,383.4 467.8,384.1 468.2,384.8 468.6,385.6 469.0,386.3 469.4,387.1 469.8,387.8 470.2,388.6 470.6,389.4 471.0,390.1 471.4,390.9 471.8,391.8 472.2,392.6 472.6,393.4 473.0,394.2 473.4,395.1 473.8,395.9 474.2,396.7 474.6,397.5 475.0,398.4 475.4,399.4 475.8,400.5 476.2,401.5 476.6,402.4 477.0,403.2 477.4,403.7 477.8,404.0 478.2,404.0 478.6,404.0 479.0,404.0 479.4,404.0 479.8,404.0 480.2,404.0 480.6,403.7 481.0,403.2 481.4,402.5 481.8,401.6 482.2,400.6 482.6,399.5 483.0,398.4 483.4,397.3 483.8,396.0 484.2,394.3 484.6,392.4 485.0,390.4 485.4,388.3 485.8,386.3 486.2,384.6 486.6,383.1 487.0,381.9 487.4,380.7 487.8,379.5 488.2,378.4 488.6,377.4 489.0,376.6 489.4,376.0 489.8,375.6 490.2,375.6 490.6,375.8 491.0,376.0 491.4,376.4 491.8,376.8 492.2,377.2 492.6,377.6 493.0,378.0 493.4,378.4 493.8,378.7 494.2,378.9 494.6,378.9 495.0,377.9 495.4,375.9 495.8,373.4 496.2,369.9 496.6,363.3 497.0,356.9 497.4,355.0 497.8,351.2 498.2,343.4 498.6,337.3 499.0,331.4 499.4,325.5 499.8,319.6 500.2,314.2 500.6,310.0 501.0,306.5 501.4,303.4 501.8,300.6 502.2,297.9 502.6,295.1 503.0,292.1 503.4,288.7 503.8,285.2 504.2,281.7 504.6,278.5 505.0,276.1 505.4,274.2 505.8,272.4 506.2,270.7 506.6,269.3 507.0,268.1 507.4,267.2 507.8,266.6 508.2,266.1 508.6,265.7 509.0,265.3 509.4,264.9 509.8,264.6 510.2,264.3 510.6,264.1 511.0,263.9 511.4,263.7 511.8,263.6 512.2,263.4 512.6,263.4 513.0,263.3 513.4,263.2 513.8,263.1 514.2,263.1 514.6,263.0 515.0,263.0 515.4,262.9 515.8,262.9 516.2,262.8 516.6,262.8 517.0,262.7 517.4,262.7 517.8,262.7 518.2,262.7" stroke="#48bfc9"/>
<path d="M289.0,271.0 289.4,272.5 289.8,274.2 290.2,276.0 290.6,278.0 291.0,280.0 291.4,282.3 291.8,285.3 292.2,289.0 292.6,293.9 293.0,299.8 293.4,306.5 293.8,314.3 294.2,322.3 294.6,330.2 295.0,338.2 295.4,345.5 295.8,351.3 296.2,355.7 296.6,359.4 297.0,362.8 297.4,366.5 297.8,371.0 298.2,377.3 298.6,385.3 299.0,392.3 299.4,397.9 299.8,395.7 300.2,388.6 300.6,387.1 301.0,386.0 301.4,385.2 301.8,384.8 302.2,384.8 302.6,384.2 303.0,385.2 303.4,384.5 303.8,385.1 304.2,386.6 304.6,385.8 305.0,386.2 305.4,385.7 305.8,385.8 306.2,385.6 306.6,385.5 307.0,385.6 307.4,385.8 307.8,385.4 308.2,385.4 308.6,384.6 309.0,385.0 309.4,384.5 309.8,384.5 310.2,383.7 310.6,383.6 311.0,383.9 311.4,383.6 311.8,383.3 312.2,383.0 312.6,383.1 313.0,383.1 313.4,383.1 313.8,382.6 314.2,382.6 314.6,382.8 315.0,382.3 315.4,382.8 315.8,382.5 316.2,382.4 316.6,381.6 317.0,381.9 317.4,382.0 317.8,382.1 318.2,382.0 318.6,382.5 319.0,382.5 319.4,382.4 319.8,382.0 320.2,383.1 320.6,382.8 321.0,383.1 321.4,382.8 321.8,383.1 322.2,383.3 322.6,383.1 323.0,383.2 323.4,382.7 323.8,383.0 324.2,381.6 324.6,381.6 325.0,381.7 325.4,380.9 325.8,380.5 326.2,379.7 326.6,380.2 327.0,378.9 327.4,379.4 327.8,379.0 328.2,379.1 328.6,379.1 329.0,378.5 329.4,378.5 329.8,378.7 330.2,378.9 330.6,378.9 331.0,379.0 331.4,379.0 331.8,379.0 332.2,379.0 332.6,378.9 333.0,378.9 333.4,378.8 333.8,378.7 334.2,378.6 334.6,378.5 335.0,378.4 335.4,378.3 335.8,378.2 336.2,378.2 336.6,378.1 337.0,378.0 337.4,377.9 337.8,377.9 338.2,377.8 338.6,377.8 339.0,377.8 339.4,377.8 339.8,377.8 340.2,377.8 340.6,377.8 341.0,377.8 341.4,377.8 341.8,377.9 342.2,377.9 342.6,377.9 343.0,377.9 343.4,377.9 343.8,377.9 344.2,378.0 344.6,378.0 345.0,378.0 345.4,378.0 345.8,378.1 346.2,378.1 346.6,378.1 347.0,378.2 347.4,378.2 347.8,378.3 348.2,378.3 348.6,378.4 349.0,378.4 349.4,378.5 349.8,378.6 350.2,378.6 350.6,378.7 351.0,378.8 351.4,378.9 351.8,379.0 352.2,379.0 352.6,379.2 353.0,379.3 353.4,379.5 353.8,379.7 354.2,379.9 354.6,380.1 355.0,380.3 355.4,380.6 355.8,380.8 356.2,381.1 356.6,381.3 357.0,381.6 357.4,381.8 357.8,382.0 358.2,382.2 358.6,382.4 359.0,382.6 359.4,382.8 359.8,382.9 360.2,383.0 360.6,383.1 361.0,383.2 361.4,383.3 361.8,383.4 362.2,383.5 362.6,383.5 363.0,383.7 363.4,383.8 363.8,383.9 364.2,384.1 364.6,384.3 365.0,384.6 365.4,385.0 365.8,385.4 366.2,385.8 366.6,386.3 367.0,386.8 367.4,387.2 367.8,387.7 368.2,388.2 368.6,388.6 369.0,389.1 369.4,389.5 369.8,390.0 370.2,390.5 370.6,391.0 371.0,391.5 371.4,392.0 371.8,392.6 372.2,393.1 372.6,393.6 373.0,394.1 373.4,394.7 373.8,395.4 374.2,396.1 374.6,396.8 375.0,397.6 375.4,398.4 375.8,399.1 376.2,399.8 376.6,400.4 377.0,400.9 377.4,401.3 377.8,401.6 378.2,401.8 378.6,401.8 379.0,401.7 379.4,401.5 379.8,401.2 380.2,400.9 380.6,400.5 381.0,400.0 381.4,399.1 381.8,397.5 382.2,395.5 382.6,393.5 383.0,391.0 383.4,388.2 383.8,385.3 384.2,382.8 384.6,380.6 385.0,378.4 385.4,376.5 385.8,374.8 386.2,373.3 386.6,372.1 387.0,371.0 387.4,370.0 387.8,369.0 388.2,368.1 388.6,367.3 389.0,366.5 389.4,365.7 389.8,365.0 390.2,364.4 390.6,363.9 391.0,363.4 391.4,362.8 391.8,362.1 392.2,361.2 392.6,360.2 393.0,358.7 393.4,356.6 393.8,352.5 394.2,345.0 394.6,332.5 395.0,320.0 395.4,313.5 395.8,306.7 396.2,299.0 396.6,291.8 397.0,286.3 397.4,283.0 397.8,280.2 398.2,277.9 398.6,276.1 399.0,274.9 399.4,274.2 399.8,273.5 400.2,273.0 400.6,272.5 401.0,272.1 401.4,271.7 401.8,271.5 402.2,271.4 402.6,271.4 403.0,271.6 403.4,271.9 403.8,272.4 404.2,273.2 404.6,275.0 405.0,277.0 405.4,278.9 405.8,281.1 406.2,283.7 406.6,287.0 407.0,291.3 407.4,296.7 407.8,303.0 408.2,310.3 408.6,318.4 409.0,326.2 409.4,334.2 409.8,342.0 410.2,348.6 410.6,353.5 411.0,357.2 411.4,360.3 411.8,363.7 412.2,368.0 412.6,374.5 413.0,389.7 413.4,402.3 413.8,401.7 414.2,397.2 414.6,391.8 415.0,387.5 415.4,383.5 415.8,379.6 416.2,376.9 416.6,376.2 417.0,376.5 417.4,377.1 417.8,377.9 418.2,378.6 418.6,379.4 419.0,380.0 419.4,380.6 419.8,381.3 420.2,382.0 420.6,382.7 421.0,383.2 421.4,383.7 421.8,383.9 422.2,384.0 422.6,384.0 423.0,383.9 423.4,383.8 423.8,383.7 424.2,383.5 424.6,383.3 425.0,383.1 425.4,382.9 425.8,382.7 426.2,382.5 426.6,382.2 427.0,382.0 427.4,381.8 427.8,381.6 428.2,381.3 428.6,381.1 429.0,381.0 429.4,380.8 429.8,380.7 430.2,380.5 430.6,380.4 431.0,380.3 431.4,380.2 431.8,380.1 432.2,380.0 432.6,379.9 433.0,379.8 433.4,379.7 433.8,379.6 434.2,379.5 434.6,379.4 435.0,379.3 435.4,379.2 435.8,379.1 436.2,379.0 436.6,379.0 437.0,378.9 437.4,378.8 437.8,378.8 438.2,378.7 438.6,378.7 439.0,378.6 439.4,378.6 439.8,378.5 440.2,378.5 440.6,378.5 441.0,378.5 441.4,378.5 441.8,378.5 442.2,378.5 442.6,378.5 443.0,378.5 443.4,378.5 443.8,378.6 444.2,378.6 444.6,378.6 445.0,378.6 445.4,378.6 445.8,378.6 446.2,378.7 446.6,378.7 447.0,378.7 447.4,378.7 447.8,378.7 448.2,378.7 448.6,378.7 449.0,378.6 449.4,378.5 449.8,378.4 450.2,378.3 450.6,378.1 451.0,377.9 451.4,377.7 451.8,377.5 452.2,377.3 452.6,377.1 453.0,376.9 453.4,376.6 453.8,376.4 454.2,376.2 454.6,376.0 455.0,375.8 455.4,375.6 455.8,375.4 456.2,375.3 456.6,375.2 457.0,375.1 457.4,375.0 457.8,375.0 458.2,375.0 458.6,375.1 459.0,375.1 459.4,375.2 459.8,375.3 460.2,375.4 460.6,375.6 461.0,375.8 461.4,375.9 461.8,376.1 462.2,376.3 462.6,376.6 463.0,376.8 463.4,377.0 463.8,377.3 464.2,377.5 464.6,377.8 465.0,378.0 465.4,378.3 465.8,378.5 466.2,378.9 466.6,379.2 467.0,379.7 467.4,380.1 467.8,380.6 468.2,381.1 468.6,381.5 469.0,381.9 469.4,382.3 469.8,382.6 470.2,382.9 470.6,383.1 471.0,383.2 471.4,383.4 471.8,383.6 472.2,383.7 472.6,383.8 473.0,384.0 473.4,384.1 473.8,384.2 474.2,384.3 474.6,384.4 475.0,384.5 475.4,384.6 475.8,384.7 476.2,384.8 476.6,384.9 477.0,385.0 477.4,385.1 477.8,385.2 478.2,385.4 478.6,385.5 479.0,385.7 479.4,385.9 479.8,386.1 480.2,386.3 480.6,386.6 481.0,386.9 481.4,387.2 481.8,387.6 482.2,388.0 482.6,388.5 483.0,388.9 483.4,389.4 483.8,390.0 484.2,390.5 484.6,391.0 485.0,391.6 485.4,392.2 485.8,392.7 486.2,393.3 486.6,393.9 487.0,394.5 487.4,395.2 487.8,395.9 488.2,396.8 488.6,397.6 489.0,398.5 489.4,399.3 489.8,400.1 490.2,400.7 490.6,401.3 491.0,401.7 491.4,401.9 491.8,402.1 492.2,402.3 492.6,402.5 493.0,402.6 493.4,402.7 493.8,402.8 494.2,402.9 494.6,402.9 495.0,402.7 495.4,402.2 495.8,401.5 496.2,400.7 496.6,399.7 497.0,398.5 497.4,396.6 497.8,394.1 498.2,391.4 498.6,388.7 499.0,386.2 499.4,383.8 499.8,381.2 500.2,378.6 500.6,376.3 501.0,374.5 501.4,373.4 501.8,372.5 502.2,371.8 502.6,371.2 503.0,370.7 503.4,370.2 503.8,369.6 504.2,369.0 504.6,368.2 505.0,367.3 505.4,366.4 505.8,365.5 506.2,364.4 506.6,363.3 507.0,362.0 507.4,360.8 507.8,359.3 508.2,357.0 508.6,349.9 509.0,339.2 509.4,325.3 509.8,316.5 510.2,310.3 510.6,302.9 511.0,295.2 511.4,288.7 511.8,284.6 512.2,281.6 512.6,279.0 513.0,276.9 513.4,275.4 513.8,274.5 514.2,273.9 514.6,273.2 515.0,272.7 515.4,272.3 515.8,271.9 516.2,271.6 516.6,271.5 517.0,271.4 517.4,271.5 517.8,271.8 518.2,272.1" stroke="#f0a48a"/>
<path d="M289.0,262.0 289.4,262.0 289.8,262.0 290.2,261.9 290.6,261.9 291.0,261.9 291.4,261.9 291.8,261.8 292.2,261.8 292.6,261.8 293.0,261.7 293.4,261.7 293.8,261.7 294.2,261.6 294.6,261.6 295.0,261.6 295.4,261.5 295.8,261.5 296.2,261.4 296.6,261.4 297.0,261.3 297.4,261.3 297.8,261.2 298.2,261.1 298.6,261.0 299.0,261.0 299.4,260.9 299.8,260.8 300.2,260.7 300.6,260.7 301.0,260.6 301.4,260.6 301.8,260.5 302.2,260.5 302.6,260.4 303.0,260.4 303.4,260.4 303.8,260.4 304.2,260.5 304.6,260.5 305.0,260.7 305.4,260.8 305.8,261.0 306.2,261.2 306.6,261.4 307.0,261.6 307.4,262.0 307.8,262.6 308.2,263.3 308.6,264.1 309.0,265.0 309.4,266.0 309.8,267.1 310.2,268.6 310.6,270.5 311.0,272.6 311.4,274.9 311.8,277.4 312.2,280.3 312.6,283.2 313.0,286.1 313.4,288.8 313.8,291.4 314.2,294.1 314.6,297.0 315.0,300.2 315.4,304.0 315.8,308.7 316.2,314.0 316.6,319.6 317.0,325.1 317.4,331.0 317.8,337.1 318.2,343.2 318.6,348.7 319.0,353.8 319.4,358.7 319.8,363.1 320.2,366.7 320.6,369.7 321.0,372.5 321.4,375.0 321.8,377.1 322.2,378.5 322.6,379.4 323.0,380.1 323.4,380.6 323.8,381.1 324.2,381.4 324.6,381.5 325.0,381.3 325.4,380.8 325.8,380.0 326.2,379.0 326.6,378.0 327.0,377.1 327.4,376.3 327.8,375.8 328.2,375.5 328.6,375.3 329.0,375.1 329.4,374.9 329.8,374.8 330.2,374.6 330.6,374.6 331.0,374.5 331.4,374.5 331.8,374.5 332.2,374.6 332.6,374.7 333.0,374.8 333.4,375.0 333.8,375.1 334.2,375.3 334.6,375.5 335.0,375.8 335.4,376.3 335.8,376.8 336.2,377.5 336.6,378.1 337.0,378.8 337.4,379.4 337.8,379.9 338.2,380.3 338.6,380.8 339.0,381.3 339.4,381.7 339.8,382.1 340.2,382.6 340.6,383.0 341.0,383.4 341.4,383.7 341.8,384.1 342.2,384.4 342.6,384.8 343.0,385.1 343.4,385.5 343.8,385.8 344.2,386.1 344.6,386.4 345.0,386.7 345.4,386.9 345.8,387.1 346.2,387.4 346.6,387.6 347.0,387.8 347.4,388.0 347.8,388.2 348.2,388.4 348.6,388.5 349.0,388.7 349.4,388.8 349.8,388.9 350.2,389.0 350.6,389.0 351.0,388.9 351.4,388.5 351.8,387.9 352.2,387.2 352.6,386.5 353.0,385.7 353.4,384.9 353.8,384.2 354.2,383.5 354.6,382.8 355.0,382.0 355.4,381.2 355.8,380.4 356.2,379.7 356.6,379.1 357.0,378.6 357.4,378.3 357.8,378.1 358.2,377.8 358.6,377.6 359.0,377.4 359.4,377.2 359.8,377.1 360.2,376.9 360.6,376.8 361.0,376.8 361.4,376.7 361.8,376.7 362.2,376.8 362.6,377.1 363.0,377.4 363.4,377.9 363.8,378.4 364.2,379.0 364.6,379.7 365.0,380.4 365.4,381.3 365.8,382.5 366.2,384.0 366.6,385.6 367.0,387.2 367.4,388.8 367.8,390.7 368.2,392.8 368.6,394.9 369.0,396.5 369.4,397.3 369.8,396.9 370.2,395.5 370.6,393.3 371.0,389.9 371.4,383.0 371.8,375.5 372.2,367.9 372.6,360.2 373.0,353.4 373.4,347.6 373.8,342.4 374.2,337.7 374.6,333.5 375.0,329.7 375.4,325.9 375.8,322.3 376.2,318.9 376.6,315.5 377.0,312.0 377.4,308.3 377.8,304.4 378.2,300.5 378.6,296.6 379.0,293.0 379.4,289.5 379.8,285.9 380.2,282.5 380.6,279.3 381.0,276.7 381.4,274.5 381.8,272.4 382.2,270.4 382.6,268.7 383.0,267.2 383.4,266.0 383.8,265.2 384.2,264.6 384.6,264.0 385.0,263.5 385.4,263.0 385.8,262.6 386.2,262.2 386.6,261.9 387.0,261.7 387.4,261.5 387.8,261.4 388.2,261.3 388.6,261.2 389.0,261.1 389.4,261.0 389.8,260.9 390.2,260.8 390.6,260.7 391.0,260.7 391.4,260.6 391.8,260.5 392.2,260.5 392.6,260.4 393.0,260.4 393.4,260.4 393.8,260.3 394.2,260.3 394.6,260.3 395.0,260.3 395.4,260.3 395.8,260.3 396.2,260.4 396.6,260.4 397.0,260.5 397.4,260.5 397.8,260.6 398.2,260.7 398.6,260.7 399.0,260.8 399.4,260.9 399.8,260.9 400.2,261.0 400.6,261.0 401.0,261.1 401.4,261.1 401.8,261.1 402.2,261.1 402.6,261.0 403.0,260.9 403.4,260.8 403.8,260.8 404.2,260.8 404.6,260.8 405.0,260.9 405.4,260.9 405.8,260.9 406.2,261.0 406.6,261.1 407.0,261.1 407.4,261.2 407.8,261.3 408.2,261.3 408.6,261.4 409.0,261.4 409.4,261.5 409.8,261.5 410.2,261.5 410.6,261.5 411.0,261.5 411.4,261.4 411.8,261.4 412.2,261.3 412.6,261.3 413.0,261.2 413.4,261.1 413.8,261.0 414.2,261.0 414.6,260.9 415.0,260.8 415.4,260.7 415.8,260.6 416.2,260.6 416.6,260.5 417.0,260.5 417.4,260.4 417.8,260.4 418.2,260.4 418.6,260.4 419.0,260.5 419.4,260.6 419.8,260.7 420.2,260.9 420.6,261.1 421.0,261.3 421.4,261.5 421.8,261.8 422.2,262.3 422.6,262.9 423.0,263.7 423.4,264.5 423.8,265.5 424.2,266.5 424.6,267.8 425.0,269.6 425.4,271.6 425.8,273.7 426.2,276.1 426.6,278.8 427.0,281.8 427.4,284.7 427.8,287.5 428.2,290.1 428.6,292.7 429.0,295.5 429.4,298.5 429.8,302.0 430.2,306.3 430.6,311.3 431.0,316.8 431.4,322.3 431.8,328.4 432.2,335.3 432.6,342.0 433.0,347.4 433.4,350.6 433.8,352.2 434.2,353.6 434.6,355.6 435.0,359.2 435.4,364.0 435.8,369.0 436.2,373.6 436.6,376.8 437.0,378.6 437.4,380.0 437.8,380.6 438.2,380.4 438.6,379.9 439.0,379.2 439.4,378.3 439.8,377.4 440.2,376.5 440.6,375.7 441.0,375.1 441.4,374.7 441.8,374.4 442.2,374.0 442.6,373.7 443.0,373.4 443.4,373.1 443.8,372.9 444.2,372.6 444.6,372.5 445.0,372.4 445.4,372.3 445.8,372.3 446.2,372.3 446.6,372.4 447.0,372.5 447.4,372.6 447.8,372.8 448.2,372.9 448.6,373.1 449.0,373.3 449.4,373.6 449.8,373.8 450.2,374.0 450.6,374.4 451.0,374.8 451.4,375.3 451.8,375.9 452.2,376.6 452.6,377.3 453.0,378.0 453.4,378.7 453.8,379.4 454.2,380.1 454.6,380.8 455.0,381.4 455.4,382.1 455.8,382.8 456.2,383.5 456.6,384.3 457.0,385.0 457.4,385.7 457.8,386.4 458.2,387.1 458.6,387.8 459.0,388.4 459.4,389.1 459.8,389.8 460.2,390.5 460.6,391.2 461.0,391.8 461.4,392.3 461.8,392.7 462.2,392.9 462.6,392.9 463.0,392.6 463.4,392.3 463.8,391.9 464.2,391.3 464.6,390.7 465.0,390.0 465.4,389.4 465.8,388.7 466.2,388.0 466.6,387.4 467.0,386.9 467.4,386.3 467.8,385.7 468.2,385.0 468.6,384.4 469.0,383.8 469.4,383.1 469.8,382.5 470.2,381.9 470.6,381.4 471.0,380.8 471.4,380.4 471.8,379.8 472.2,379.3 472.6,378.8 473.0,378.3 473.4,377.9 473.8,377.5 474.2,377.3 474.6,377.3 475.0,377.3 475.4,377.4 475.8,377.5 476.2,377.6 476.6,377.8 477.0,377.9 477.4,378.1 477.8,378.3 478.2,378.7 478.6,379.3 479.0,380.1 479.4,381.2 479.8,382.5 480.2,383.9 480.6,385.4 481.0,387.0 481.4,388.6 481.8,390.2 482.2,391.7 482.6,393.5 483.0,395.8 483.4,398.1 483.8,400.1 484.2,401.5 484.6,401.7 485.0,400.0 485.4,396.5 485.8,392.0 486.2,383.2 486.6,372.3 487.0,359.6 487.4,355.0 487.8,353.0 488.2,346.4 488.6,340.0 489.0,335.6 489.4,331.6 489.8,327.8 490.2,324.1 490.6,320.6 491.0,317.2 491.4,313.8 491.8,310.2 492.2,306.4 492.6,302.4 493.0,298.6 493.4,294.8 493.8,291.2 494.2,287.7 494.6,284.2 495.0,280.9 495.4,277.9 495.8,275.6 496.2,273.4 496.6,271.4 497.0,269.5 497.4,267.9 497.8,266.6 498.2,265.6 498.6,264.9 499.0,264.3 499.4,263.7 499.8,263.2 500.2,262.8 500.6,262.4 501.0,262.1 501.4,261.8 501.8,261.6 502.2,261.4 502.6,261.3 503.0,261.2 503.4,261.1 503.8,261.0 504.2,260.9 504.6,260.8 505.0,260.8 505.4,260.7 505.8,260.6 506.2,260.6 506.6,260.5 507.0,260.5 507.4,260.4 507.8,260.4 508.2,260.3 508.6,260.3 509.0,260.3 509.4,260.3 509.8,260.3 510.2,260.3 510.6,260.3 511.0,260.4 511.4,260.4 511.8,260.5 512.2,260.6 512.6,260.6 513.0,260.7 513.4,260.8 513.8,260.8 514.2,260.9 514.6,261.0 515.0,261.0 515.4,261.1 515.8,261.1 516.2,261.1 516.6,261.1 517.0,261.1 517.4,261.0 517.8,260.9 518.2,260.9" stroke="#1a9687"/>
<path d="M289.0,257.0 289.4,257.0 289.8,257.0 290.2,257.1 290.6,257.1 291.0,257.1 291.4,257.1 291.8,257.1 292.2,257.2 292.6,257.2 293.0,257.2 293.4,257.2 293.8,257.3 294.2,257.3 294.6,257.3 295.0,257.3 295.4,257.4 295.8,257.4 296.2,257.4 296.6,257.4 297.0,257.5 297.4,257.5 297.8,257.5 298.2,257.5 298.6,257.6 299.0,257.6 299.4,257.6 299.8,257.6 300.2,257.7 300.6,257.7 301.0,257.7 301.4,257.8 301.8,257.8 302.2,257.8 302.6,257.9 303.0,257.9 303.4,257.9 303.8,257.9 304.2,258.0 304.6,258.0 305.0,258.0 305.4,258.1 305.8,258.1 306.2,258.1 306.6,258.2 307.0,258.2 307.4,258.2 307.8,258.3 308.2,258.3 308.6,258.3 309.0,258.3 309.4,258.4 309.8,258.4 310.2,258.4 310.6,258.5 311.0,258.5 311.4,258.5 311.8,258.6 312.2,258.6 312.6,258.6 313.0,258.7 313.4,258.7 313.8,258.8 314.2,258.8 314.6,258.9 315.0,258.9 315.4,259.0 315.8,259.0 316.2,259.1 316.6,259.2 317.0,259.2 317.4,259.3 317.8,259.5 318.2,259.6 318.6,259.8 319.0,260.0 319.4,260.2 319.8,260.4 320.2,260.7 320.6,261.0 321.0,261.3 321.4,261.6 321.8,262.0 322.2,262.5 322.6,263.2 323.0,263.9 323.4,264.8 323.8,265.7 324.2,266.8 324.6,268.4 325.0,270.4 325.4,272.6 325.8,274.9 326.2,277.2 326.6,279.7 327.0,282.4 327.4,285.4 327.8,288.8 328.2,292.6 328.6,296.7 329.0,300.9 329.4,305.2 329.8,309.7 330.2,314.4 330.6,319.5 331.0,325.3 331.4,332.1 331.8,339.5 332.2,346.7 332.6,353.2 333.0,359.6 333.4,365.4 333.8,370.5 334.2,375.2 334.6,378.8 335.0,382.0 335.4,384.2 335.8,384.3 336.2,383.4 336.6,382.1 337.0,381.0 337.4,379.7 337.8,379.9 338.2,378.8 338.6,378.3 339.0,377.3 339.4,377.2 339.8,376.6 340.2,376.5 340.6,376.1 341.0,376.9 341.4,376.4 341.8,375.9 342.2,377.2 342.6,377.0 343.0,377.1 343.4,378.5 343.8,377.9 344.2,377.7 344.6,378.2 345.0,378.8 345.4,378.9 345.8,379.6 346.2,379.7 346.6,379.2 347.0,379.7 347.4,380.1 347.8,379.9 348.2,380.1 348.6,380.7 349.0,380.7 349.4,380.2 349.8,380.7 350.2,380.8 350.6,381.0 351.0,380.9 351.4,381.6 351.8,380.8 352.2,380.8 352.6,381.1 353.0,380.1 353.4,380.3 353.8,380.6 354.2,379.7 354.6,379.5 355.0,379.9 355.4,379.2 355.8,378.5 356.2,377.8 356.6,376.6 357.0,376.0 357.4,374.7 357.8,373.0 358.2,370.8 358.6,368.2 359.0,365.3 359.4,361.3 359.8,356.9 360.2,353.3 360.6,350.2 361.0,347.4 361.4,344.6 361.8,341.6 362.2,338.3 362.6,334.8 363.0,331.2 363.4,327.5 363.8,323.6 364.2,319.8 364.6,315.9 365.0,312.0 365.4,308.0 365.8,303.8 366.2,299.6 366.6,295.6 367.0,292.1 367.4,289.0 367.8,286.1 368.2,283.4 368.6,281.0 369.0,278.7 369.4,276.6 369.8,274.5 370.2,272.5 370.6,270.6 371.0,269.0 371.4,267.6 371.8,266.4 372.2,265.4 372.6,264.5 373.0,263.6 373.4,262.8 373.8,262.1 374.2,261.5 374.6,261.1 375.0,260.7 375.4,260.4 375.8,260.2 376.2,259.9 376.6,259.7 377.0,259.4 377.4,259.2 377.8,259.0 378.2,258.9 378.6,258.7 379.0,258.6 379.4,258.4 379.8,258.3 380.2,258.2 380.6,258.1 381.0,258.1 381.4,258.0 381.8,258.0 382.2,258.0 382.6,257.9 383.0,257.9 383.4,257.9 383.8,257.9 384.2,257.9 384.6,257.8 385.0,257.8 385.4,257.8 385.8,257.8 386.2,257.8 386.6,257.8 387.0,257.7 387.4,257.7 387.8,257.7 388.2,257.7 388.6,257.7 389.0,257.7 389.4,257.7 389.8,257.7 390.2,257.7 390.6,257.6 391.0,257.6 391.4,257.6 391.8,257.6 392.2,257.6 392.6,257.6 393.0,257.6 393.4,257.6 393.8,257.6 394.2,257.6 394.6,257.6 395.0,257.6 395.4,257.6 395.8,257.6 396.2,257.6 396.6,257.6 397.0,257.6 397.4,257.6 397.8,257.6 398.2,257.6 398.6,257.6 399.0,257.6 399.4,257.6 399.8,257.6 400.2,257.6 400.6,257.6 401.0,257.6 401.4,257.6 401.8,257.6 402.2,257.6 402.6,257.6 403.0,257.6 403.4,257.6 403.8,257.6 404.2,257.6 404.6,257.6 405.0,257.6 405.4,257.6 405.8,257.6 406.2,257.6 406.6,257.6 407.0,257.6 407.4,257.6 407.8,257.6 408.2,257.6 408.6,257.7 409.0,257.7 409.4,257.7 409.8,257.7 410.2,257.7 410.6,257.7 411.0,257.7 411.4,257.7 411.8,257.7 412.2,257.8 412.6,257.8 413.0,257.8 413.4,257.8 413.8,257.8 414.2,257.8 414.6,257.8 415.0,257.9 415.4,257.9 415.8,257.9 416.2,257.9 416.6,257.9 417.0,257.9 417.4,258.0 417.8,258.0 418.2,258.0 418.6,258.0 419.0,258.0 419.4,258.1 419.8,258.1 420.2,258.1 420.6,258.1 421.0,258.1 421.4,258.2 421.8,258.2 422.2,258.2 422.6,258.2 423.0,258.2 423.4,258.3 423.8,258.3 424.2,258.3 424.6,258.4 425.0,258.4 425.4,258.4 425.8,258.5 426.2,258.5 426.6,258.5 427.0,258.6 427.4,258.6 427.8,258.7 428.2,258.7 428.6,258.8 429.0,258.8 429.4,258.9 429.8,258.9 430.2,259.0 430.6,259.1 431.0,259.1 431.4,259.2 431.8,259.3 432.2,259.4 432.6,259.5 433.0,259.7 433.4,259.9 433.8,260.1 434.2,260.3 434.6,260.5 435.0,260.8 435.4,261.1 435.8,261.4 436.2,261.8 436.6,262.3 437.0,262.8 437.4,263.5 437.8,264.3 438.2,265.2 438.6,266.2 439.0,267.5 439.4,269.3 439.8,271.5 440.2,273.7 440.6,276.0 441.0,278.4 441.4,281.0 441.8,283.9 442.2,287.0 442.6,290.6 443.0,294.6 443.4,298.8 443.8,303.1 444.2,307.4 444.6,312.0 445.0,316.9 445.4,322.3 445.8,328.1 446.2,334.4 446.6,341.6 447.0,350.0 447.4,362.6 447.8,369.8 448.2,374.6 448.6,380.5 449.0,387.5 449.4,393.4 449.8,398.5 450.2,399.2 450.6,397.3 451.0,395.0 451.4,392.9 451.8,390.7 452.2,388.7 452.6,388.2 453.0,386.1 453.4,384.5 453.8,383.6 454.2,383.0 454.6,382.3 455.0,382.6 455.4,383.7 455.8,383.0 456.2,383.7 456.6,384.7 457.0,385.3 457.4,384.8 457.8,386.1 458.2,385.8 458.6,386.7 459.0,386.4 459.4,386.1 459.8,386.4 460.2,386.2 460.6,385.7 461.0,386.6 461.4,385.6 461.8,386.0 462.2,385.3 462.6,384.7 463.0,384.8 463.4,385.1 463.8,385.2 464.2,385.5 464.6,384.9 465.0,384.7 465.4,384.3 465.8,384.6 466.2,384.7 466.6,383.7 467.0,384.8 467.4,384.6 467.8,384.8 468.2,383.4 468.6,382.8 469.0,381.6 469.4,379.6 469.8,378.2 470.2,376.9 470.6,375.2 471.0,373.2 471.4,371.0 471.8,368.8 472.2,366.6 472.6,364.3 473.0,361.4 473.4,358.5 473.8,356.2 474.2,355.1 474.6,355.0 475.0,354.0 475.4,351.3 475.8,347.7 476.2,343.7 476.6,340.0 477.0,336.6 477.4,333.0 477.8,329.4 478.2,325.6 478.6,321.7 479.0,317.8 479.4,313.9 479.8,310.0 480.2,305.9 480.6,301.6 481.0,297.5 481.4,293.8 481.8,290.5 482.2,287.5 482.6,284.7 483.0,282.2 483.4,279.8 483.8,277.6 484.2,275.5 484.6,273.5 485.0,271.5 485.4,269.8 485.8,268.2 486.2,267.0 486.6,265.9 487.0,265.0 487.4,264.0 487.8,263.2 488.2,262.5 488.6,261.8 489.0,261.3 489.4,260.9 489.8,260.6 490.2,260.3 490.6,260.0 491.0,259.8 491.4,259.6 491.8,259.3 492.2,259.1 492.6,259.0 493.0,258.8 493.4,258.6 493.8,258.5 494.2,258.4 494.6,258.3 495.0,258.2 495.4,258.1 495.8,258.0 496.2,258.0 496.6,258.0 497.0,258.0 497.4,257.9 497.8,257.9 498.2,257.9 498.6,257.9 499.0,257.9 499.4,257.8 499.8,257.8 500.2,257.8 500.6,257.8 501.0,257.8 501.4,257.7 501.8,257.7 502.2,257.7 502.6,257.7 503.0,257.7 503.4,257.7 503.8,257.7 504.2,257.7 504.6,257.7 505.0,257.6 505.4,257.6 505.8,257.6 506.2,257.6 506.6,257.6 507.0,257.6 507.4,257.6 507.8,257.6 508.2,257.6 508.6,257.6 509.0,257.6 509.4,257.6 509.8,257.6 510.2,257.6 510.6,257.6 511.0,257.6 511.4,257.6 511.8,257.6 512.2,257.6 512.6,257.6 513.0,257.6 513.4,257.6 513.8,257.6 514.2,257.6 514.6,257.6 515.0,257.6 515.4,257.6 515.8,257.6 516.2,257.6 516.6,257.6 517.0,257.6 517.4,257.6 517.8,257.6 518.2,257.6" stroke="#383f62"/>
</g></g>
<rect x="289.3" y="247.5" width="229.2" height="169.9" fill="none" stroke="#a0a0a0" stroke-width="1"/>
<path d="M346.60,417.4 v-2.3 M346.60,247.5 v2.3" stroke="#a0a0a0" stroke-width="1"/>
<path d="M403.90,417.4 v-2.3 M403.90,247.5 v2.3" stroke="#a0a0a0" stroke-width="1"/>
<path d="M461.20,417.4 v-2.3 M461.20,247.5 v2.3" stroke="#a0a0a0" stroke-width="1"/>
<path d="M289.3,289.98 h2.3 M518.5,289.98 h-2.3" stroke="#a0a0a0" stroke-width="1"/>
<path d="M289.3,332.45 h2.3 M518.5,332.45 h-2.3" stroke="#a0a0a0" stroke-width="1"/>
<path d="M289.3,374.92 h2.3 M518.5,374.92 h-2.3" stroke="#a0a0a0" stroke-width="1"/>
<text x="403.9" y="240.9" text-anchor="middle" class="t" textLength="103.2" lengthAdjust="spacingAndGlyphs">Chebyshev Type II</text>
<text x="269.2" y="240.00" class="lab">d.</text>
<text x="289.3" y="430.8" text-anchor="middle" class="tk">-1</text>
<text x="346.6" y="430.8" text-anchor="middle" class="tk">-0.5</text>
<text x="403.9" y="430.8" text-anchor="middle" class="tk">0</text>
<text x="461.2" y="430.8" text-anchor="middle" class="tk">0.5</text>
<text x="518.5" y="430.8" text-anchor="middle" class="tk">1</text>
<text x="403.3" y="445.8" text-anchor="middle" class="al" textLength="163.6" lengthAdjust="spacingAndGlyphs">Normalized frequency (f/FSR)</text>
<rect x="101.4" y="0.5" width="317.3" height="16.9" fill="#fff" stroke="#a0a0a0" stroke-width="1"/>
<path d="M112.0,10 H132.8" stroke="#d8462e" stroke-width="1.4" opacity="0.85"/>
<text x="134.4" y="12.6" class="lg" textLength="28.4" lengthAdjust="spacingAndGlyphs">5 GHz</text>
<path d="M168.8,10 H190.0" stroke="#48bfc9" stroke-width="1.4" opacity="0.85"/>
<text x="192.0" y="12.6" class="lg" textLength="33.1" lengthAdjust="spacingAndGlyphs">20 GHz</text>
<path d="M229.2,10 H250.4" stroke="#f0a48a" stroke-width="1.4" opacity="0.85"/>
<text x="252.8" y="12.6" class="lg" textLength="33.1" lengthAdjust="spacingAndGlyphs">10 GHz</text>
<path d="M288.8,10 H310.4" stroke="#1a9687" stroke-width="1.4" opacity="0.85"/>
<text x="312.4" y="12.6" class="lg" textLength="33.5" lengthAdjust="spacingAndGlyphs">30 GHz</text>
<path d="M350.0,10 H370.4" stroke="#383f62" stroke-width="1.4" opacity="0.85"/>
<text x="372.4" y="12.6" class="lg" textLength="33.9" lengthAdjust="spacingAndGlyphs">40 GHz</text>
</svg></body></html>
